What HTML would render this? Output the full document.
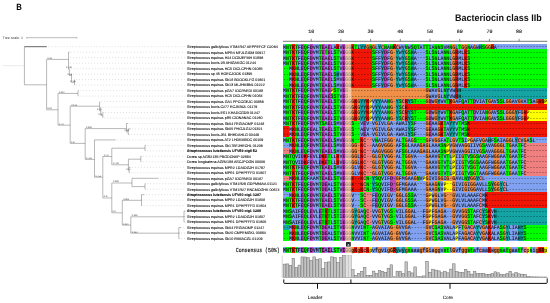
<!DOCTYPE html>
<html lang="en"><head><meta charset="utf-8"><title>Bacteriocin class IIb alignment</title>
<style>html,body{margin:0;padding:0;background:#fff}svg{display:block;filter:blur(0.3px)}.m{font-family:"Liberation Mono","DejaVu Sans Mono",monospace}.s{font-family:"Liberation Sans","DejaVu Sans",sans-serif}</style></head><body>
<svg width="550" height="303" viewBox="0 0 550 303" text-rendering="geometricPrecision">
<rect width="550" height="303" fill="#fff"/>
<g shape-rendering="crispEdges">
<rect x="283.00" y="44.00" width="2.97" height="5.53" fill="#80a0f0"/>
<rect x="285.97" y="44.00" width="5.94" height="5.53" fill="#00ff00"/>
<rect x="291.91" y="44.00" width="2.97" height="5.53" fill="#f01505"/>
<rect x="294.88" y="44.00" width="2.97" height="5.53" fill="#00ff00"/>
<rect x="297.85" y="44.00" width="2.97" height="5.53" fill="#80a0f0"/>
<rect x="300.82" y="44.00" width="2.97" height="5.53" fill="#c048c0"/>
<rect x="303.79" y="44.00" width="2.97" height="5.53" fill="#00ff00"/>
<rect x="306.76" y="44.00" width="2.97" height="5.53" fill="#80a0f0"/>
<rect x="309.73" y="44.00" width="2.97" height="5.53" fill="#c048c0"/>
<rect x="312.70" y="44.00" width="5.94" height="5.53" fill="#80a0f0"/>
<rect x="318.64" y="44.00" width="2.97" height="5.53" fill="#00ff00"/>
<rect x="321.61" y="44.00" width="2.97" height="5.53" fill="#c048c0"/>
<rect x="324.58" y="44.00" width="2.97" height="5.53" fill="#80a0f0"/>
<rect x="327.55" y="44.00" width="2.97" height="5.53" fill="#c048c0"/>
<rect x="330.52" y="44.00" width="5.94" height="5.53" fill="#80a0f0"/>
<rect x="336.46" y="44.00" width="2.97" height="5.53" fill="#f01505"/>
<rect x="339.43" y="44.00" width="2.97" height="5.53" fill="#80a0f0"/>
<rect x="342.40" y="44.00" width="2.97" height="5.53" fill="#c048c0"/>
<rect x="345.37" y="44.00" width="5.94" height="5.53" fill="#f09048"/>
<rect x="351.31" y="44.00" width="2.97" height="5.53" fill="#f01505"/>
<rect x="354.28" y="44.00" width="2.97" height="5.53" fill="#00ff00"/>
<rect x="357.25" y="44.00" width="2.97" height="5.53" fill="#80a0f0"/>
<rect x="360.22" y="44.00" width="5.94" height="5.53" fill="#15a4a4"/>
<rect x="366.16" y="44.00" width="2.97" height="5.53" fill="#f09048"/>
<rect x="369.13" y="44.00" width="2.97" height="5.53" fill="#00ff00"/>
<rect x="372.10" y="44.00" width="2.97" height="5.53" fill="#f09048"/>
<rect x="375.07" y="44.00" width="2.97" height="5.53" fill="#80a0f0"/>
<rect x="378.04" y="44.00" width="2.97" height="5.53" fill="#15a4a4"/>
<rect x="381.01" y="44.00" width="2.97" height="5.53" fill="#f08080"/>
<rect x="383.98" y="44.00" width="2.97" height="5.53" fill="#00ff00"/>
<rect x="386.95" y="44.00" width="2.97" height="5.53" fill="#80a0f0"/>
<rect x="389.92" y="44.00" width="2.97" height="5.53" fill="#00ff00"/>
<rect x="392.89" y="44.00" width="2.97" height="5.53" fill="#f01505"/>
<rect x="395.86" y="44.00" width="2.97" height="5.53" fill="#f08080"/>
<rect x="398.83" y="44.00" width="5.94" height="5.53" fill="#80a0f0"/>
<rect x="404.77" y="44.00" width="2.97" height="5.53" fill="#00ff00"/>
<rect x="407.74" y="44.00" width="2.97" height="5.53" fill="#80a0f0"/>
<rect x="410.71" y="44.00" width="8.91" height="5.53" fill="#00ff00"/>
<rect x="419.62" y="44.00" width="2.97" height="5.53" fill="#80a0f0"/>
<rect x="422.59" y="44.00" width="5.94" height="5.53" fill="#00ff00"/>
<rect x="428.53" y="44.00" width="5.94" height="5.53" fill="#80a0f0"/>
<rect x="434.47" y="44.00" width="8.91" height="5.53" fill="#00ff00"/>
<rect x="443.38" y="44.00" width="5.94" height="5.53" fill="#80a0f0"/>
<rect x="449.32" y="44.00" width="2.97" height="5.53" fill="#00ff00"/>
<rect x="452.29" y="44.00" width="2.97" height="5.53" fill="#f09048"/>
<rect x="455.26" y="44.00" width="2.97" height="5.53" fill="#80a0f0"/>
<rect x="458.23" y="44.00" width="2.97" height="5.53" fill="#00ff00"/>
<rect x="461.20" y="44.00" width="5.94" height="5.53" fill="#f09048"/>
<rect x="467.14" y="44.00" width="2.97" height="5.53" fill="#00ff00"/>
<rect x="470.11" y="44.00" width="2.97" height="5.53" fill="#80a0f0"/>
<rect x="473.08" y="44.00" width="2.97" height="5.53" fill="#f09048"/>
<rect x="476.05" y="44.00" width="2.97" height="5.53" fill="#80a0f0"/>
<rect x="479.02" y="44.00" width="2.97" height="5.53" fill="#15a4a4"/>
<rect x="481.99" y="44.00" width="2.97" height="5.53" fill="#00ff00"/>
<rect x="484.96" y="44.00" width="5.94" height="5.53" fill="#f09048"/>
<rect x="490.90" y="44.00" width="2.97" height="5.53" fill="#f01505"/>
<rect x="493.87" y="44.00" width="53.46" height="5.53" fill="#80a0f0"/>
<rect x="283.00" y="49.48" width="2.97" height="5.53" fill="#80a0f0"/>
<rect x="285.97" y="49.48" width="5.94" height="5.53" fill="#00ff00"/>
<rect x="291.91" y="49.48" width="2.97" height="5.53" fill="#f01505"/>
<rect x="294.88" y="49.48" width="2.97" height="5.53" fill="#00ff00"/>
<rect x="297.85" y="49.48" width="2.97" height="5.53" fill="#80a0f0"/>
<rect x="300.82" y="49.48" width="2.97" height="5.53" fill="#c048c0"/>
<rect x="303.79" y="49.48" width="2.97" height="5.53" fill="#00ff00"/>
<rect x="306.76" y="49.48" width="2.97" height="5.53" fill="#80a0f0"/>
<rect x="309.73" y="49.48" width="2.97" height="5.53" fill="#c048c0"/>
<rect x="312.70" y="49.48" width="5.94" height="5.53" fill="#80a0f0"/>
<rect x="318.64" y="49.48" width="2.97" height="5.53" fill="#00ff00"/>
<rect x="321.61" y="49.48" width="2.97" height="5.53" fill="#c048c0"/>
<rect x="324.58" y="49.48" width="2.97" height="5.53" fill="#00ff00"/>
<rect x="327.55" y="49.48" width="2.97" height="5.53" fill="#c048c0"/>
<rect x="330.52" y="49.48" width="2.97" height="5.53" fill="#80a0f0"/>
<rect x="333.49" y="49.48" width="5.94" height="5.53" fill="#00ff00"/>
<rect x="339.43" y="49.48" width="2.97" height="5.53" fill="#80a0f0"/>
<rect x="342.40" y="49.48" width="2.97" height="5.53" fill="#c048c0"/>
<rect x="345.37" y="49.48" width="5.94" height="5.53" fill="#f09048"/>
<rect x="351.31" y="49.48" width="20.79" height="5.53" fill="#f01505"/>
<rect x="372.10" y="49.48" width="2.97" height="5.53" fill="#00ff00"/>
<rect x="375.07" y="49.48" width="5.94" height="5.53" fill="#80a0f0"/>
<rect x="381.01" y="49.48" width="2.97" height="5.53" fill="#15a4a4"/>
<rect x="383.98" y="49.48" width="2.97" height="5.53" fill="#c048c0"/>
<rect x="386.95" y="49.48" width="2.97" height="5.53" fill="#80a0f0"/>
<rect x="389.92" y="49.48" width="5.94" height="5.53" fill="#f09048"/>
<rect x="395.86" y="49.48" width="2.97" height="5.53" fill="#15a4a4"/>
<rect x="398.83" y="49.48" width="2.97" height="5.53" fill="#80a0f0"/>
<rect x="401.80" y="49.48" width="2.97" height="5.53" fill="#15a4a4"/>
<rect x="404.77" y="49.48" width="2.97" height="5.53" fill="#f09048"/>
<rect x="407.74" y="49.48" width="2.97" height="5.53" fill="#00ff00"/>
<rect x="410.71" y="49.48" width="2.97" height="5.53" fill="#15a4a4"/>
<rect x="413.68" y="49.48" width="11.88" height="5.53" fill="#80a0f0"/>
<rect x="425.56" y="49.48" width="2.97" height="5.53" fill="#00ff00"/>
<rect x="428.53" y="49.48" width="2.97" height="5.53" fill="#80a0f0"/>
<rect x="431.50" y="49.48" width="5.94" height="5.53" fill="#00ff00"/>
<rect x="437.44" y="49.48" width="5.94" height="5.53" fill="#80a0f0"/>
<rect x="443.38" y="49.48" width="5.94" height="5.53" fill="#00ff00"/>
<rect x="449.32" y="49.48" width="2.97" height="5.53" fill="#80a0f0"/>
<rect x="452.29" y="49.48" width="2.97" height="5.53" fill="#f09048"/>
<rect x="455.26" y="49.48" width="2.97" height="5.53" fill="#f01505"/>
<rect x="458.23" y="49.48" width="5.94" height="5.53" fill="#80a0f0"/>
<rect x="464.17" y="49.48" width="2.97" height="5.53" fill="#f01505"/>
<rect x="467.14" y="49.48" width="80.19" height="5.53" fill="#00ff00"/>
<rect x="283.00" y="54.96" width="2.97" height="5.53" fill="#80a0f0"/>
<rect x="285.97" y="54.96" width="5.94" height="5.53" fill="#00ff00"/>
<rect x="291.91" y="54.96" width="2.97" height="5.53" fill="#f01505"/>
<rect x="294.88" y="54.96" width="2.97" height="5.53" fill="#00ff00"/>
<rect x="297.85" y="54.96" width="2.97" height="5.53" fill="#80a0f0"/>
<rect x="300.82" y="54.96" width="2.97" height="5.53" fill="#c048c0"/>
<rect x="303.79" y="54.96" width="2.97" height="5.53" fill="#00ff00"/>
<rect x="306.76" y="54.96" width="2.97" height="5.53" fill="#80a0f0"/>
<rect x="309.73" y="54.96" width="2.97" height="5.53" fill="#c048c0"/>
<rect x="312.70" y="54.96" width="5.94" height="5.53" fill="#80a0f0"/>
<rect x="318.64" y="54.96" width="2.97" height="5.53" fill="#00ff00"/>
<rect x="321.61" y="54.96" width="2.97" height="5.53" fill="#c048c0"/>
<rect x="324.58" y="54.96" width="2.97" height="5.53" fill="#80a0f0"/>
<rect x="327.55" y="54.96" width="2.97" height="5.53" fill="#c048c0"/>
<rect x="330.52" y="54.96" width="2.97" height="5.53" fill="#80a0f0"/>
<rect x="333.49" y="54.96" width="5.94" height="5.53" fill="#00ff00"/>
<rect x="339.43" y="54.96" width="2.97" height="5.53" fill="#80a0f0"/>
<rect x="342.40" y="54.96" width="2.97" height="5.53" fill="#c048c0"/>
<rect x="345.37" y="54.96" width="5.94" height="5.53" fill="#f09048"/>
<rect x="351.31" y="54.96" width="20.79" height="5.53" fill="#f01505"/>
<rect x="372.10" y="54.96" width="2.97" height="5.53" fill="#00ff00"/>
<rect x="375.07" y="54.96" width="5.94" height="5.53" fill="#80a0f0"/>
<rect x="381.01" y="54.96" width="2.97" height="5.53" fill="#15a4a4"/>
<rect x="383.98" y="54.96" width="2.97" height="5.53" fill="#c048c0"/>
<rect x="386.95" y="54.96" width="2.97" height="5.53" fill="#80a0f0"/>
<rect x="389.92" y="54.96" width="5.94" height="5.53" fill="#f09048"/>
<rect x="395.86" y="54.96" width="2.97" height="5.53" fill="#15a4a4"/>
<rect x="398.83" y="54.96" width="2.97" height="5.53" fill="#80a0f0"/>
<rect x="401.80" y="54.96" width="2.97" height="5.53" fill="#15a4a4"/>
<rect x="404.77" y="54.96" width="2.97" height="5.53" fill="#f09048"/>
<rect x="407.74" y="54.96" width="2.97" height="5.53" fill="#00ff00"/>
<rect x="410.71" y="54.96" width="2.97" height="5.53" fill="#15a4a4"/>
<rect x="413.68" y="54.96" width="11.88" height="5.53" fill="#80a0f0"/>
<rect x="425.56" y="54.96" width="2.97" height="5.53" fill="#00ff00"/>
<rect x="428.53" y="54.96" width="2.97" height="5.53" fill="#80a0f0"/>
<rect x="431.50" y="54.96" width="5.94" height="5.53" fill="#00ff00"/>
<rect x="437.44" y="54.96" width="5.94" height="5.53" fill="#80a0f0"/>
<rect x="443.38" y="54.96" width="5.94" height="5.53" fill="#00ff00"/>
<rect x="449.32" y="54.96" width="2.97" height="5.53" fill="#80a0f0"/>
<rect x="452.29" y="54.96" width="2.97" height="5.53" fill="#f09048"/>
<rect x="455.26" y="54.96" width="2.97" height="5.53" fill="#f01505"/>
<rect x="458.23" y="54.96" width="5.94" height="5.53" fill="#80a0f0"/>
<rect x="464.17" y="54.96" width="2.97" height="5.53" fill="#f01505"/>
<rect x="467.14" y="54.96" width="80.19" height="5.53" fill="#00ff00"/>
<rect x="283.00" y="60.44" width="2.97" height="5.53" fill="#80a0f0"/>
<rect x="285.97" y="60.44" width="5.94" height="5.53" fill="#00ff00"/>
<rect x="291.91" y="60.44" width="2.97" height="5.53" fill="#f01505"/>
<rect x="294.88" y="60.44" width="2.97" height="5.53" fill="#00ff00"/>
<rect x="297.85" y="60.44" width="2.97" height="5.53" fill="#80a0f0"/>
<rect x="300.82" y="60.44" width="2.97" height="5.53" fill="#c048c0"/>
<rect x="303.79" y="60.44" width="2.97" height="5.53" fill="#00ff00"/>
<rect x="306.76" y="60.44" width="2.97" height="5.53" fill="#80a0f0"/>
<rect x="309.73" y="60.44" width="2.97" height="5.53" fill="#c048c0"/>
<rect x="312.70" y="60.44" width="5.94" height="5.53" fill="#80a0f0"/>
<rect x="318.64" y="60.44" width="2.97" height="5.53" fill="#00ff00"/>
<rect x="321.61" y="60.44" width="2.97" height="5.53" fill="#c048c0"/>
<rect x="324.58" y="60.44" width="2.97" height="5.53" fill="#80a0f0"/>
<rect x="327.55" y="60.44" width="2.97" height="5.53" fill="#c048c0"/>
<rect x="330.52" y="60.44" width="2.97" height="5.53" fill="#80a0f0"/>
<rect x="333.49" y="60.44" width="5.94" height="5.53" fill="#00ff00"/>
<rect x="339.43" y="60.44" width="2.97" height="5.53" fill="#80a0f0"/>
<rect x="342.40" y="60.44" width="2.97" height="5.53" fill="#c048c0"/>
<rect x="345.37" y="60.44" width="5.94" height="5.53" fill="#f09048"/>
<rect x="351.31" y="60.44" width="20.79" height="5.53" fill="#f01505"/>
<rect x="372.10" y="60.44" width="2.97" height="5.53" fill="#00ff00"/>
<rect x="375.07" y="60.44" width="5.94" height="5.53" fill="#80a0f0"/>
<rect x="381.01" y="60.44" width="2.97" height="5.53" fill="#15a4a4"/>
<rect x="383.98" y="60.44" width="2.97" height="5.53" fill="#c048c0"/>
<rect x="386.95" y="60.44" width="2.97" height="5.53" fill="#80a0f0"/>
<rect x="389.92" y="60.44" width="5.94" height="5.53" fill="#f09048"/>
<rect x="395.86" y="60.44" width="2.97" height="5.53" fill="#15a4a4"/>
<rect x="398.83" y="60.44" width="2.97" height="5.53" fill="#80a0f0"/>
<rect x="401.80" y="60.44" width="2.97" height="5.53" fill="#15a4a4"/>
<rect x="404.77" y="60.44" width="2.97" height="5.53" fill="#f09048"/>
<rect x="407.74" y="60.44" width="2.97" height="5.53" fill="#00ff00"/>
<rect x="410.71" y="60.44" width="2.97" height="5.53" fill="#15a4a4"/>
<rect x="413.68" y="60.44" width="11.88" height="5.53" fill="#80a0f0"/>
<rect x="425.56" y="60.44" width="2.97" height="5.53" fill="#00ff00"/>
<rect x="428.53" y="60.44" width="2.97" height="5.53" fill="#80a0f0"/>
<rect x="431.50" y="60.44" width="5.94" height="5.53" fill="#00ff00"/>
<rect x="437.44" y="60.44" width="5.94" height="5.53" fill="#80a0f0"/>
<rect x="443.38" y="60.44" width="5.94" height="5.53" fill="#00ff00"/>
<rect x="449.32" y="60.44" width="2.97" height="5.53" fill="#80a0f0"/>
<rect x="452.29" y="60.44" width="2.97" height="5.53" fill="#f09048"/>
<rect x="455.26" y="60.44" width="2.97" height="5.53" fill="#f01505"/>
<rect x="458.23" y="60.44" width="5.94" height="5.53" fill="#80a0f0"/>
<rect x="464.17" y="60.44" width="2.97" height="5.53" fill="#f01505"/>
<rect x="467.14" y="60.44" width="80.19" height="5.53" fill="#00ff00"/>
<rect x="283.00" y="65.92" width="5.94" height="5.53" fill="#00ff00"/>
<rect x="288.94" y="65.92" width="2.97" height="5.53" fill="#80a0f0"/>
<rect x="291.91" y="65.92" width="2.97" height="5.53" fill="#f01505"/>
<rect x="294.88" y="65.92" width="2.97" height="5.53" fill="#00ff00"/>
<rect x="297.85" y="65.92" width="2.97" height="5.53" fill="#80a0f0"/>
<rect x="300.82" y="65.92" width="2.97" height="5.53" fill="#c048c0"/>
<rect x="303.79" y="65.92" width="2.97" height="5.53" fill="#00ff00"/>
<rect x="306.76" y="65.92" width="2.97" height="5.53" fill="#80a0f0"/>
<rect x="309.73" y="65.92" width="2.97" height="5.53" fill="#c048c0"/>
<rect x="312.70" y="65.92" width="5.94" height="5.53" fill="#80a0f0"/>
<rect x="318.64" y="65.92" width="2.97" height="5.53" fill="#00ff00"/>
<rect x="321.61" y="65.92" width="2.97" height="5.53" fill="#c048c0"/>
<rect x="324.58" y="65.92" width="2.97" height="5.53" fill="#80a0f0"/>
<rect x="327.55" y="65.92" width="2.97" height="5.53" fill="#c048c0"/>
<rect x="330.52" y="65.92" width="2.97" height="5.53" fill="#80a0f0"/>
<rect x="333.49" y="65.92" width="5.94" height="5.53" fill="#00ff00"/>
<rect x="339.43" y="65.92" width="2.97" height="5.53" fill="#80a0f0"/>
<rect x="342.40" y="65.92" width="2.97" height="5.53" fill="#c048c0"/>
<rect x="345.37" y="65.92" width="5.94" height="5.53" fill="#f09048"/>
<rect x="351.31" y="65.92" width="20.79" height="5.53" fill="#f01505"/>
<rect x="372.10" y="65.92" width="2.97" height="5.53" fill="#00ff00"/>
<rect x="375.07" y="65.92" width="5.94" height="5.53" fill="#80a0f0"/>
<rect x="381.01" y="65.92" width="2.97" height="5.53" fill="#15a4a4"/>
<rect x="383.98" y="65.92" width="2.97" height="5.53" fill="#c048c0"/>
<rect x="386.95" y="65.92" width="2.97" height="5.53" fill="#80a0f0"/>
<rect x="389.92" y="65.92" width="5.94" height="5.53" fill="#f09048"/>
<rect x="395.86" y="65.92" width="2.97" height="5.53" fill="#15a4a4"/>
<rect x="398.83" y="65.92" width="2.97" height="5.53" fill="#80a0f0"/>
<rect x="401.80" y="65.92" width="2.97" height="5.53" fill="#15a4a4"/>
<rect x="404.77" y="65.92" width="2.97" height="5.53" fill="#f09048"/>
<rect x="407.74" y="65.92" width="2.97" height="5.53" fill="#00ff00"/>
<rect x="410.71" y="65.92" width="2.97" height="5.53" fill="#15a4a4"/>
<rect x="413.68" y="65.92" width="11.88" height="5.53" fill="#80a0f0"/>
<rect x="425.56" y="65.92" width="2.97" height="5.53" fill="#00ff00"/>
<rect x="428.53" y="65.92" width="2.97" height="5.53" fill="#80a0f0"/>
<rect x="431.50" y="65.92" width="5.94" height="5.53" fill="#00ff00"/>
<rect x="437.44" y="65.92" width="5.94" height="5.53" fill="#80a0f0"/>
<rect x="443.38" y="65.92" width="5.94" height="5.53" fill="#00ff00"/>
<rect x="449.32" y="65.92" width="2.97" height="5.53" fill="#80a0f0"/>
<rect x="452.29" y="65.92" width="2.97" height="5.53" fill="#f09048"/>
<rect x="455.26" y="65.92" width="2.97" height="5.53" fill="#f01505"/>
<rect x="458.23" y="65.92" width="5.94" height="5.53" fill="#80a0f0"/>
<rect x="464.17" y="65.92" width="2.97" height="5.53" fill="#f01505"/>
<rect x="467.14" y="65.92" width="80.19" height="5.53" fill="#00ff00"/>
<rect x="283.00" y="71.40" width="5.94" height="5.53" fill="#00ff00"/>
<rect x="288.94" y="71.40" width="2.97" height="5.53" fill="#80a0f0"/>
<rect x="291.91" y="71.40" width="2.97" height="5.53" fill="#f01505"/>
<rect x="294.88" y="71.40" width="2.97" height="5.53" fill="#00ff00"/>
<rect x="297.85" y="71.40" width="2.97" height="5.53" fill="#80a0f0"/>
<rect x="300.82" y="71.40" width="2.97" height="5.53" fill="#c048c0"/>
<rect x="303.79" y="71.40" width="2.97" height="5.53" fill="#00ff00"/>
<rect x="306.76" y="71.40" width="2.97" height="5.53" fill="#80a0f0"/>
<rect x="309.73" y="71.40" width="2.97" height="5.53" fill="#c048c0"/>
<rect x="312.70" y="71.40" width="5.94" height="5.53" fill="#80a0f0"/>
<rect x="318.64" y="71.40" width="2.97" height="5.53" fill="#00ff00"/>
<rect x="321.61" y="71.40" width="2.97" height="5.53" fill="#c048c0"/>
<rect x="324.58" y="71.40" width="2.97" height="5.53" fill="#80a0f0"/>
<rect x="327.55" y="71.40" width="2.97" height="5.53" fill="#c048c0"/>
<rect x="330.52" y="71.40" width="2.97" height="5.53" fill="#80a0f0"/>
<rect x="333.49" y="71.40" width="2.97" height="5.53" fill="#00ff00"/>
<rect x="336.46" y="71.40" width="2.97" height="5.53" fill="#15a4a4"/>
<rect x="339.43" y="71.40" width="2.97" height="5.53" fill="#80a0f0"/>
<rect x="342.40" y="71.40" width="2.97" height="5.53" fill="#c048c0"/>
<rect x="345.37" y="71.40" width="5.94" height="5.53" fill="#f09048"/>
<rect x="351.31" y="71.40" width="20.79" height="5.53" fill="#f01505"/>
<rect x="372.10" y="71.40" width="2.97" height="5.53" fill="#00ff00"/>
<rect x="375.07" y="71.40" width="5.94" height="5.53" fill="#80a0f0"/>
<rect x="381.01" y="71.40" width="2.97" height="5.53" fill="#15a4a4"/>
<rect x="383.98" y="71.40" width="2.97" height="5.53" fill="#c048c0"/>
<rect x="386.95" y="71.40" width="2.97" height="5.53" fill="#80a0f0"/>
<rect x="389.92" y="71.40" width="5.94" height="5.53" fill="#f09048"/>
<rect x="395.86" y="71.40" width="2.97" height="5.53" fill="#15a4a4"/>
<rect x="398.83" y="71.40" width="2.97" height="5.53" fill="#80a0f0"/>
<rect x="401.80" y="71.40" width="2.97" height="5.53" fill="#15a4a4"/>
<rect x="404.77" y="71.40" width="2.97" height="5.53" fill="#f09048"/>
<rect x="407.74" y="71.40" width="2.97" height="5.53" fill="#00ff00"/>
<rect x="410.71" y="71.40" width="2.97" height="5.53" fill="#15a4a4"/>
<rect x="413.68" y="71.40" width="11.88" height="5.53" fill="#80a0f0"/>
<rect x="425.56" y="71.40" width="2.97" height="5.53" fill="#00ff00"/>
<rect x="428.53" y="71.40" width="2.97" height="5.53" fill="#80a0f0"/>
<rect x="431.50" y="71.40" width="5.94" height="5.53" fill="#00ff00"/>
<rect x="437.44" y="71.40" width="5.94" height="5.53" fill="#80a0f0"/>
<rect x="443.38" y="71.40" width="5.94" height="5.53" fill="#00ff00"/>
<rect x="449.32" y="71.40" width="2.97" height="5.53" fill="#80a0f0"/>
<rect x="452.29" y="71.40" width="2.97" height="5.53" fill="#f09048"/>
<rect x="455.26" y="71.40" width="2.97" height="5.53" fill="#f01505"/>
<rect x="458.23" y="71.40" width="5.94" height="5.53" fill="#80a0f0"/>
<rect x="464.17" y="71.40" width="2.97" height="5.53" fill="#f01505"/>
<rect x="467.14" y="71.40" width="80.19" height="5.53" fill="#00ff00"/>
<rect x="283.00" y="76.88" width="5.94" height="5.53" fill="#00ff00"/>
<rect x="288.94" y="76.88" width="2.97" height="5.53" fill="#80a0f0"/>
<rect x="291.91" y="76.88" width="2.97" height="5.53" fill="#f01505"/>
<rect x="294.88" y="76.88" width="2.97" height="5.53" fill="#00ff00"/>
<rect x="297.85" y="76.88" width="2.97" height="5.53" fill="#80a0f0"/>
<rect x="300.82" y="76.88" width="2.97" height="5.53" fill="#c048c0"/>
<rect x="303.79" y="76.88" width="2.97" height="5.53" fill="#00ff00"/>
<rect x="306.76" y="76.88" width="2.97" height="5.53" fill="#80a0f0"/>
<rect x="309.73" y="76.88" width="2.97" height="5.53" fill="#c048c0"/>
<rect x="312.70" y="76.88" width="5.94" height="5.53" fill="#80a0f0"/>
<rect x="318.64" y="76.88" width="2.97" height="5.53" fill="#00ff00"/>
<rect x="321.61" y="76.88" width="2.97" height="5.53" fill="#c048c0"/>
<rect x="324.58" y="76.88" width="2.97" height="5.53" fill="#80a0f0"/>
<rect x="327.55" y="76.88" width="2.97" height="5.53" fill="#c048c0"/>
<rect x="330.52" y="76.88" width="2.97" height="5.53" fill="#80a0f0"/>
<rect x="333.49" y="76.88" width="2.97" height="5.53" fill="#00ff00"/>
<rect x="336.46" y="76.88" width="5.94" height="5.53" fill="#80a0f0"/>
<rect x="342.40" y="76.88" width="2.97" height="5.53" fill="#c048c0"/>
<rect x="345.37" y="76.88" width="5.94" height="5.53" fill="#f09048"/>
<rect x="351.31" y="76.88" width="20.79" height="5.53" fill="#f01505"/>
<rect x="372.10" y="76.88" width="2.97" height="5.53" fill="#00ff00"/>
<rect x="375.07" y="76.88" width="5.94" height="5.53" fill="#80a0f0"/>
<rect x="381.01" y="76.88" width="2.97" height="5.53" fill="#15a4a4"/>
<rect x="383.98" y="76.88" width="2.97" height="5.53" fill="#c048c0"/>
<rect x="386.95" y="76.88" width="2.97" height="5.53" fill="#80a0f0"/>
<rect x="389.92" y="76.88" width="5.94" height="5.53" fill="#f09048"/>
<rect x="395.86" y="76.88" width="2.97" height="5.53" fill="#15a4a4"/>
<rect x="398.83" y="76.88" width="2.97" height="5.53" fill="#80a0f0"/>
<rect x="401.80" y="76.88" width="2.97" height="5.53" fill="#15a4a4"/>
<rect x="404.77" y="76.88" width="2.97" height="5.53" fill="#f09048"/>
<rect x="407.74" y="76.88" width="2.97" height="5.53" fill="#00ff00"/>
<rect x="410.71" y="76.88" width="2.97" height="5.53" fill="#15a4a4"/>
<rect x="413.68" y="76.88" width="11.88" height="5.53" fill="#80a0f0"/>
<rect x="425.56" y="76.88" width="2.97" height="5.53" fill="#00ff00"/>
<rect x="428.53" y="76.88" width="2.97" height="5.53" fill="#80a0f0"/>
<rect x="431.50" y="76.88" width="5.94" height="5.53" fill="#00ff00"/>
<rect x="437.44" y="76.88" width="5.94" height="5.53" fill="#80a0f0"/>
<rect x="443.38" y="76.88" width="5.94" height="5.53" fill="#00ff00"/>
<rect x="449.32" y="76.88" width="2.97" height="5.53" fill="#80a0f0"/>
<rect x="452.29" y="76.88" width="2.97" height="5.53" fill="#f09048"/>
<rect x="455.26" y="76.88" width="2.97" height="5.53" fill="#f01505"/>
<rect x="458.23" y="76.88" width="5.94" height="5.53" fill="#80a0f0"/>
<rect x="464.17" y="76.88" width="2.97" height="5.53" fill="#f01505"/>
<rect x="467.14" y="76.88" width="80.19" height="5.53" fill="#00ff00"/>
<rect x="283.00" y="82.36" width="5.94" height="5.53" fill="#00ff00"/>
<rect x="288.94" y="82.36" width="2.97" height="5.53" fill="#80a0f0"/>
<rect x="291.91" y="82.36" width="2.97" height="5.53" fill="#f01505"/>
<rect x="294.88" y="82.36" width="2.97" height="5.53" fill="#00ff00"/>
<rect x="297.85" y="82.36" width="2.97" height="5.53" fill="#80a0f0"/>
<rect x="300.82" y="82.36" width="2.97" height="5.53" fill="#c048c0"/>
<rect x="303.79" y="82.36" width="2.97" height="5.53" fill="#00ff00"/>
<rect x="306.76" y="82.36" width="2.97" height="5.53" fill="#80a0f0"/>
<rect x="309.73" y="82.36" width="2.97" height="5.53" fill="#c048c0"/>
<rect x="312.70" y="82.36" width="5.94" height="5.53" fill="#80a0f0"/>
<rect x="318.64" y="82.36" width="2.97" height="5.53" fill="#00ff00"/>
<rect x="321.61" y="82.36" width="2.97" height="5.53" fill="#c048c0"/>
<rect x="324.58" y="82.36" width="2.97" height="5.53" fill="#80a0f0"/>
<rect x="327.55" y="82.36" width="2.97" height="5.53" fill="#c048c0"/>
<rect x="330.52" y="82.36" width="2.97" height="5.53" fill="#80a0f0"/>
<rect x="333.49" y="82.36" width="2.97" height="5.53" fill="#00ff00"/>
<rect x="336.46" y="82.36" width="5.94" height="5.53" fill="#80a0f0"/>
<rect x="342.40" y="82.36" width="2.97" height="5.53" fill="#c048c0"/>
<rect x="345.37" y="82.36" width="5.94" height="5.53" fill="#f09048"/>
<rect x="351.31" y="82.36" width="20.79" height="5.53" fill="#f01505"/>
<rect x="372.10" y="82.36" width="2.97" height="5.53" fill="#00ff00"/>
<rect x="375.07" y="82.36" width="5.94" height="5.53" fill="#80a0f0"/>
<rect x="381.01" y="82.36" width="2.97" height="5.53" fill="#15a4a4"/>
<rect x="383.98" y="82.36" width="2.97" height="5.53" fill="#c048c0"/>
<rect x="386.95" y="82.36" width="2.97" height="5.53" fill="#80a0f0"/>
<rect x="389.92" y="82.36" width="5.94" height="5.53" fill="#f09048"/>
<rect x="395.86" y="82.36" width="2.97" height="5.53" fill="#15a4a4"/>
<rect x="398.83" y="82.36" width="2.97" height="5.53" fill="#80a0f0"/>
<rect x="401.80" y="82.36" width="2.97" height="5.53" fill="#15a4a4"/>
<rect x="404.77" y="82.36" width="2.97" height="5.53" fill="#f09048"/>
<rect x="407.74" y="82.36" width="2.97" height="5.53" fill="#00ff00"/>
<rect x="410.71" y="82.36" width="2.97" height="5.53" fill="#15a4a4"/>
<rect x="413.68" y="82.36" width="11.88" height="5.53" fill="#80a0f0"/>
<rect x="425.56" y="82.36" width="2.97" height="5.53" fill="#00ff00"/>
<rect x="428.53" y="82.36" width="2.97" height="5.53" fill="#80a0f0"/>
<rect x="431.50" y="82.36" width="5.94" height="5.53" fill="#00ff00"/>
<rect x="437.44" y="82.36" width="5.94" height="5.53" fill="#80a0f0"/>
<rect x="443.38" y="82.36" width="5.94" height="5.53" fill="#00ff00"/>
<rect x="449.32" y="82.36" width="2.97" height="5.53" fill="#80a0f0"/>
<rect x="452.29" y="82.36" width="2.97" height="5.53" fill="#f09048"/>
<rect x="455.26" y="82.36" width="2.97" height="5.53" fill="#f01505"/>
<rect x="458.23" y="82.36" width="5.94" height="5.53" fill="#80a0f0"/>
<rect x="464.17" y="82.36" width="2.97" height="5.53" fill="#f01505"/>
<rect x="467.14" y="82.36" width="80.19" height="5.53" fill="#00ff00"/>
<rect x="283.00" y="87.84" width="2.97" height="5.53" fill="#80a0f0"/>
<rect x="285.97" y="87.84" width="5.94" height="5.53" fill="#00ff00"/>
<rect x="291.91" y="87.84" width="2.97" height="5.53" fill="#f01505"/>
<rect x="294.88" y="87.84" width="2.97" height="5.53" fill="#00ff00"/>
<rect x="297.85" y="87.84" width="2.97" height="5.53" fill="#80a0f0"/>
<rect x="300.82" y="87.84" width="2.97" height="5.53" fill="#c048c0"/>
<rect x="303.79" y="87.84" width="2.97" height="5.53" fill="#00ff00"/>
<rect x="306.76" y="87.84" width="2.97" height="5.53" fill="#80a0f0"/>
<rect x="309.73" y="87.84" width="2.97" height="5.53" fill="#c048c0"/>
<rect x="312.70" y="87.84" width="5.94" height="5.53" fill="#80a0f0"/>
<rect x="318.64" y="87.84" width="2.97" height="5.53" fill="#00ff00"/>
<rect x="321.61" y="87.84" width="2.97" height="5.53" fill="#c048c0"/>
<rect x="324.58" y="87.84" width="2.97" height="5.53" fill="#80a0f0"/>
<rect x="327.55" y="87.84" width="2.97" height="5.53" fill="#c048c0"/>
<rect x="330.52" y="87.84" width="2.97" height="5.53" fill="#ffff00"/>
<rect x="333.49" y="87.84" width="5.94" height="5.53" fill="#00ff00"/>
<rect x="339.43" y="87.84" width="2.97" height="5.53" fill="#80a0f0"/>
<rect x="342.40" y="87.84" width="2.97" height="5.53" fill="#c048c0"/>
<rect x="345.37" y="87.84" width="83.16" height="5.53" fill="#f09048"/>
<rect x="428.53" y="87.84" width="8.91" height="5.53" fill="#80a0f0"/>
<rect x="437.44" y="87.84" width="2.97" height="5.53" fill="#f09048"/>
<rect x="440.41" y="87.84" width="2.97" height="5.53" fill="#80a0f0"/>
<rect x="443.38" y="87.84" width="2.97" height="5.53" fill="#00ff00"/>
<rect x="446.35" y="87.84" width="2.97" height="5.53" fill="#15a4a4"/>
<rect x="449.32" y="87.84" width="5.94" height="5.53" fill="#80a0f0"/>
<rect x="455.26" y="87.84" width="2.97" height="5.53" fill="#f01505"/>
<rect x="458.23" y="87.84" width="89.10" height="5.53" fill="#15a4a4"/>
<rect x="283.00" y="93.32" width="2.97" height="5.53" fill="#80a0f0"/>
<rect x="285.97" y="93.32" width="5.94" height="5.53" fill="#00ff00"/>
<rect x="291.91" y="93.32" width="2.97" height="5.53" fill="#f01505"/>
<rect x="294.88" y="93.32" width="2.97" height="5.53" fill="#00ff00"/>
<rect x="297.85" y="93.32" width="2.97" height="5.53" fill="#80a0f0"/>
<rect x="300.82" y="93.32" width="2.97" height="5.53" fill="#c048c0"/>
<rect x="303.79" y="93.32" width="2.97" height="5.53" fill="#00ff00"/>
<rect x="306.76" y="93.32" width="2.97" height="5.53" fill="#80a0f0"/>
<rect x="309.73" y="93.32" width="2.97" height="5.53" fill="#c048c0"/>
<rect x="312.70" y="93.32" width="5.94" height="5.53" fill="#80a0f0"/>
<rect x="318.64" y="93.32" width="2.97" height="5.53" fill="#00ff00"/>
<rect x="321.61" y="93.32" width="2.97" height="5.53" fill="#c048c0"/>
<rect x="324.58" y="93.32" width="2.97" height="5.53" fill="#80a0f0"/>
<rect x="327.55" y="93.32" width="2.97" height="5.53" fill="#c048c0"/>
<rect x="330.52" y="93.32" width="8.91" height="5.53" fill="#00ff00"/>
<rect x="339.43" y="93.32" width="2.97" height="5.53" fill="#80a0f0"/>
<rect x="342.40" y="93.32" width="2.97" height="5.53" fill="#c048c0"/>
<rect x="345.37" y="93.32" width="83.16" height="5.53" fill="#f09048"/>
<rect x="428.53" y="93.32" width="8.91" height="5.53" fill="#80a0f0"/>
<rect x="437.44" y="93.32" width="2.97" height="5.53" fill="#f09048"/>
<rect x="440.41" y="93.32" width="2.97" height="5.53" fill="#80a0f0"/>
<rect x="443.38" y="93.32" width="2.97" height="5.53" fill="#00ff00"/>
<rect x="446.35" y="93.32" width="2.97" height="5.53" fill="#15a4a4"/>
<rect x="449.32" y="93.32" width="5.94" height="5.53" fill="#80a0f0"/>
<rect x="455.26" y="93.32" width="2.97" height="5.53" fill="#f01505"/>
<rect x="458.23" y="93.32" width="89.10" height="5.53" fill="#15a4a4"/>
<rect x="283.00" y="98.80" width="2.97" height="5.53" fill="#80a0f0"/>
<rect x="285.97" y="98.80" width="5.94" height="5.53" fill="#00ff00"/>
<rect x="291.91" y="98.80" width="2.97" height="5.53" fill="#f01505"/>
<rect x="294.88" y="98.80" width="2.97" height="5.53" fill="#00ff00"/>
<rect x="297.85" y="98.80" width="2.97" height="5.53" fill="#80a0f0"/>
<rect x="300.82" y="98.80" width="2.97" height="5.53" fill="#c048c0"/>
<rect x="303.79" y="98.80" width="2.97" height="5.53" fill="#00ff00"/>
<rect x="306.76" y="98.80" width="2.97" height="5.53" fill="#80a0f0"/>
<rect x="309.73" y="98.80" width="2.97" height="5.53" fill="#c048c0"/>
<rect x="312.70" y="98.80" width="5.94" height="5.53" fill="#80a0f0"/>
<rect x="318.64" y="98.80" width="2.97" height="5.53" fill="#00ff00"/>
<rect x="321.61" y="98.80" width="2.97" height="5.53" fill="#c048c0"/>
<rect x="324.58" y="98.80" width="2.97" height="5.53" fill="#80a0f0"/>
<rect x="327.55" y="98.80" width="2.97" height="5.53" fill="#c048c0"/>
<rect x="330.52" y="98.80" width="2.97" height="5.53" fill="#80a0f0"/>
<rect x="333.49" y="98.80" width="5.94" height="5.53" fill="#00ff00"/>
<rect x="339.43" y="98.80" width="2.97" height="5.53" fill="#80a0f0"/>
<rect x="342.40" y="98.80" width="2.97" height="5.53" fill="#c048c0"/>
<rect x="345.37" y="98.80" width="8.91" height="5.53" fill="#f09048"/>
<rect x="354.28" y="98.80" width="2.97" height="5.53" fill="#f01505"/>
<rect x="357.25" y="98.80" width="2.97" height="5.53" fill="#f09048"/>
<rect x="360.22" y="98.80" width="5.94" height="5.53" fill="#15a4a4"/>
<rect x="366.16" y="98.80" width="2.97" height="5.53" fill="#f01505"/>
<rect x="369.13" y="98.80" width="2.97" height="5.53" fill="#ffff00"/>
<rect x="372.10" y="98.80" width="2.97" height="5.53" fill="#80a0f0"/>
<rect x="375.07" y="98.80" width="5.94" height="5.53" fill="#15a4a4"/>
<rect x="381.01" y="98.80" width="5.94" height="5.53" fill="#80a0f0"/>
<rect x="386.95" y="98.80" width="2.97" height="5.53" fill="#00ff00"/>
<rect x="389.92" y="98.80" width="5.94" height="5.53" fill="#f09048"/>
<rect x="395.86" y="98.80" width="2.97" height="5.53" fill="#15a4a4"/>
<rect x="398.83" y="98.80" width="2.97" height="5.53" fill="#00ff00"/>
<rect x="401.80" y="98.80" width="2.97" height="5.53" fill="#f08080"/>
<rect x="404.77" y="98.80" width="2.97" height="5.53" fill="#f01505"/>
<rect x="407.74" y="98.80" width="2.97" height="5.53" fill="#15a4a4"/>
<rect x="410.71" y="98.80" width="14.85" height="5.53" fill="#00ff00"/>
<rect x="425.56" y="98.80" width="2.97" height="5.53" fill="#f09048"/>
<rect x="428.53" y="98.80" width="2.97" height="5.53" fill="#c048c0"/>
<rect x="431.50" y="98.80" width="2.97" height="5.53" fill="#80a0f0"/>
<rect x="434.47" y="98.80" width="2.97" height="5.53" fill="#f09048"/>
<rect x="437.44" y="98.80" width="2.97" height="5.53" fill="#15a4a4"/>
<rect x="440.41" y="98.80" width="5.94" height="5.53" fill="#80a0f0"/>
<rect x="446.35" y="98.80" width="2.97" height="5.53" fill="#00ff00"/>
<rect x="449.32" y="98.80" width="2.97" height="5.53" fill="#f01505"/>
<rect x="452.29" y="98.80" width="2.97" height="5.53" fill="#f09048"/>
<rect x="455.26" y="98.80" width="5.94" height="5.53" fill="#80a0f0"/>
<rect x="461.20" y="98.80" width="2.97" height="5.53" fill="#00ff00"/>
<rect x="464.17" y="98.80" width="2.97" height="5.53" fill="#80a0f0"/>
<rect x="467.14" y="98.80" width="5.94" height="5.53" fill="#00ff00"/>
<rect x="473.08" y="98.80" width="2.97" height="5.53" fill="#c048c0"/>
<rect x="476.05" y="98.80" width="8.91" height="5.53" fill="#80a0f0"/>
<rect x="484.96" y="98.80" width="2.97" height="5.53" fill="#00ff00"/>
<rect x="487.93" y="98.80" width="2.97" height="5.53" fill="#f09048"/>
<rect x="490.90" y="98.80" width="5.94" height="5.53" fill="#80a0f0"/>
<rect x="496.84" y="98.80" width="5.94" height="5.53" fill="#00ff00"/>
<rect x="502.78" y="98.80" width="2.97" height="5.53" fill="#80a0f0"/>
<rect x="505.75" y="98.80" width="5.94" height="5.53" fill="#f09048"/>
<rect x="511.69" y="98.80" width="5.94" height="5.53" fill="#80a0f0"/>
<rect x="517.63" y="98.80" width="2.97" height="5.53" fill="#f09048"/>
<rect x="520.60" y="98.80" width="5.94" height="5.53" fill="#80a0f0"/>
<rect x="526.54" y="98.80" width="5.94" height="5.53" fill="#00ff00"/>
<rect x="532.48" y="98.80" width="2.97" height="5.53" fill="#80a0f0"/>
<rect x="535.45" y="98.80" width="2.97" height="5.53" fill="#f09048"/>
<rect x="538.42" y="98.80" width="5.94" height="5.53" fill="#f01505"/>
<rect x="544.36" y="98.80" width="2.97" height="5.53" fill="#ffff00"/>
<rect x="283.00" y="104.28" width="2.97" height="5.53" fill="#80a0f0"/>
<rect x="285.97" y="104.28" width="5.94" height="5.53" fill="#00ff00"/>
<rect x="291.91" y="104.28" width="2.97" height="5.53" fill="#f01505"/>
<rect x="294.88" y="104.28" width="2.97" height="5.53" fill="#00ff00"/>
<rect x="297.85" y="104.28" width="2.97" height="5.53" fill="#80a0f0"/>
<rect x="300.82" y="104.28" width="2.97" height="5.53" fill="#c048c0"/>
<rect x="303.79" y="104.28" width="2.97" height="5.53" fill="#00ff00"/>
<rect x="306.76" y="104.28" width="2.97" height="5.53" fill="#80a0f0"/>
<rect x="309.73" y="104.28" width="2.97" height="5.53" fill="#c048c0"/>
<rect x="312.70" y="104.28" width="5.94" height="5.53" fill="#80a0f0"/>
<rect x="318.64" y="104.28" width="2.97" height="5.53" fill="#00ff00"/>
<rect x="321.61" y="104.28" width="2.97" height="5.53" fill="#c048c0"/>
<rect x="324.58" y="104.28" width="2.97" height="5.53" fill="#80a0f0"/>
<rect x="327.55" y="104.28" width="2.97" height="5.53" fill="#c048c0"/>
<rect x="330.52" y="104.28" width="2.97" height="5.53" fill="#80a0f0"/>
<rect x="333.49" y="104.28" width="5.94" height="5.53" fill="#00ff00"/>
<rect x="339.43" y="104.28" width="2.97" height="5.53" fill="#80a0f0"/>
<rect x="342.40" y="104.28" width="2.97" height="5.53" fill="#c048c0"/>
<rect x="345.37" y="104.28" width="8.91" height="5.53" fill="#f09048"/>
<rect x="354.28" y="104.28" width="2.97" height="5.53" fill="#f01505"/>
<rect x="357.25" y="104.28" width="2.97" height="5.53" fill="#f09048"/>
<rect x="360.22" y="104.28" width="5.94" height="5.53" fill="#15a4a4"/>
<rect x="366.16" y="104.28" width="2.97" height="5.53" fill="#f01505"/>
<rect x="369.13" y="104.28" width="2.97" height="5.53" fill="#ffff00"/>
<rect x="372.10" y="104.28" width="2.97" height="5.53" fill="#80a0f0"/>
<rect x="375.07" y="104.28" width="5.94" height="5.53" fill="#15a4a4"/>
<rect x="381.01" y="104.28" width="5.94" height="5.53" fill="#80a0f0"/>
<rect x="386.95" y="104.28" width="2.97" height="5.53" fill="#00ff00"/>
<rect x="389.92" y="104.28" width="5.94" height="5.53" fill="#f09048"/>
<rect x="395.86" y="104.28" width="2.97" height="5.53" fill="#15a4a4"/>
<rect x="398.83" y="104.28" width="2.97" height="5.53" fill="#00ff00"/>
<rect x="401.80" y="104.28" width="2.97" height="5.53" fill="#f08080"/>
<rect x="404.77" y="104.28" width="142.56" height="5.53" fill="#f01505"/>
<rect x="283.00" y="109.76" width="2.97" height="5.53" fill="#80a0f0"/>
<rect x="285.97" y="109.76" width="5.94" height="5.53" fill="#00ff00"/>
<rect x="291.91" y="109.76" width="2.97" height="5.53" fill="#f01505"/>
<rect x="294.88" y="109.76" width="2.97" height="5.53" fill="#00ff00"/>
<rect x="297.85" y="109.76" width="2.97" height="5.53" fill="#80a0f0"/>
<rect x="300.82" y="109.76" width="2.97" height="5.53" fill="#c048c0"/>
<rect x="303.79" y="109.76" width="2.97" height="5.53" fill="#00ff00"/>
<rect x="306.76" y="109.76" width="2.97" height="5.53" fill="#80a0f0"/>
<rect x="309.73" y="109.76" width="2.97" height="5.53" fill="#c048c0"/>
<rect x="312.70" y="109.76" width="5.94" height="5.53" fill="#80a0f0"/>
<rect x="318.64" y="109.76" width="2.97" height="5.53" fill="#00ff00"/>
<rect x="321.61" y="109.76" width="2.97" height="5.53" fill="#c048c0"/>
<rect x="324.58" y="109.76" width="2.97" height="5.53" fill="#80a0f0"/>
<rect x="327.55" y="109.76" width="2.97" height="5.53" fill="#c048c0"/>
<rect x="330.52" y="109.76" width="2.97" height="5.53" fill="#80a0f0"/>
<rect x="333.49" y="109.76" width="5.94" height="5.53" fill="#00ff00"/>
<rect x="339.43" y="109.76" width="2.97" height="5.53" fill="#80a0f0"/>
<rect x="342.40" y="109.76" width="2.97" height="5.53" fill="#c048c0"/>
<rect x="345.37" y="109.76" width="8.91" height="5.53" fill="#f09048"/>
<rect x="354.28" y="109.76" width="2.97" height="5.53" fill="#f01505"/>
<rect x="357.25" y="109.76" width="2.97" height="5.53" fill="#f09048"/>
<rect x="360.22" y="109.76" width="5.94" height="5.53" fill="#15a4a4"/>
<rect x="366.16" y="109.76" width="2.97" height="5.53" fill="#f01505"/>
<rect x="369.13" y="109.76" width="2.97" height="5.53" fill="#ffff00"/>
<rect x="372.10" y="109.76" width="2.97" height="5.53" fill="#80a0f0"/>
<rect x="375.07" y="109.76" width="5.94" height="5.53" fill="#15a4a4"/>
<rect x="381.01" y="109.76" width="5.94" height="5.53" fill="#80a0f0"/>
<rect x="386.95" y="109.76" width="2.97" height="5.53" fill="#00ff00"/>
<rect x="389.92" y="109.76" width="5.94" height="5.53" fill="#f09048"/>
<rect x="395.86" y="109.76" width="2.97" height="5.53" fill="#15a4a4"/>
<rect x="398.83" y="109.76" width="2.97" height="5.53" fill="#00ff00"/>
<rect x="401.80" y="109.76" width="2.97" height="5.53" fill="#f08080"/>
<rect x="404.77" y="109.76" width="2.97" height="5.53" fill="#f01505"/>
<rect x="407.74" y="109.76" width="2.97" height="5.53" fill="#15a4a4"/>
<rect x="410.71" y="109.76" width="14.85" height="5.53" fill="#00ff00"/>
<rect x="425.56" y="109.76" width="2.97" height="5.53" fill="#f09048"/>
<rect x="428.53" y="109.76" width="2.97" height="5.53" fill="#c048c0"/>
<rect x="431.50" y="109.76" width="2.97" height="5.53" fill="#80a0f0"/>
<rect x="434.47" y="109.76" width="2.97" height="5.53" fill="#f09048"/>
<rect x="437.44" y="109.76" width="2.97" height="5.53" fill="#15a4a4"/>
<rect x="440.41" y="109.76" width="5.94" height="5.53" fill="#80a0f0"/>
<rect x="446.35" y="109.76" width="2.97" height="5.53" fill="#00ff00"/>
<rect x="449.32" y="109.76" width="2.97" height="5.53" fill="#f01505"/>
<rect x="452.29" y="109.76" width="2.97" height="5.53" fill="#f09048"/>
<rect x="455.26" y="109.76" width="5.94" height="5.53" fill="#80a0f0"/>
<rect x="461.20" y="109.76" width="2.97" height="5.53" fill="#00ff00"/>
<rect x="464.17" y="109.76" width="2.97" height="5.53" fill="#80a0f0"/>
<rect x="467.14" y="109.76" width="5.94" height="5.53" fill="#00ff00"/>
<rect x="473.08" y="109.76" width="2.97" height="5.53" fill="#c048c0"/>
<rect x="476.05" y="109.76" width="8.91" height="5.53" fill="#80a0f0"/>
<rect x="484.96" y="109.76" width="2.97" height="5.53" fill="#00ff00"/>
<rect x="487.93" y="109.76" width="2.97" height="5.53" fill="#f09048"/>
<rect x="490.90" y="109.76" width="5.94" height="5.53" fill="#80a0f0"/>
<rect x="496.84" y="109.76" width="5.94" height="5.53" fill="#00ff00"/>
<rect x="502.78" y="109.76" width="2.97" height="5.53" fill="#80a0f0"/>
<rect x="505.75" y="109.76" width="8.91" height="5.53" fill="#f09048"/>
<rect x="514.66" y="109.76" width="2.97" height="5.53" fill="#15a4a4"/>
<rect x="517.63" y="109.76" width="2.97" height="5.53" fill="#80a0f0"/>
<rect x="520.60" y="109.76" width="2.97" height="5.53" fill="#f09048"/>
<rect x="523.57" y="109.76" width="2.97" height="5.53" fill="#f01505"/>
<rect x="526.54" y="109.76" width="20.79" height="5.53" fill="#ffff00"/>
<rect x="283.00" y="115.24" width="2.97" height="5.53" fill="#80a0f0"/>
<rect x="285.97" y="115.24" width="5.94" height="5.53" fill="#00ff00"/>
<rect x="291.91" y="115.24" width="2.97" height="5.53" fill="#f01505"/>
<rect x="294.88" y="115.24" width="2.97" height="5.53" fill="#00ff00"/>
<rect x="297.85" y="115.24" width="2.97" height="5.53" fill="#80a0f0"/>
<rect x="300.82" y="115.24" width="2.97" height="5.53" fill="#c048c0"/>
<rect x="303.79" y="115.24" width="2.97" height="5.53" fill="#00ff00"/>
<rect x="306.76" y="115.24" width="2.97" height="5.53" fill="#80a0f0"/>
<rect x="309.73" y="115.24" width="2.97" height="5.53" fill="#c048c0"/>
<rect x="312.70" y="115.24" width="5.94" height="5.53" fill="#80a0f0"/>
<rect x="318.64" y="115.24" width="2.97" height="5.53" fill="#00ff00"/>
<rect x="321.61" y="115.24" width="2.97" height="5.53" fill="#c048c0"/>
<rect x="324.58" y="115.24" width="2.97" height="5.53" fill="#80a0f0"/>
<rect x="327.55" y="115.24" width="2.97" height="5.53" fill="#c048c0"/>
<rect x="330.52" y="115.24" width="2.97" height="5.53" fill="#80a0f0"/>
<rect x="333.49" y="115.24" width="5.94" height="5.53" fill="#00ff00"/>
<rect x="339.43" y="115.24" width="2.97" height="5.53" fill="#80a0f0"/>
<rect x="342.40" y="115.24" width="2.97" height="5.53" fill="#c048c0"/>
<rect x="345.37" y="115.24" width="8.91" height="5.53" fill="#f09048"/>
<rect x="354.28" y="115.24" width="2.97" height="5.53" fill="#f01505"/>
<rect x="357.25" y="115.24" width="2.97" height="5.53" fill="#f09048"/>
<rect x="360.22" y="115.24" width="5.94" height="5.53" fill="#15a4a4"/>
<rect x="366.16" y="115.24" width="2.97" height="5.53" fill="#f01505"/>
<rect x="369.13" y="115.24" width="2.97" height="5.53" fill="#ffff00"/>
<rect x="372.10" y="115.24" width="2.97" height="5.53" fill="#80a0f0"/>
<rect x="375.07" y="115.24" width="5.94" height="5.53" fill="#15a4a4"/>
<rect x="381.01" y="115.24" width="5.94" height="5.53" fill="#80a0f0"/>
<rect x="386.95" y="115.24" width="2.97" height="5.53" fill="#00ff00"/>
<rect x="389.92" y="115.24" width="5.94" height="5.53" fill="#f09048"/>
<rect x="395.86" y="115.24" width="2.97" height="5.53" fill="#15a4a4"/>
<rect x="398.83" y="115.24" width="2.97" height="5.53" fill="#00ff00"/>
<rect x="401.80" y="115.24" width="2.97" height="5.53" fill="#f08080"/>
<rect x="404.77" y="115.24" width="2.97" height="5.53" fill="#f01505"/>
<rect x="407.74" y="115.24" width="2.97" height="5.53" fill="#15a4a4"/>
<rect x="410.71" y="115.24" width="14.85" height="5.53" fill="#00ff00"/>
<rect x="425.56" y="115.24" width="2.97" height="5.53" fill="#f09048"/>
<rect x="428.53" y="115.24" width="2.97" height="5.53" fill="#c048c0"/>
<rect x="431.50" y="115.24" width="2.97" height="5.53" fill="#80a0f0"/>
<rect x="434.47" y="115.24" width="2.97" height="5.53" fill="#f09048"/>
<rect x="437.44" y="115.24" width="2.97" height="5.53" fill="#15a4a4"/>
<rect x="440.41" y="115.24" width="5.94" height="5.53" fill="#80a0f0"/>
<rect x="446.35" y="115.24" width="2.97" height="5.53" fill="#00ff00"/>
<rect x="449.32" y="115.24" width="2.97" height="5.53" fill="#f01505"/>
<rect x="452.29" y="115.24" width="2.97" height="5.53" fill="#f09048"/>
<rect x="455.26" y="115.24" width="5.94" height="5.53" fill="#80a0f0"/>
<rect x="461.20" y="115.24" width="2.97" height="5.53" fill="#00ff00"/>
<rect x="464.17" y="115.24" width="2.97" height="5.53" fill="#80a0f0"/>
<rect x="467.14" y="115.24" width="5.94" height="5.53" fill="#00ff00"/>
<rect x="473.08" y="115.24" width="2.97" height="5.53" fill="#c048c0"/>
<rect x="476.05" y="115.24" width="8.91" height="5.53" fill="#80a0f0"/>
<rect x="484.96" y="115.24" width="2.97" height="5.53" fill="#00ff00"/>
<rect x="487.93" y="115.24" width="2.97" height="5.53" fill="#f09048"/>
<rect x="490.90" y="115.24" width="5.94" height="5.53" fill="#80a0f0"/>
<rect x="496.84" y="115.24" width="5.94" height="5.53" fill="#00ff00"/>
<rect x="502.78" y="115.24" width="2.97" height="5.53" fill="#80a0f0"/>
<rect x="505.75" y="115.24" width="8.91" height="5.53" fill="#f09048"/>
<rect x="514.66" y="115.24" width="2.97" height="5.53" fill="#15a4a4"/>
<rect x="517.63" y="115.24" width="2.97" height="5.53" fill="#80a0f0"/>
<rect x="520.60" y="115.24" width="2.97" height="5.53" fill="#f09048"/>
<rect x="523.57" y="115.24" width="2.97" height="5.53" fill="#f01505"/>
<rect x="526.54" y="115.24" width="20.79" height="5.53" fill="#ffff00"/>
<rect x="283.00" y="120.72" width="2.97" height="5.53" fill="#80a0f0"/>
<rect x="285.97" y="120.72" width="5.94" height="5.53" fill="#00ff00"/>
<rect x="291.91" y="120.72" width="2.97" height="5.53" fill="#f01505"/>
<rect x="294.88" y="120.72" width="2.97" height="5.53" fill="#00ff00"/>
<rect x="297.85" y="120.72" width="2.97" height="5.53" fill="#80a0f0"/>
<rect x="300.82" y="120.72" width="2.97" height="5.53" fill="#c048c0"/>
<rect x="303.79" y="120.72" width="2.97" height="5.53" fill="#00ff00"/>
<rect x="306.76" y="120.72" width="2.97" height="5.53" fill="#80a0f0"/>
<rect x="309.73" y="120.72" width="2.97" height="5.53" fill="#c048c0"/>
<rect x="312.70" y="120.72" width="5.94" height="5.53" fill="#80a0f0"/>
<rect x="318.64" y="120.72" width="5.94" height="5.53" fill="#00ff00"/>
<rect x="324.58" y="120.72" width="2.97" height="5.53" fill="#80a0f0"/>
<rect x="327.55" y="120.72" width="2.97" height="5.53" fill="#c048c0"/>
<rect x="330.52" y="120.72" width="2.97" height="5.53" fill="#80a0f0"/>
<rect x="333.49" y="120.72" width="2.97" height="5.53" fill="#00ff00"/>
<rect x="336.46" y="120.72" width="5.94" height="5.53" fill="#80a0f0"/>
<rect x="342.40" y="120.72" width="2.97" height="5.53" fill="#c048c0"/>
<rect x="345.37" y="120.72" width="5.94" height="5.53" fill="#f09048"/>
<rect x="351.31" y="120.72" width="8.91" height="5.53" fill="#00ff00"/>
<rect x="360.22" y="120.72" width="2.97" height="5.53" fill="#80a0f0"/>
<rect x="363.19" y="120.72" width="2.97" height="5.53" fill="#c048c0"/>
<rect x="366.16" y="120.72" width="8.91" height="5.53" fill="#80a0f0"/>
<rect x="375.07" y="120.72" width="2.97" height="5.53" fill="#f09048"/>
<rect x="378.04" y="120.72" width="8.91" height="5.53" fill="#80a0f0"/>
<rect x="386.95" y="120.72" width="2.97" height="5.53" fill="#f09048"/>
<rect x="389.92" y="120.72" width="17.82" height="5.53" fill="#80a0f0"/>
<rect x="407.74" y="120.72" width="2.97" height="5.53" fill="#15a4a4"/>
<rect x="410.71" y="120.72" width="2.97" height="5.53" fill="#00ff00"/>
<rect x="413.68" y="120.72" width="11.88" height="5.53" fill="#80a0f0"/>
<rect x="425.56" y="120.72" width="2.97" height="5.53" fill="#f09048"/>
<rect x="428.53" y="120.72" width="2.97" height="5.53" fill="#c048c0"/>
<rect x="431.50" y="120.72" width="5.94" height="5.53" fill="#80a0f0"/>
<rect x="437.44" y="120.72" width="2.97" height="5.53" fill="#f09048"/>
<rect x="440.41" y="120.72" width="2.97" height="5.53" fill="#f01505"/>
<rect x="443.38" y="120.72" width="2.97" height="5.53" fill="#00ff00"/>
<rect x="446.35" y="120.72" width="2.97" height="5.53" fill="#80a0f0"/>
<rect x="449.32" y="120.72" width="5.94" height="5.53" fill="#15a4a4"/>
<rect x="455.26" y="120.72" width="2.97" height="5.53" fill="#80a0f0"/>
<rect x="458.23" y="120.72" width="2.97" height="5.53" fill="#00ff00"/>
<rect x="461.20" y="120.72" width="2.97" height="5.53" fill="#80a0f0"/>
<rect x="464.17" y="120.72" width="2.97" height="5.53" fill="#00ff00"/>
<rect x="467.14" y="120.72" width="80.19" height="5.53" fill="#f01505"/>
<rect x="283.00" y="126.20" width="5.94" height="5.53" fill="#f01505"/>
<rect x="288.94" y="126.20" width="2.97" height="5.53" fill="#80a0f0"/>
<rect x="291.91" y="126.20" width="2.97" height="5.53" fill="#f01505"/>
<rect x="294.88" y="126.20" width="2.97" height="5.53" fill="#00ff00"/>
<rect x="297.85" y="126.20" width="2.97" height="5.53" fill="#80a0f0"/>
<rect x="300.82" y="126.20" width="2.97" height="5.53" fill="#c048c0"/>
<rect x="303.79" y="126.20" width="2.97" height="5.53" fill="#00ff00"/>
<rect x="306.76" y="126.20" width="2.97" height="5.53" fill="#80a0f0"/>
<rect x="309.73" y="126.20" width="2.97" height="5.53" fill="#c048c0"/>
<rect x="312.70" y="126.20" width="5.94" height="5.53" fill="#80a0f0"/>
<rect x="318.64" y="126.20" width="2.97" height="5.53" fill="#00ff00"/>
<rect x="321.61" y="126.20" width="2.97" height="5.53" fill="#c048c0"/>
<rect x="324.58" y="126.20" width="2.97" height="5.53" fill="#80a0f0"/>
<rect x="327.55" y="126.20" width="2.97" height="5.53" fill="#c048c0"/>
<rect x="330.52" y="126.20" width="2.97" height="5.53" fill="#80a0f0"/>
<rect x="333.49" y="126.20" width="5.94" height="5.53" fill="#00ff00"/>
<rect x="339.43" y="126.20" width="2.97" height="5.53" fill="#80a0f0"/>
<rect x="342.40" y="126.20" width="2.97" height="5.53" fill="#c048c0"/>
<rect x="345.37" y="126.20" width="5.94" height="5.53" fill="#f09048"/>
<rect x="351.31" y="126.20" width="8.91" height="5.53" fill="#00ff00"/>
<rect x="360.22" y="126.20" width="2.97" height="5.53" fill="#80a0f0"/>
<rect x="363.19" y="126.20" width="2.97" height="5.53" fill="#c048c0"/>
<rect x="366.16" y="126.20" width="8.91" height="5.53" fill="#80a0f0"/>
<rect x="375.07" y="126.20" width="2.97" height="5.53" fill="#f09048"/>
<rect x="378.04" y="126.20" width="8.91" height="5.53" fill="#80a0f0"/>
<rect x="386.95" y="126.20" width="2.97" height="5.53" fill="#f09048"/>
<rect x="389.92" y="126.20" width="17.82" height="5.53" fill="#80a0f0"/>
<rect x="407.74" y="126.20" width="2.97" height="5.53" fill="#15a4a4"/>
<rect x="410.71" y="126.20" width="2.97" height="5.53" fill="#00ff00"/>
<rect x="413.68" y="126.20" width="11.88" height="5.53" fill="#80a0f0"/>
<rect x="425.56" y="126.20" width="2.97" height="5.53" fill="#f09048"/>
<rect x="428.53" y="126.20" width="2.97" height="5.53" fill="#c048c0"/>
<rect x="431.50" y="126.20" width="5.94" height="5.53" fill="#80a0f0"/>
<rect x="437.44" y="126.20" width="2.97" height="5.53" fill="#f09048"/>
<rect x="440.41" y="126.20" width="2.97" height="5.53" fill="#f01505"/>
<rect x="443.38" y="126.20" width="2.97" height="5.53" fill="#00ff00"/>
<rect x="446.35" y="126.20" width="2.97" height="5.53" fill="#80a0f0"/>
<rect x="449.32" y="126.20" width="5.94" height="5.53" fill="#15a4a4"/>
<rect x="455.26" y="126.20" width="2.97" height="5.53" fill="#80a0f0"/>
<rect x="458.23" y="126.20" width="2.97" height="5.53" fill="#00ff00"/>
<rect x="461.20" y="126.20" width="2.97" height="5.53" fill="#80a0f0"/>
<rect x="464.17" y="126.20" width="2.97" height="5.53" fill="#00ff00"/>
<rect x="467.14" y="126.20" width="80.19" height="5.53" fill="#f01505"/>
<rect x="283.00" y="131.68" width="5.94" height="5.53" fill="#f01505"/>
<rect x="288.94" y="131.68" width="2.97" height="5.53" fill="#80a0f0"/>
<rect x="291.91" y="131.68" width="2.97" height="5.53" fill="#f01505"/>
<rect x="294.88" y="131.68" width="2.97" height="5.53" fill="#00ff00"/>
<rect x="297.85" y="131.68" width="2.97" height="5.53" fill="#80a0f0"/>
<rect x="300.82" y="131.68" width="2.97" height="5.53" fill="#c048c0"/>
<rect x="303.79" y="131.68" width="2.97" height="5.53" fill="#00ff00"/>
<rect x="306.76" y="131.68" width="2.97" height="5.53" fill="#80a0f0"/>
<rect x="309.73" y="131.68" width="2.97" height="5.53" fill="#c048c0"/>
<rect x="312.70" y="131.68" width="5.94" height="5.53" fill="#80a0f0"/>
<rect x="318.64" y="131.68" width="2.97" height="5.53" fill="#00ff00"/>
<rect x="321.61" y="131.68" width="2.97" height="5.53" fill="#c048c0"/>
<rect x="324.58" y="131.68" width="2.97" height="5.53" fill="#80a0f0"/>
<rect x="327.55" y="131.68" width="2.97" height="5.53" fill="#c048c0"/>
<rect x="330.52" y="131.68" width="2.97" height="5.53" fill="#80a0f0"/>
<rect x="333.49" y="131.68" width="5.94" height="5.53" fill="#00ff00"/>
<rect x="339.43" y="131.68" width="2.97" height="5.53" fill="#80a0f0"/>
<rect x="342.40" y="131.68" width="2.97" height="5.53" fill="#c048c0"/>
<rect x="345.37" y="131.68" width="5.94" height="5.53" fill="#f09048"/>
<rect x="351.31" y="131.68" width="8.91" height="5.53" fill="#00ff00"/>
<rect x="360.22" y="131.68" width="2.97" height="5.53" fill="#80a0f0"/>
<rect x="363.19" y="131.68" width="2.97" height="5.53" fill="#c048c0"/>
<rect x="366.16" y="131.68" width="8.91" height="5.53" fill="#80a0f0"/>
<rect x="375.07" y="131.68" width="2.97" height="5.53" fill="#f09048"/>
<rect x="378.04" y="131.68" width="8.91" height="5.53" fill="#80a0f0"/>
<rect x="386.95" y="131.68" width="2.97" height="5.53" fill="#f09048"/>
<rect x="389.92" y="131.68" width="17.82" height="5.53" fill="#80a0f0"/>
<rect x="407.74" y="131.68" width="2.97" height="5.53" fill="#15a4a4"/>
<rect x="410.71" y="131.68" width="2.97" height="5.53" fill="#00ff00"/>
<rect x="413.68" y="131.68" width="11.88" height="5.53" fill="#80a0f0"/>
<rect x="425.56" y="131.68" width="2.97" height="5.53" fill="#f09048"/>
<rect x="428.53" y="131.68" width="2.97" height="5.53" fill="#c048c0"/>
<rect x="431.50" y="131.68" width="5.94" height="5.53" fill="#80a0f0"/>
<rect x="437.44" y="131.68" width="2.97" height="5.53" fill="#f09048"/>
<rect x="440.41" y="131.68" width="2.97" height="5.53" fill="#f01505"/>
<rect x="443.38" y="131.68" width="2.97" height="5.53" fill="#00ff00"/>
<rect x="446.35" y="131.68" width="2.97" height="5.53" fill="#80a0f0"/>
<rect x="449.32" y="131.68" width="5.94" height="5.53" fill="#15a4a4"/>
<rect x="455.26" y="131.68" width="2.97" height="5.53" fill="#80a0f0"/>
<rect x="458.23" y="131.68" width="2.97" height="5.53" fill="#00ff00"/>
<rect x="461.20" y="131.68" width="2.97" height="5.53" fill="#80a0f0"/>
<rect x="464.17" y="131.68" width="2.97" height="5.53" fill="#00ff00"/>
<rect x="467.14" y="131.68" width="80.19" height="5.53" fill="#f01505"/>
<rect x="283.00" y="137.16" width="2.97" height="5.53" fill="#80a0f0"/>
<rect x="285.97" y="137.16" width="5.94" height="5.53" fill="#00ff00"/>
<rect x="291.91" y="137.16" width="2.97" height="5.53" fill="#f01505"/>
<rect x="294.88" y="137.16" width="2.97" height="5.53" fill="#00ff00"/>
<rect x="297.85" y="137.16" width="2.97" height="5.53" fill="#80a0f0"/>
<rect x="300.82" y="137.16" width="2.97" height="5.53" fill="#c048c0"/>
<rect x="303.79" y="137.16" width="2.97" height="5.53" fill="#00ff00"/>
<rect x="306.76" y="137.16" width="2.97" height="5.53" fill="#80a0f0"/>
<rect x="309.73" y="137.16" width="2.97" height="5.53" fill="#c048c0"/>
<rect x="312.70" y="137.16" width="5.94" height="5.53" fill="#80a0f0"/>
<rect x="318.64" y="137.16" width="2.97" height="5.53" fill="#00ff00"/>
<rect x="321.61" y="137.16" width="2.97" height="5.53" fill="#c048c0"/>
<rect x="324.58" y="137.16" width="2.97" height="5.53" fill="#80a0f0"/>
<rect x="327.55" y="137.16" width="2.97" height="5.53" fill="#c048c0"/>
<rect x="330.52" y="137.16" width="2.97" height="5.53" fill="#80a0f0"/>
<rect x="333.49" y="137.16" width="2.97" height="5.53" fill="#00ff00"/>
<rect x="336.46" y="137.16" width="5.94" height="5.53" fill="#80a0f0"/>
<rect x="342.40" y="137.16" width="2.97" height="5.53" fill="#c048c0"/>
<rect x="345.37" y="137.16" width="5.94" height="5.53" fill="#f09048"/>
<rect x="351.31" y="137.16" width="8.91" height="5.53" fill="#00ff00"/>
<rect x="360.22" y="137.16" width="2.97" height="5.53" fill="#f01505"/>
<rect x="363.19" y="137.16" width="8.91" height="5.53" fill="#f08080"/>
<rect x="372.10" y="137.16" width="2.97" height="5.53" fill="#80a0f0"/>
<rect x="375.07" y="137.16" width="2.97" height="5.53" fill="#00ff00"/>
<rect x="378.04" y="137.16" width="8.91" height="5.53" fill="#80a0f0"/>
<rect x="386.95" y="137.16" width="8.91" height="5.53" fill="#f09048"/>
<rect x="395.86" y="137.16" width="5.94" height="5.53" fill="#80a0f0"/>
<rect x="401.80" y="137.16" width="2.97" height="5.53" fill="#00ff00"/>
<rect x="404.77" y="137.16" width="2.97" height="5.53" fill="#f09048"/>
<rect x="407.74" y="137.16" width="2.97" height="5.53" fill="#80a0f0"/>
<rect x="410.71" y="137.16" width="2.97" height="5.53" fill="#f09048"/>
<rect x="413.68" y="137.16" width="11.88" height="5.53" fill="#00ff00"/>
<rect x="425.56" y="137.16" width="2.97" height="5.53" fill="#f09048"/>
<rect x="428.53" y="137.16" width="5.94" height="5.53" fill="#80a0f0"/>
<rect x="434.47" y="137.16" width="5.94" height="5.53" fill="#f09048"/>
<rect x="440.41" y="137.16" width="5.94" height="5.53" fill="#80a0f0"/>
<rect x="446.35" y="137.16" width="2.97" height="5.53" fill="#00ff00"/>
<rect x="449.32" y="137.16" width="2.97" height="5.53" fill="#80a0f0"/>
<rect x="452.29" y="137.16" width="2.97" height="5.53" fill="#f09048"/>
<rect x="455.26" y="137.16" width="2.97" height="5.53" fill="#80a0f0"/>
<rect x="458.23" y="137.16" width="5.94" height="5.53" fill="#00ff00"/>
<rect x="464.17" y="137.16" width="2.97" height="5.53" fill="#80a0f0"/>
<rect x="467.14" y="137.16" width="2.97" height="5.53" fill="#ffff00"/>
<rect x="470.11" y="137.16" width="2.97" height="5.53" fill="#f09048"/>
<rect x="473.08" y="137.16" width="8.91" height="5.53" fill="#80a0f0"/>
<rect x="481.99" y="137.16" width="2.97" height="5.53" fill="#f09048"/>
<rect x="484.96" y="137.16" width="2.97" height="5.53" fill="#80a0f0"/>
<rect x="487.93" y="137.16" width="2.97" height="5.53" fill="#15a4a4"/>
<rect x="490.90" y="137.16" width="2.97" height="5.53" fill="#80a0f0"/>
<rect x="493.87" y="137.16" width="2.97" height="5.53" fill="#00ff00"/>
<rect x="496.84" y="137.16" width="8.91" height="5.53" fill="#80a0f0"/>
<rect x="505.75" y="137.16" width="5.94" height="5.53" fill="#f09048"/>
<rect x="511.69" y="137.16" width="2.97" height="5.53" fill="#80a0f0"/>
<rect x="514.66" y="137.16" width="2.97" height="5.53" fill="#15a4a4"/>
<rect x="517.63" y="137.16" width="2.97" height="5.53" fill="#f08080"/>
<rect x="520.60" y="137.16" width="2.97" height="5.53" fill="#80a0f0"/>
<rect x="523.57" y="137.16" width="2.97" height="5.53" fill="#f09048"/>
<rect x="526.54" y="137.16" width="2.97" height="5.53" fill="#80a0f0"/>
<rect x="529.51" y="137.16" width="2.97" height="5.53" fill="#00ff00"/>
<rect x="532.48" y="137.16" width="14.85" height="5.53" fill="#80a0f0"/>
<rect x="283.00" y="142.64" width="8.91" height="5.53" fill="#80a0f0"/>
<rect x="291.91" y="142.64" width="2.97" height="5.53" fill="#f01505"/>
<rect x="294.88" y="142.64" width="2.97" height="5.53" fill="#00ff00"/>
<rect x="297.85" y="142.64" width="2.97" height="5.53" fill="#80a0f0"/>
<rect x="300.82" y="142.64" width="2.97" height="5.53" fill="#c048c0"/>
<rect x="303.79" y="142.64" width="2.97" height="5.53" fill="#00ff00"/>
<rect x="306.76" y="142.64" width="2.97" height="5.53" fill="#80a0f0"/>
<rect x="309.73" y="142.64" width="2.97" height="5.53" fill="#c048c0"/>
<rect x="312.70" y="142.64" width="5.94" height="5.53" fill="#80a0f0"/>
<rect x="318.64" y="142.64" width="2.97" height="5.53" fill="#00ff00"/>
<rect x="321.61" y="142.64" width="2.97" height="5.53" fill="#c048c0"/>
<rect x="324.58" y="142.64" width="2.97" height="5.53" fill="#80a0f0"/>
<rect x="327.55" y="142.64" width="2.97" height="5.53" fill="#c048c0"/>
<rect x="330.52" y="142.64" width="2.97" height="5.53" fill="#80a0f0"/>
<rect x="333.49" y="142.64" width="2.97" height="5.53" fill="#00ff00"/>
<rect x="336.46" y="142.64" width="5.94" height="5.53" fill="#80a0f0"/>
<rect x="342.40" y="142.64" width="2.97" height="5.53" fill="#c048c0"/>
<rect x="345.37" y="142.64" width="14.85" height="5.53" fill="#f09048"/>
<rect x="360.22" y="142.64" width="2.97" height="5.53" fill="#f01505"/>
<rect x="363.19" y="142.64" width="8.91" height="5.53" fill="#f08080"/>
<rect x="372.10" y="142.64" width="5.94" height="5.53" fill="#80a0f0"/>
<rect x="378.04" y="142.64" width="2.97" height="5.53" fill="#f09048"/>
<rect x="381.01" y="142.64" width="2.97" height="5.53" fill="#80a0f0"/>
<rect x="383.98" y="142.64" width="11.88" height="5.53" fill="#f09048"/>
<rect x="395.86" y="142.64" width="5.94" height="5.53" fill="#80a0f0"/>
<rect x="401.80" y="142.64" width="2.97" height="5.53" fill="#00ff00"/>
<rect x="404.77" y="142.64" width="2.97" height="5.53" fill="#f09048"/>
<rect x="407.74" y="142.64" width="11.88" height="5.53" fill="#80a0f0"/>
<rect x="419.62" y="142.64" width="2.97" height="5.53" fill="#f09048"/>
<rect x="422.59" y="142.64" width="2.97" height="5.53" fill="#80a0f0"/>
<rect x="425.56" y="142.64" width="2.97" height="5.53" fill="#f09048"/>
<rect x="428.53" y="142.64" width="11.88" height="5.53" fill="#80a0f0"/>
<rect x="440.41" y="142.64" width="5.94" height="5.53" fill="#00ff00"/>
<rect x="446.35" y="142.64" width="2.97" height="5.53" fill="#ffff00"/>
<rect x="449.32" y="142.64" width="2.97" height="5.53" fill="#80a0f0"/>
<rect x="452.29" y="142.64" width="2.97" height="5.53" fill="#f09048"/>
<rect x="455.26" y="142.64" width="8.91" height="5.53" fill="#80a0f0"/>
<rect x="464.17" y="142.64" width="5.94" height="5.53" fill="#f09048"/>
<rect x="470.11" y="142.64" width="8.91" height="5.53" fill="#80a0f0"/>
<rect x="479.02" y="142.64" width="2.97" height="5.53" fill="#f09048"/>
<rect x="481.99" y="142.64" width="2.97" height="5.53" fill="#00ff00"/>
<rect x="484.96" y="142.64" width="8.91" height="5.53" fill="#80a0f0"/>
<rect x="493.87" y="142.64" width="8.91" height="5.53" fill="#f09048"/>
<rect x="502.78" y="142.64" width="2.97" height="5.53" fill="#80a0f0"/>
<rect x="505.75" y="142.64" width="2.97" height="5.53" fill="#00ff00"/>
<rect x="508.72" y="142.64" width="2.97" height="5.53" fill="#f09048"/>
<rect x="511.69" y="142.64" width="5.94" height="5.53" fill="#80a0f0"/>
<rect x="517.63" y="142.64" width="2.97" height="5.53" fill="#00ff00"/>
<rect x="520.60" y="142.64" width="2.97" height="5.53" fill="#80a0f0"/>
<rect x="523.57" y="142.64" width="23.76" height="5.53" fill="#f08080"/>
<rect x="283.00" y="148.12" width="5.94" height="5.53" fill="#f08080"/>
<rect x="288.94" y="148.12" width="2.97" height="5.53" fill="#80a0f0"/>
<rect x="291.91" y="148.12" width="2.97" height="5.53" fill="#f01505"/>
<rect x="294.88" y="148.12" width="2.97" height="5.53" fill="#00ff00"/>
<rect x="297.85" y="148.12" width="2.97" height="5.53" fill="#80a0f0"/>
<rect x="300.82" y="148.12" width="2.97" height="5.53" fill="#c048c0"/>
<rect x="303.79" y="148.12" width="2.97" height="5.53" fill="#00ff00"/>
<rect x="306.76" y="148.12" width="2.97" height="5.53" fill="#80a0f0"/>
<rect x="309.73" y="148.12" width="2.97" height="5.53" fill="#c048c0"/>
<rect x="312.70" y="148.12" width="5.94" height="5.53" fill="#80a0f0"/>
<rect x="318.64" y="148.12" width="2.97" height="5.53" fill="#00ff00"/>
<rect x="321.61" y="148.12" width="2.97" height="5.53" fill="#c048c0"/>
<rect x="324.58" y="148.12" width="2.97" height="5.53" fill="#80a0f0"/>
<rect x="327.55" y="148.12" width="2.97" height="5.53" fill="#c048c0"/>
<rect x="330.52" y="148.12" width="2.97" height="5.53" fill="#80a0f0"/>
<rect x="333.49" y="148.12" width="2.97" height="5.53" fill="#00ff00"/>
<rect x="336.46" y="148.12" width="5.94" height="5.53" fill="#80a0f0"/>
<rect x="342.40" y="148.12" width="2.97" height="5.53" fill="#c048c0"/>
<rect x="345.37" y="148.12" width="14.85" height="5.53" fill="#f09048"/>
<rect x="360.22" y="148.12" width="2.97" height="5.53" fill="#f01505"/>
<rect x="363.19" y="148.12" width="8.91" height="5.53" fill="#f08080"/>
<rect x="372.10" y="148.12" width="5.94" height="5.53" fill="#80a0f0"/>
<rect x="378.04" y="148.12" width="2.97" height="5.53" fill="#f09048"/>
<rect x="381.01" y="148.12" width="2.97" height="5.53" fill="#80a0f0"/>
<rect x="383.98" y="148.12" width="11.88" height="5.53" fill="#f09048"/>
<rect x="395.86" y="148.12" width="5.94" height="5.53" fill="#80a0f0"/>
<rect x="401.80" y="148.12" width="2.97" height="5.53" fill="#00ff00"/>
<rect x="404.77" y="148.12" width="2.97" height="5.53" fill="#f09048"/>
<rect x="407.74" y="148.12" width="11.88" height="5.53" fill="#80a0f0"/>
<rect x="419.62" y="148.12" width="2.97" height="5.53" fill="#f09048"/>
<rect x="422.59" y="148.12" width="2.97" height="5.53" fill="#80a0f0"/>
<rect x="425.56" y="148.12" width="2.97" height="5.53" fill="#f09048"/>
<rect x="428.53" y="148.12" width="11.88" height="5.53" fill="#80a0f0"/>
<rect x="440.41" y="148.12" width="5.94" height="5.53" fill="#00ff00"/>
<rect x="446.35" y="148.12" width="2.97" height="5.53" fill="#ffff00"/>
<rect x="449.32" y="148.12" width="2.97" height="5.53" fill="#80a0f0"/>
<rect x="452.29" y="148.12" width="2.97" height="5.53" fill="#f09048"/>
<rect x="455.26" y="148.12" width="8.91" height="5.53" fill="#80a0f0"/>
<rect x="464.17" y="148.12" width="5.94" height="5.53" fill="#f09048"/>
<rect x="470.11" y="148.12" width="8.91" height="5.53" fill="#80a0f0"/>
<rect x="479.02" y="148.12" width="2.97" height="5.53" fill="#f09048"/>
<rect x="481.99" y="148.12" width="2.97" height="5.53" fill="#00ff00"/>
<rect x="484.96" y="148.12" width="8.91" height="5.53" fill="#80a0f0"/>
<rect x="493.87" y="148.12" width="8.91" height="5.53" fill="#f09048"/>
<rect x="502.78" y="148.12" width="2.97" height="5.53" fill="#80a0f0"/>
<rect x="505.75" y="148.12" width="2.97" height="5.53" fill="#00ff00"/>
<rect x="508.72" y="148.12" width="2.97" height="5.53" fill="#f09048"/>
<rect x="511.69" y="148.12" width="5.94" height="5.53" fill="#80a0f0"/>
<rect x="517.63" y="148.12" width="2.97" height="5.53" fill="#00ff00"/>
<rect x="520.60" y="148.12" width="2.97" height="5.53" fill="#80a0f0"/>
<rect x="523.57" y="148.12" width="23.76" height="5.53" fill="#f08080"/>
<rect x="283.00" y="153.60" width="2.97" height="5.53" fill="#80a0f0"/>
<rect x="285.97" y="153.60" width="8.91" height="5.53" fill="#00ff00"/>
<rect x="294.88" y="153.60" width="5.94" height="5.53" fill="#80a0f0"/>
<rect x="300.82" y="153.60" width="2.97" height="5.53" fill="#c048c0"/>
<rect x="303.79" y="153.60" width="2.97" height="5.53" fill="#f01505"/>
<rect x="306.76" y="153.60" width="2.97" height="5.53" fill="#80a0f0"/>
<rect x="309.73" y="153.60" width="2.97" height="5.53" fill="#c048c0"/>
<rect x="312.70" y="153.60" width="5.94" height="5.53" fill="#80a0f0"/>
<rect x="318.64" y="153.60" width="2.97" height="5.53" fill="#c048c0"/>
<rect x="321.61" y="153.60" width="2.97" height="5.53" fill="#f01505"/>
<rect x="324.58" y="153.60" width="2.97" height="5.53" fill="#c048c0"/>
<rect x="327.55" y="153.60" width="2.97" height="5.53" fill="#00ff00"/>
<rect x="330.52" y="153.60" width="5.94" height="5.53" fill="#80a0f0"/>
<rect x="336.46" y="153.60" width="2.97" height="5.53" fill="#f01505"/>
<rect x="339.43" y="153.60" width="2.97" height="5.53" fill="#80a0f0"/>
<rect x="342.40" y="153.60" width="2.97" height="5.53" fill="#c048c0"/>
<rect x="345.37" y="153.60" width="11.88" height="5.53" fill="#f09048"/>
<rect x="357.25" y="153.60" width="2.97" height="5.53" fill="#80a0f0"/>
<rect x="360.22" y="153.60" width="2.97" height="5.53" fill="#f01505"/>
<rect x="363.19" y="153.60" width="8.91" height="5.53" fill="#f08080"/>
<rect x="372.10" y="153.60" width="2.97" height="5.53" fill="#f09048"/>
<rect x="375.07" y="153.60" width="2.97" height="5.53" fill="#80a0f0"/>
<rect x="378.04" y="153.60" width="2.97" height="5.53" fill="#f09048"/>
<rect x="381.01" y="153.60" width="2.97" height="5.53" fill="#00ff00"/>
<rect x="383.98" y="153.60" width="2.97" height="5.53" fill="#80a0f0"/>
<rect x="386.95" y="153.60" width="8.91" height="5.53" fill="#f09048"/>
<rect x="395.86" y="153.60" width="5.94" height="5.53" fill="#80a0f0"/>
<rect x="401.80" y="153.60" width="2.97" height="5.53" fill="#00ff00"/>
<rect x="404.77" y="153.60" width="5.94" height="5.53" fill="#f09048"/>
<rect x="410.71" y="153.60" width="14.85" height="5.53" fill="#80a0f0"/>
<rect x="425.56" y="153.60" width="2.97" height="5.53" fill="#f09048"/>
<rect x="428.53" y="153.60" width="8.91" height="5.53" fill="#80a0f0"/>
<rect x="437.44" y="153.60" width="2.97" height="5.53" fill="#f09048"/>
<rect x="440.41" y="153.60" width="2.97" height="5.53" fill="#00ff00"/>
<rect x="443.38" y="153.60" width="2.97" height="5.53" fill="#80a0f0"/>
<rect x="446.35" y="153.60" width="2.97" height="5.53" fill="#00ff00"/>
<rect x="449.32" y="153.60" width="2.97" height="5.53" fill="#80a0f0"/>
<rect x="452.29" y="153.60" width="2.97" height="5.53" fill="#ffff00"/>
<rect x="455.26" y="153.60" width="5.94" height="5.53" fill="#80a0f0"/>
<rect x="461.20" y="153.60" width="2.97" height="5.53" fill="#f09048"/>
<rect x="464.17" y="153.60" width="2.97" height="5.53" fill="#00ff00"/>
<rect x="467.14" y="153.60" width="2.97" height="5.53" fill="#80a0f0"/>
<rect x="470.11" y="153.60" width="2.97" height="5.53" fill="#00ff00"/>
<rect x="473.08" y="153.60" width="2.97" height="5.53" fill="#f09048"/>
<rect x="476.05" y="153.60" width="2.97" height="5.53" fill="#00ff00"/>
<rect x="479.02" y="153.60" width="5.94" height="5.53" fill="#80a0f0"/>
<rect x="484.96" y="153.60" width="2.97" height="5.53" fill="#f09048"/>
<rect x="487.93" y="153.60" width="5.94" height="5.53" fill="#80a0f0"/>
<rect x="493.87" y="153.60" width="5.94" height="5.53" fill="#f09048"/>
<rect x="499.81" y="153.60" width="5.94" height="5.53" fill="#80a0f0"/>
<rect x="505.75" y="153.60" width="2.97" height="5.53" fill="#00ff00"/>
<rect x="508.72" y="153.60" width="2.97" height="5.53" fill="#f09048"/>
<rect x="511.69" y="153.60" width="5.94" height="5.53" fill="#80a0f0"/>
<rect x="517.63" y="153.60" width="2.97" height="5.53" fill="#00ff00"/>
<rect x="520.60" y="153.60" width="2.97" height="5.53" fill="#80a0f0"/>
<rect x="523.57" y="153.60" width="23.76" height="5.53" fill="#f08080"/>
<rect x="283.00" y="159.08" width="2.97" height="5.53" fill="#80a0f0"/>
<rect x="285.97" y="159.08" width="8.91" height="5.53" fill="#00ff00"/>
<rect x="294.88" y="159.08" width="5.94" height="5.53" fill="#80a0f0"/>
<rect x="300.82" y="159.08" width="2.97" height="5.53" fill="#c048c0"/>
<rect x="303.79" y="159.08" width="2.97" height="5.53" fill="#f01505"/>
<rect x="306.76" y="159.08" width="2.97" height="5.53" fill="#80a0f0"/>
<rect x="309.73" y="159.08" width="2.97" height="5.53" fill="#c048c0"/>
<rect x="312.70" y="159.08" width="5.94" height="5.53" fill="#80a0f0"/>
<rect x="318.64" y="159.08" width="2.97" height="5.53" fill="#c048c0"/>
<rect x="321.61" y="159.08" width="2.97" height="5.53" fill="#f01505"/>
<rect x="324.58" y="159.08" width="2.97" height="5.53" fill="#c048c0"/>
<rect x="327.55" y="159.08" width="2.97" height="5.53" fill="#00ff00"/>
<rect x="330.52" y="159.08" width="5.94" height="5.53" fill="#80a0f0"/>
<rect x="336.46" y="159.08" width="2.97" height="5.53" fill="#f01505"/>
<rect x="339.43" y="159.08" width="2.97" height="5.53" fill="#80a0f0"/>
<rect x="342.40" y="159.08" width="2.97" height="5.53" fill="#c048c0"/>
<rect x="345.37" y="159.08" width="11.88" height="5.53" fill="#f09048"/>
<rect x="357.25" y="159.08" width="2.97" height="5.53" fill="#80a0f0"/>
<rect x="360.22" y="159.08" width="2.97" height="5.53" fill="#f01505"/>
<rect x="363.19" y="159.08" width="8.91" height="5.53" fill="#f08080"/>
<rect x="372.10" y="159.08" width="2.97" height="5.53" fill="#f09048"/>
<rect x="375.07" y="159.08" width="2.97" height="5.53" fill="#80a0f0"/>
<rect x="378.04" y="159.08" width="2.97" height="5.53" fill="#f09048"/>
<rect x="381.01" y="159.08" width="2.97" height="5.53" fill="#00ff00"/>
<rect x="383.98" y="159.08" width="2.97" height="5.53" fill="#80a0f0"/>
<rect x="386.95" y="159.08" width="8.91" height="5.53" fill="#f09048"/>
<rect x="395.86" y="159.08" width="5.94" height="5.53" fill="#80a0f0"/>
<rect x="401.80" y="159.08" width="2.97" height="5.53" fill="#00ff00"/>
<rect x="404.77" y="159.08" width="5.94" height="5.53" fill="#f09048"/>
<rect x="410.71" y="159.08" width="14.85" height="5.53" fill="#80a0f0"/>
<rect x="425.56" y="159.08" width="2.97" height="5.53" fill="#f09048"/>
<rect x="428.53" y="159.08" width="8.91" height="5.53" fill="#80a0f0"/>
<rect x="437.44" y="159.08" width="2.97" height="5.53" fill="#f09048"/>
<rect x="440.41" y="159.08" width="2.97" height="5.53" fill="#00ff00"/>
<rect x="443.38" y="159.08" width="2.97" height="5.53" fill="#80a0f0"/>
<rect x="446.35" y="159.08" width="2.97" height="5.53" fill="#00ff00"/>
<rect x="449.32" y="159.08" width="2.97" height="5.53" fill="#80a0f0"/>
<rect x="452.29" y="159.08" width="2.97" height="5.53" fill="#ffff00"/>
<rect x="455.26" y="159.08" width="5.94" height="5.53" fill="#80a0f0"/>
<rect x="461.20" y="159.08" width="2.97" height="5.53" fill="#f09048"/>
<rect x="464.17" y="159.08" width="2.97" height="5.53" fill="#00ff00"/>
<rect x="467.14" y="159.08" width="2.97" height="5.53" fill="#80a0f0"/>
<rect x="470.11" y="159.08" width="2.97" height="5.53" fill="#00ff00"/>
<rect x="473.08" y="159.08" width="2.97" height="5.53" fill="#f09048"/>
<rect x="476.05" y="159.08" width="2.97" height="5.53" fill="#00ff00"/>
<rect x="479.02" y="159.08" width="5.94" height="5.53" fill="#80a0f0"/>
<rect x="484.96" y="159.08" width="2.97" height="5.53" fill="#f09048"/>
<rect x="487.93" y="159.08" width="5.94" height="5.53" fill="#80a0f0"/>
<rect x="493.87" y="159.08" width="5.94" height="5.53" fill="#f09048"/>
<rect x="499.81" y="159.08" width="5.94" height="5.53" fill="#80a0f0"/>
<rect x="505.75" y="159.08" width="2.97" height="5.53" fill="#00ff00"/>
<rect x="508.72" y="159.08" width="2.97" height="5.53" fill="#f09048"/>
<rect x="511.69" y="159.08" width="5.94" height="5.53" fill="#80a0f0"/>
<rect x="517.63" y="159.08" width="2.97" height="5.53" fill="#00ff00"/>
<rect x="520.60" y="159.08" width="2.97" height="5.53" fill="#80a0f0"/>
<rect x="523.57" y="159.08" width="23.76" height="5.53" fill="#f08080"/>
<rect x="283.00" y="164.56" width="2.97" height="5.53" fill="#80a0f0"/>
<rect x="285.97" y="164.56" width="5.94" height="5.53" fill="#00ff00"/>
<rect x="291.91" y="164.56" width="2.97" height="5.53" fill="#f01505"/>
<rect x="294.88" y="164.56" width="2.97" height="5.53" fill="#00ff00"/>
<rect x="297.85" y="164.56" width="2.97" height="5.53" fill="#80a0f0"/>
<rect x="300.82" y="164.56" width="2.97" height="5.53" fill="#c048c0"/>
<rect x="303.79" y="164.56" width="2.97" height="5.53" fill="#00ff00"/>
<rect x="306.76" y="164.56" width="2.97" height="5.53" fill="#80a0f0"/>
<rect x="309.73" y="164.56" width="2.97" height="5.53" fill="#c048c0"/>
<rect x="312.70" y="164.56" width="5.94" height="5.53" fill="#80a0f0"/>
<rect x="318.64" y="164.56" width="2.97" height="5.53" fill="#00ff00"/>
<rect x="321.61" y="164.56" width="2.97" height="5.53" fill="#c048c0"/>
<rect x="324.58" y="164.56" width="2.97" height="5.53" fill="#80a0f0"/>
<rect x="327.55" y="164.56" width="2.97" height="5.53" fill="#c048c0"/>
<rect x="330.52" y="164.56" width="2.97" height="5.53" fill="#80a0f0"/>
<rect x="333.49" y="164.56" width="2.97" height="5.53" fill="#00ff00"/>
<rect x="336.46" y="164.56" width="5.94" height="5.53" fill="#80a0f0"/>
<rect x="342.40" y="164.56" width="2.97" height="5.53" fill="#c048c0"/>
<rect x="345.37" y="164.56" width="8.91" height="5.53" fill="#f09048"/>
<rect x="354.28" y="164.56" width="5.94" height="5.53" fill="#80a0f0"/>
<rect x="360.22" y="164.56" width="2.97" height="5.53" fill="#f01505"/>
<rect x="363.19" y="164.56" width="8.91" height="5.53" fill="#f08080"/>
<rect x="372.10" y="164.56" width="2.97" height="5.53" fill="#f09048"/>
<rect x="375.07" y="164.56" width="2.97" height="5.53" fill="#80a0f0"/>
<rect x="378.04" y="164.56" width="2.97" height="5.53" fill="#f09048"/>
<rect x="381.01" y="164.56" width="2.97" height="5.53" fill="#00ff00"/>
<rect x="383.98" y="164.56" width="2.97" height="5.53" fill="#80a0f0"/>
<rect x="386.95" y="164.56" width="8.91" height="5.53" fill="#f09048"/>
<rect x="395.86" y="164.56" width="5.94" height="5.53" fill="#80a0f0"/>
<rect x="401.80" y="164.56" width="2.97" height="5.53" fill="#00ff00"/>
<rect x="404.77" y="164.56" width="5.94" height="5.53" fill="#f09048"/>
<rect x="410.71" y="164.56" width="14.85" height="5.53" fill="#80a0f0"/>
<rect x="425.56" y="164.56" width="2.97" height="5.53" fill="#f09048"/>
<rect x="428.53" y="164.56" width="8.91" height="5.53" fill="#80a0f0"/>
<rect x="437.44" y="164.56" width="2.97" height="5.53" fill="#f09048"/>
<rect x="440.41" y="164.56" width="2.97" height="5.53" fill="#00ff00"/>
<rect x="443.38" y="164.56" width="2.97" height="5.53" fill="#80a0f0"/>
<rect x="446.35" y="164.56" width="2.97" height="5.53" fill="#00ff00"/>
<rect x="449.32" y="164.56" width="2.97" height="5.53" fill="#80a0f0"/>
<rect x="452.29" y="164.56" width="2.97" height="5.53" fill="#ffff00"/>
<rect x="455.26" y="164.56" width="5.94" height="5.53" fill="#80a0f0"/>
<rect x="461.20" y="164.56" width="2.97" height="5.53" fill="#f09048"/>
<rect x="464.17" y="164.56" width="2.97" height="5.53" fill="#00ff00"/>
<rect x="467.14" y="164.56" width="2.97" height="5.53" fill="#80a0f0"/>
<rect x="470.11" y="164.56" width="2.97" height="5.53" fill="#00ff00"/>
<rect x="473.08" y="164.56" width="2.97" height="5.53" fill="#f09048"/>
<rect x="476.05" y="164.56" width="2.97" height="5.53" fill="#00ff00"/>
<rect x="479.02" y="164.56" width="5.94" height="5.53" fill="#80a0f0"/>
<rect x="484.96" y="164.56" width="2.97" height="5.53" fill="#f09048"/>
<rect x="487.93" y="164.56" width="5.94" height="5.53" fill="#80a0f0"/>
<rect x="493.87" y="164.56" width="5.94" height="5.53" fill="#f09048"/>
<rect x="499.81" y="164.56" width="5.94" height="5.53" fill="#80a0f0"/>
<rect x="505.75" y="164.56" width="2.97" height="5.53" fill="#00ff00"/>
<rect x="508.72" y="164.56" width="2.97" height="5.53" fill="#f09048"/>
<rect x="511.69" y="164.56" width="5.94" height="5.53" fill="#80a0f0"/>
<rect x="517.63" y="164.56" width="2.97" height="5.53" fill="#00ff00"/>
<rect x="520.60" y="164.56" width="2.97" height="5.53" fill="#80a0f0"/>
<rect x="523.57" y="164.56" width="23.76" height="5.53" fill="#f08080"/>
<rect x="283.00" y="170.04" width="2.97" height="5.53" fill="#80a0f0"/>
<rect x="285.97" y="170.04" width="5.94" height="5.53" fill="#00ff00"/>
<rect x="291.91" y="170.04" width="2.97" height="5.53" fill="#f01505"/>
<rect x="294.88" y="170.04" width="2.97" height="5.53" fill="#00ff00"/>
<rect x="297.85" y="170.04" width="2.97" height="5.53" fill="#80a0f0"/>
<rect x="300.82" y="170.04" width="2.97" height="5.53" fill="#c048c0"/>
<rect x="303.79" y="170.04" width="2.97" height="5.53" fill="#00ff00"/>
<rect x="306.76" y="170.04" width="2.97" height="5.53" fill="#80a0f0"/>
<rect x="309.73" y="170.04" width="2.97" height="5.53" fill="#c048c0"/>
<rect x="312.70" y="170.04" width="5.94" height="5.53" fill="#80a0f0"/>
<rect x="318.64" y="170.04" width="2.97" height="5.53" fill="#00ff00"/>
<rect x="321.61" y="170.04" width="2.97" height="5.53" fill="#c048c0"/>
<rect x="324.58" y="170.04" width="2.97" height="5.53" fill="#80a0f0"/>
<rect x="327.55" y="170.04" width="2.97" height="5.53" fill="#c048c0"/>
<rect x="330.52" y="170.04" width="2.97" height="5.53" fill="#80a0f0"/>
<rect x="333.49" y="170.04" width="2.97" height="5.53" fill="#00ff00"/>
<rect x="336.46" y="170.04" width="5.94" height="5.53" fill="#80a0f0"/>
<rect x="342.40" y="170.04" width="2.97" height="5.53" fill="#c048c0"/>
<rect x="345.37" y="170.04" width="8.91" height="5.53" fill="#f09048"/>
<rect x="354.28" y="170.04" width="5.94" height="5.53" fill="#80a0f0"/>
<rect x="360.22" y="170.04" width="2.97" height="5.53" fill="#f01505"/>
<rect x="363.19" y="170.04" width="8.91" height="5.53" fill="#f08080"/>
<rect x="372.10" y="170.04" width="2.97" height="5.53" fill="#f09048"/>
<rect x="375.07" y="170.04" width="2.97" height="5.53" fill="#80a0f0"/>
<rect x="378.04" y="170.04" width="2.97" height="5.53" fill="#f09048"/>
<rect x="381.01" y="170.04" width="2.97" height="5.53" fill="#00ff00"/>
<rect x="383.98" y="170.04" width="2.97" height="5.53" fill="#80a0f0"/>
<rect x="386.95" y="170.04" width="8.91" height="5.53" fill="#f09048"/>
<rect x="395.86" y="170.04" width="5.94" height="5.53" fill="#80a0f0"/>
<rect x="401.80" y="170.04" width="2.97" height="5.53" fill="#00ff00"/>
<rect x="404.77" y="170.04" width="5.94" height="5.53" fill="#f09048"/>
<rect x="410.71" y="170.04" width="14.85" height="5.53" fill="#80a0f0"/>
<rect x="425.56" y="170.04" width="2.97" height="5.53" fill="#f09048"/>
<rect x="428.53" y="170.04" width="8.91" height="5.53" fill="#80a0f0"/>
<rect x="437.44" y="170.04" width="2.97" height="5.53" fill="#f09048"/>
<rect x="440.41" y="170.04" width="2.97" height="5.53" fill="#00ff00"/>
<rect x="443.38" y="170.04" width="2.97" height="5.53" fill="#80a0f0"/>
<rect x="446.35" y="170.04" width="2.97" height="5.53" fill="#00ff00"/>
<rect x="449.32" y="170.04" width="2.97" height="5.53" fill="#80a0f0"/>
<rect x="452.29" y="170.04" width="2.97" height="5.53" fill="#ffff00"/>
<rect x="455.26" y="170.04" width="5.94" height="5.53" fill="#80a0f0"/>
<rect x="461.20" y="170.04" width="2.97" height="5.53" fill="#f09048"/>
<rect x="464.17" y="170.04" width="2.97" height="5.53" fill="#00ff00"/>
<rect x="467.14" y="170.04" width="2.97" height="5.53" fill="#80a0f0"/>
<rect x="470.11" y="170.04" width="2.97" height="5.53" fill="#00ff00"/>
<rect x="473.08" y="170.04" width="2.97" height="5.53" fill="#f09048"/>
<rect x="476.05" y="170.04" width="2.97" height="5.53" fill="#00ff00"/>
<rect x="479.02" y="170.04" width="5.94" height="5.53" fill="#80a0f0"/>
<rect x="484.96" y="170.04" width="2.97" height="5.53" fill="#f09048"/>
<rect x="487.93" y="170.04" width="5.94" height="5.53" fill="#80a0f0"/>
<rect x="493.87" y="170.04" width="5.94" height="5.53" fill="#f09048"/>
<rect x="499.81" y="170.04" width="5.94" height="5.53" fill="#80a0f0"/>
<rect x="505.75" y="170.04" width="2.97" height="5.53" fill="#00ff00"/>
<rect x="508.72" y="170.04" width="2.97" height="5.53" fill="#f09048"/>
<rect x="511.69" y="170.04" width="5.94" height="5.53" fill="#80a0f0"/>
<rect x="517.63" y="170.04" width="2.97" height="5.53" fill="#00ff00"/>
<rect x="520.60" y="170.04" width="2.97" height="5.53" fill="#80a0f0"/>
<rect x="523.57" y="170.04" width="23.76" height="5.53" fill="#f08080"/>
<rect x="283.00" y="175.52" width="5.94" height="5.53" fill="#f08080"/>
<rect x="288.94" y="175.52" width="2.97" height="5.53" fill="#80a0f0"/>
<rect x="291.91" y="175.52" width="2.97" height="5.53" fill="#f01505"/>
<rect x="294.88" y="175.52" width="2.97" height="5.53" fill="#00ff00"/>
<rect x="297.85" y="175.52" width="2.97" height="5.53" fill="#80a0f0"/>
<rect x="300.82" y="175.52" width="2.97" height="5.53" fill="#c048c0"/>
<rect x="303.79" y="175.52" width="2.97" height="5.53" fill="#00ff00"/>
<rect x="306.76" y="175.52" width="11.88" height="5.53" fill="#80a0f0"/>
<rect x="318.64" y="175.52" width="2.97" height="5.53" fill="#00ff00"/>
<rect x="321.61" y="175.52" width="2.97" height="5.53" fill="#c048c0"/>
<rect x="324.58" y="175.52" width="2.97" height="5.53" fill="#80a0f0"/>
<rect x="327.55" y="175.52" width="2.97" height="5.53" fill="#c048c0"/>
<rect x="330.52" y="175.52" width="2.97" height="5.53" fill="#80a0f0"/>
<rect x="333.49" y="175.52" width="5.94" height="5.53" fill="#00ff00"/>
<rect x="339.43" y="175.52" width="2.97" height="5.53" fill="#80a0f0"/>
<rect x="342.40" y="175.52" width="2.97" height="5.53" fill="#c048c0"/>
<rect x="345.37" y="175.52" width="5.94" height="5.53" fill="#f09048"/>
<rect x="351.31" y="175.52" width="11.88" height="5.53" fill="#f01505"/>
<rect x="363.19" y="175.52" width="2.97" height="5.53" fill="#f08080"/>
<rect x="366.16" y="175.52" width="5.94" height="5.53" fill="#00ff00"/>
<rect x="372.10" y="175.52" width="2.97" height="5.53" fill="#15a4a4"/>
<rect x="375.07" y="175.52" width="5.94" height="5.53" fill="#00ff00"/>
<rect x="381.01" y="175.52" width="8.91" height="5.53" fill="#80a0f0"/>
<rect x="389.92" y="175.52" width="5.94" height="5.53" fill="#c048c0"/>
<rect x="395.86" y="175.52" width="2.97" height="5.53" fill="#f09048"/>
<rect x="398.83" y="175.52" width="5.94" height="5.53" fill="#80a0f0"/>
<rect x="404.77" y="175.52" width="2.97" height="5.53" fill="#f09048"/>
<rect x="407.74" y="175.52" width="5.94" height="5.53" fill="#80a0f0"/>
<rect x="413.68" y="175.52" width="2.97" height="5.53" fill="#f09048"/>
<rect x="416.65" y="175.52" width="2.97" height="5.53" fill="#00ff00"/>
<rect x="419.62" y="175.52" width="2.97" height="5.53" fill="#80a0f0"/>
<rect x="422.59" y="175.52" width="2.97" height="5.53" fill="#ffff00"/>
<rect x="425.56" y="175.52" width="2.97" height="5.53" fill="#f09048"/>
<rect x="428.53" y="175.52" width="8.91" height="5.53" fill="#80a0f0"/>
<rect x="437.44" y="175.52" width="5.94" height="5.53" fill="#f09048"/>
<rect x="443.38" y="175.52" width="2.97" height="5.53" fill="#80a0f0"/>
<rect x="446.35" y="175.52" width="8.91" height="5.53" fill="#f09048"/>
<rect x="455.26" y="175.52" width="8.91" height="5.53" fill="#80a0f0"/>
<rect x="464.17" y="175.52" width="2.97" height="5.53" fill="#00ff00"/>
<rect x="467.14" y="175.52" width="2.97" height="5.53" fill="#15a4a4"/>
<rect x="470.11" y="175.52" width="5.94" height="5.53" fill="#f09048"/>
<rect x="476.05" y="175.52" width="2.97" height="5.53" fill="#15a4a4"/>
<rect x="479.02" y="175.52" width="2.97" height="5.53" fill="#f08080"/>
<rect x="481.99" y="175.52" width="65.34" height="5.53" fill="#80a0f0"/>
<rect x="283.00" y="181.00" width="2.97" height="5.53" fill="#80a0f0"/>
<rect x="285.97" y="181.00" width="5.94" height="5.53" fill="#00ff00"/>
<rect x="291.91" y="181.00" width="2.97" height="5.53" fill="#f01505"/>
<rect x="294.88" y="181.00" width="2.97" height="5.53" fill="#00ff00"/>
<rect x="297.85" y="181.00" width="2.97" height="5.53" fill="#80a0f0"/>
<rect x="300.82" y="181.00" width="2.97" height="5.53" fill="#c048c0"/>
<rect x="303.79" y="181.00" width="2.97" height="5.53" fill="#00ff00"/>
<rect x="306.76" y="181.00" width="2.97" height="5.53" fill="#80a0f0"/>
<rect x="309.73" y="181.00" width="2.97" height="5.53" fill="#c048c0"/>
<rect x="312.70" y="181.00" width="5.94" height="5.53" fill="#80a0f0"/>
<rect x="318.64" y="181.00" width="2.97" height="5.53" fill="#00ff00"/>
<rect x="321.61" y="181.00" width="5.94" height="5.53" fill="#c048c0"/>
<rect x="327.55" y="181.00" width="5.94" height="5.53" fill="#80a0f0"/>
<rect x="333.49" y="181.00" width="5.94" height="5.53" fill="#00ff00"/>
<rect x="339.43" y="181.00" width="2.97" height="5.53" fill="#80a0f0"/>
<rect x="342.40" y="181.00" width="2.97" height="5.53" fill="#c048c0"/>
<rect x="345.37" y="181.00" width="5.94" height="5.53" fill="#f09048"/>
<rect x="351.31" y="181.00" width="11.88" height="5.53" fill="#f01505"/>
<rect x="363.19" y="181.00" width="2.97" height="5.53" fill="#f08080"/>
<rect x="366.16" y="181.00" width="5.94" height="5.53" fill="#00ff00"/>
<rect x="372.10" y="181.00" width="2.97" height="5.53" fill="#15a4a4"/>
<rect x="375.07" y="181.00" width="5.94" height="5.53" fill="#00ff00"/>
<rect x="381.01" y="181.00" width="8.91" height="5.53" fill="#80a0f0"/>
<rect x="389.92" y="181.00" width="5.94" height="5.53" fill="#c048c0"/>
<rect x="395.86" y="181.00" width="2.97" height="5.53" fill="#f09048"/>
<rect x="398.83" y="181.00" width="5.94" height="5.53" fill="#80a0f0"/>
<rect x="404.77" y="181.00" width="2.97" height="5.53" fill="#f09048"/>
<rect x="407.74" y="181.00" width="17.82" height="5.53" fill="#80a0f0"/>
<rect x="425.56" y="181.00" width="2.97" height="5.53" fill="#f09048"/>
<rect x="428.53" y="181.00" width="5.94" height="5.53" fill="#80a0f0"/>
<rect x="434.47" y="181.00" width="2.97" height="5.53" fill="#f09048"/>
<rect x="437.44" y="181.00" width="2.97" height="5.53" fill="#00ff00"/>
<rect x="440.41" y="181.00" width="2.97" height="5.53" fill="#80a0f0"/>
<rect x="443.38" y="181.00" width="8.91" height="5.53" fill="#ffff00"/>
<rect x="452.29" y="181.00" width="2.97" height="5.53" fill="#f09048"/>
<rect x="455.26" y="181.00" width="8.91" height="5.53" fill="#80a0f0"/>
<rect x="464.17" y="181.00" width="2.97" height="5.53" fill="#f09048"/>
<rect x="467.14" y="181.00" width="2.97" height="5.53" fill="#80a0f0"/>
<rect x="470.11" y="181.00" width="5.94" height="5.53" fill="#f09048"/>
<rect x="476.05" y="181.00" width="11.88" height="5.53" fill="#80a0f0"/>
<rect x="487.93" y="181.00" width="2.97" height="5.53" fill="#00ff00"/>
<rect x="490.90" y="181.00" width="2.97" height="5.53" fill="#15a4a4"/>
<rect x="493.87" y="181.00" width="5.94" height="5.53" fill="#f09048"/>
<rect x="499.81" y="181.00" width="2.97" height="5.53" fill="#15a4a4"/>
<rect x="502.78" y="181.00" width="2.97" height="5.53" fill="#f08080"/>
<rect x="505.75" y="181.00" width="41.58" height="5.53" fill="#80a0f0"/>
<rect x="283.00" y="186.48" width="2.97" height="5.53" fill="#80a0f0"/>
<rect x="285.97" y="186.48" width="5.94" height="5.53" fill="#00ff00"/>
<rect x="291.91" y="186.48" width="2.97" height="5.53" fill="#f01505"/>
<rect x="294.88" y="186.48" width="2.97" height="5.53" fill="#00ff00"/>
<rect x="297.85" y="186.48" width="2.97" height="5.53" fill="#80a0f0"/>
<rect x="300.82" y="186.48" width="2.97" height="5.53" fill="#c048c0"/>
<rect x="303.79" y="186.48" width="2.97" height="5.53" fill="#00ff00"/>
<rect x="306.76" y="186.48" width="2.97" height="5.53" fill="#80a0f0"/>
<rect x="309.73" y="186.48" width="2.97" height="5.53" fill="#c048c0"/>
<rect x="312.70" y="186.48" width="5.94" height="5.53" fill="#80a0f0"/>
<rect x="318.64" y="186.48" width="2.97" height="5.53" fill="#00ff00"/>
<rect x="321.61" y="186.48" width="5.94" height="5.53" fill="#c048c0"/>
<rect x="327.55" y="186.48" width="5.94" height="5.53" fill="#80a0f0"/>
<rect x="333.49" y="186.48" width="5.94" height="5.53" fill="#00ff00"/>
<rect x="339.43" y="186.48" width="2.97" height="5.53" fill="#80a0f0"/>
<rect x="342.40" y="186.48" width="2.97" height="5.53" fill="#c048c0"/>
<rect x="345.37" y="186.48" width="5.94" height="5.53" fill="#f09048"/>
<rect x="351.31" y="186.48" width="11.88" height="5.53" fill="#f01505"/>
<rect x="363.19" y="186.48" width="2.97" height="5.53" fill="#f08080"/>
<rect x="366.16" y="186.48" width="5.94" height="5.53" fill="#00ff00"/>
<rect x="372.10" y="186.48" width="2.97" height="5.53" fill="#15a4a4"/>
<rect x="375.07" y="186.48" width="5.94" height="5.53" fill="#00ff00"/>
<rect x="381.01" y="186.48" width="8.91" height="5.53" fill="#80a0f0"/>
<rect x="389.92" y="186.48" width="5.94" height="5.53" fill="#c048c0"/>
<rect x="395.86" y="186.48" width="2.97" height="5.53" fill="#f09048"/>
<rect x="398.83" y="186.48" width="5.94" height="5.53" fill="#80a0f0"/>
<rect x="404.77" y="186.48" width="2.97" height="5.53" fill="#f09048"/>
<rect x="407.74" y="186.48" width="17.82" height="5.53" fill="#80a0f0"/>
<rect x="425.56" y="186.48" width="2.97" height="5.53" fill="#f09048"/>
<rect x="428.53" y="186.48" width="5.94" height="5.53" fill="#80a0f0"/>
<rect x="434.47" y="186.48" width="2.97" height="5.53" fill="#f09048"/>
<rect x="437.44" y="186.48" width="2.97" height="5.53" fill="#00ff00"/>
<rect x="440.41" y="186.48" width="2.97" height="5.53" fill="#80a0f0"/>
<rect x="443.38" y="186.48" width="8.91" height="5.53" fill="#ffff00"/>
<rect x="452.29" y="186.48" width="2.97" height="5.53" fill="#f09048"/>
<rect x="455.26" y="186.48" width="8.91" height="5.53" fill="#80a0f0"/>
<rect x="464.17" y="186.48" width="2.97" height="5.53" fill="#f09048"/>
<rect x="467.14" y="186.48" width="2.97" height="5.53" fill="#80a0f0"/>
<rect x="470.11" y="186.48" width="5.94" height="5.53" fill="#f09048"/>
<rect x="476.05" y="186.48" width="11.88" height="5.53" fill="#80a0f0"/>
<rect x="487.93" y="186.48" width="2.97" height="5.53" fill="#00ff00"/>
<rect x="490.90" y="186.48" width="2.97" height="5.53" fill="#15a4a4"/>
<rect x="493.87" y="186.48" width="5.94" height="5.53" fill="#f09048"/>
<rect x="499.81" y="186.48" width="2.97" height="5.53" fill="#15a4a4"/>
<rect x="502.78" y="186.48" width="2.97" height="5.53" fill="#f08080"/>
<rect x="505.75" y="186.48" width="41.58" height="5.53" fill="#80a0f0"/>
<rect x="283.00" y="191.96" width="8.91" height="5.53" fill="#80a0f0"/>
<rect x="291.91" y="191.96" width="2.97" height="5.53" fill="#f01505"/>
<rect x="294.88" y="191.96" width="2.97" height="5.53" fill="#00ff00"/>
<rect x="297.85" y="191.96" width="2.97" height="5.53" fill="#80a0f0"/>
<rect x="300.82" y="191.96" width="2.97" height="5.53" fill="#c048c0"/>
<rect x="303.79" y="191.96" width="2.97" height="5.53" fill="#00ff00"/>
<rect x="306.76" y="191.96" width="2.97" height="5.53" fill="#80a0f0"/>
<rect x="309.73" y="191.96" width="2.97" height="5.53" fill="#c048c0"/>
<rect x="312.70" y="191.96" width="5.94" height="5.53" fill="#80a0f0"/>
<rect x="318.64" y="191.96" width="2.97" height="5.53" fill="#00ff00"/>
<rect x="321.61" y="191.96" width="2.97" height="5.53" fill="#c048c0"/>
<rect x="324.58" y="191.96" width="2.97" height="5.53" fill="#80a0f0"/>
<rect x="327.55" y="191.96" width="2.97" height="5.53" fill="#c048c0"/>
<rect x="330.52" y="191.96" width="2.97" height="5.53" fill="#80a0f0"/>
<rect x="333.49" y="191.96" width="5.94" height="5.53" fill="#00ff00"/>
<rect x="339.43" y="191.96" width="2.97" height="5.53" fill="#80a0f0"/>
<rect x="342.40" y="191.96" width="2.97" height="5.53" fill="#c048c0"/>
<rect x="345.37" y="191.96" width="5.94" height="5.53" fill="#f09048"/>
<rect x="351.31" y="191.96" width="8.91" height="5.53" fill="#80a0f0"/>
<rect x="360.22" y="191.96" width="2.97" height="5.53" fill="#00ff00"/>
<rect x="363.19" y="191.96" width="8.91" height="5.53" fill="#f08080"/>
<rect x="372.10" y="191.96" width="2.97" height="5.53" fill="#80a0f0"/>
<rect x="375.07" y="191.96" width="2.97" height="5.53" fill="#c048c0"/>
<rect x="378.04" y="191.96" width="2.97" height="5.53" fill="#00ff00"/>
<rect x="381.01" y="191.96" width="5.94" height="5.53" fill="#80a0f0"/>
<rect x="386.95" y="191.96" width="2.97" height="5.53" fill="#f09048"/>
<rect x="389.92" y="191.96" width="5.94" height="5.53" fill="#80a0f0"/>
<rect x="395.86" y="191.96" width="5.94" height="5.53" fill="#f09048"/>
<rect x="401.80" y="191.96" width="2.97" height="5.53" fill="#80a0f0"/>
<rect x="404.77" y="191.96" width="2.97" height="5.53" fill="#f09048"/>
<rect x="407.74" y="191.96" width="5.94" height="5.53" fill="#00ff00"/>
<rect x="413.68" y="191.96" width="11.88" height="5.53" fill="#80a0f0"/>
<rect x="425.56" y="191.96" width="2.97" height="5.53" fill="#f09048"/>
<rect x="428.53" y="191.96" width="2.97" height="5.53" fill="#ffff00"/>
<rect x="431.50" y="191.96" width="2.97" height="5.53" fill="#80a0f0"/>
<rect x="434.47" y="191.96" width="2.97" height="5.53" fill="#f09048"/>
<rect x="437.44" y="191.96" width="5.94" height="5.53" fill="#80a0f0"/>
<rect x="443.38" y="191.96" width="11.88" height="5.53" fill="#f09048"/>
<rect x="455.26" y="191.96" width="23.76" height="5.53" fill="#80a0f0"/>
<rect x="479.02" y="191.96" width="2.97" height="5.53" fill="#f08080"/>
<rect x="481.99" y="191.96" width="2.97" height="5.53" fill="#80a0f0"/>
<rect x="484.96" y="191.96" width="62.37" height="5.53" fill="#f01505"/>
<rect x="283.00" y="197.44" width="2.97" height="5.53" fill="#80a0f0"/>
<rect x="285.97" y="197.44" width="5.94" height="5.53" fill="#00ff00"/>
<rect x="291.91" y="197.44" width="2.97" height="5.53" fill="#f01505"/>
<rect x="294.88" y="197.44" width="2.97" height="5.53" fill="#00ff00"/>
<rect x="297.85" y="197.44" width="2.97" height="5.53" fill="#80a0f0"/>
<rect x="300.82" y="197.44" width="2.97" height="5.53" fill="#c048c0"/>
<rect x="303.79" y="197.44" width="2.97" height="5.53" fill="#00ff00"/>
<rect x="306.76" y="197.44" width="2.97" height="5.53" fill="#80a0f0"/>
<rect x="309.73" y="197.44" width="2.97" height="5.53" fill="#c048c0"/>
<rect x="312.70" y="197.44" width="5.94" height="5.53" fill="#80a0f0"/>
<rect x="318.64" y="197.44" width="2.97" height="5.53" fill="#00ff00"/>
<rect x="321.61" y="197.44" width="2.97" height="5.53" fill="#c048c0"/>
<rect x="324.58" y="197.44" width="2.97" height="5.53" fill="#80a0f0"/>
<rect x="327.55" y="197.44" width="2.97" height="5.53" fill="#c048c0"/>
<rect x="330.52" y="197.44" width="2.97" height="5.53" fill="#80a0f0"/>
<rect x="333.49" y="197.44" width="5.94" height="5.53" fill="#00ff00"/>
<rect x="339.43" y="197.44" width="2.97" height="5.53" fill="#80a0f0"/>
<rect x="342.40" y="197.44" width="2.97" height="5.53" fill="#c048c0"/>
<rect x="345.37" y="197.44" width="5.94" height="5.53" fill="#f09048"/>
<rect x="351.31" y="197.44" width="8.91" height="5.53" fill="#80a0f0"/>
<rect x="360.22" y="197.44" width="2.97" height="5.53" fill="#00ff00"/>
<rect x="363.19" y="197.44" width="8.91" height="5.53" fill="#f08080"/>
<rect x="372.10" y="197.44" width="2.97" height="5.53" fill="#80a0f0"/>
<rect x="375.07" y="197.44" width="2.97" height="5.53" fill="#c048c0"/>
<rect x="378.04" y="197.44" width="2.97" height="5.53" fill="#00ff00"/>
<rect x="381.01" y="197.44" width="5.94" height="5.53" fill="#80a0f0"/>
<rect x="386.95" y="197.44" width="2.97" height="5.53" fill="#f09048"/>
<rect x="389.92" y="197.44" width="5.94" height="5.53" fill="#80a0f0"/>
<rect x="395.86" y="197.44" width="5.94" height="5.53" fill="#f09048"/>
<rect x="401.80" y="197.44" width="2.97" height="5.53" fill="#80a0f0"/>
<rect x="404.77" y="197.44" width="2.97" height="5.53" fill="#f09048"/>
<rect x="407.74" y="197.44" width="5.94" height="5.53" fill="#00ff00"/>
<rect x="413.68" y="197.44" width="11.88" height="5.53" fill="#80a0f0"/>
<rect x="425.56" y="197.44" width="2.97" height="5.53" fill="#f09048"/>
<rect x="428.53" y="197.44" width="2.97" height="5.53" fill="#ffff00"/>
<rect x="431.50" y="197.44" width="2.97" height="5.53" fill="#80a0f0"/>
<rect x="434.47" y="197.44" width="2.97" height="5.53" fill="#f09048"/>
<rect x="437.44" y="197.44" width="5.94" height="5.53" fill="#80a0f0"/>
<rect x="443.38" y="197.44" width="11.88" height="5.53" fill="#f09048"/>
<rect x="455.26" y="197.44" width="23.76" height="5.53" fill="#80a0f0"/>
<rect x="479.02" y="197.44" width="2.97" height="5.53" fill="#f08080"/>
<rect x="481.99" y="197.44" width="2.97" height="5.53" fill="#80a0f0"/>
<rect x="484.96" y="197.44" width="62.37" height="5.53" fill="#f01505"/>
<rect x="283.00" y="202.92" width="2.97" height="5.53" fill="#80a0f0"/>
<rect x="285.97" y="202.92" width="5.94" height="5.53" fill="#00ff00"/>
<rect x="291.91" y="202.92" width="2.97" height="5.53" fill="#f01505"/>
<rect x="294.88" y="202.92" width="2.97" height="5.53" fill="#00ff00"/>
<rect x="297.85" y="202.92" width="2.97" height="5.53" fill="#80a0f0"/>
<rect x="300.82" y="202.92" width="2.97" height="5.53" fill="#c048c0"/>
<rect x="303.79" y="202.92" width="2.97" height="5.53" fill="#00ff00"/>
<rect x="306.76" y="202.92" width="2.97" height="5.53" fill="#80a0f0"/>
<rect x="309.73" y="202.92" width="2.97" height="5.53" fill="#c048c0"/>
<rect x="312.70" y="202.92" width="5.94" height="5.53" fill="#80a0f0"/>
<rect x="318.64" y="202.92" width="2.97" height="5.53" fill="#00ff00"/>
<rect x="321.61" y="202.92" width="2.97" height="5.53" fill="#c048c0"/>
<rect x="324.58" y="202.92" width="2.97" height="5.53" fill="#80a0f0"/>
<rect x="327.55" y="202.92" width="2.97" height="5.53" fill="#c048c0"/>
<rect x="330.52" y="202.92" width="2.97" height="5.53" fill="#80a0f0"/>
<rect x="333.49" y="202.92" width="5.94" height="5.53" fill="#00ff00"/>
<rect x="339.43" y="202.92" width="2.97" height="5.53" fill="#80a0f0"/>
<rect x="342.40" y="202.92" width="2.97" height="5.53" fill="#c048c0"/>
<rect x="345.37" y="202.92" width="5.94" height="5.53" fill="#f09048"/>
<rect x="351.31" y="202.92" width="8.91" height="5.53" fill="#80a0f0"/>
<rect x="360.22" y="202.92" width="2.97" height="5.53" fill="#00ff00"/>
<rect x="363.19" y="202.92" width="8.91" height="5.53" fill="#f08080"/>
<rect x="372.10" y="202.92" width="2.97" height="5.53" fill="#80a0f0"/>
<rect x="375.07" y="202.92" width="2.97" height="5.53" fill="#c048c0"/>
<rect x="378.04" y="202.92" width="2.97" height="5.53" fill="#00ff00"/>
<rect x="381.01" y="202.92" width="5.94" height="5.53" fill="#80a0f0"/>
<rect x="386.95" y="202.92" width="2.97" height="5.53" fill="#f09048"/>
<rect x="389.92" y="202.92" width="5.94" height="5.53" fill="#80a0f0"/>
<rect x="395.86" y="202.92" width="5.94" height="5.53" fill="#f09048"/>
<rect x="401.80" y="202.92" width="2.97" height="5.53" fill="#80a0f0"/>
<rect x="404.77" y="202.92" width="2.97" height="5.53" fill="#f09048"/>
<rect x="407.74" y="202.92" width="5.94" height="5.53" fill="#00ff00"/>
<rect x="413.68" y="202.92" width="11.88" height="5.53" fill="#80a0f0"/>
<rect x="425.56" y="202.92" width="2.97" height="5.53" fill="#f09048"/>
<rect x="428.53" y="202.92" width="2.97" height="5.53" fill="#ffff00"/>
<rect x="431.50" y="202.92" width="2.97" height="5.53" fill="#80a0f0"/>
<rect x="434.47" y="202.92" width="2.97" height="5.53" fill="#f09048"/>
<rect x="437.44" y="202.92" width="5.94" height="5.53" fill="#80a0f0"/>
<rect x="443.38" y="202.92" width="11.88" height="5.53" fill="#f09048"/>
<rect x="455.26" y="202.92" width="23.76" height="5.53" fill="#80a0f0"/>
<rect x="479.02" y="202.92" width="2.97" height="5.53" fill="#f08080"/>
<rect x="481.99" y="202.92" width="2.97" height="5.53" fill="#80a0f0"/>
<rect x="484.96" y="202.92" width="62.37" height="5.53" fill="#f01505"/>
<rect x="283.00" y="208.40" width="2.97" height="5.53" fill="#80a0f0"/>
<rect x="285.97" y="208.40" width="5.94" height="5.53" fill="#00ff00"/>
<rect x="291.91" y="208.40" width="8.91" height="5.53" fill="#80a0f0"/>
<rect x="300.82" y="208.40" width="2.97" height="5.53" fill="#c048c0"/>
<rect x="303.79" y="208.40" width="2.97" height="5.53" fill="#00ff00"/>
<rect x="306.76" y="208.40" width="2.97" height="5.53" fill="#80a0f0"/>
<rect x="309.73" y="208.40" width="2.97" height="5.53" fill="#c048c0"/>
<rect x="312.70" y="208.40" width="5.94" height="5.53" fill="#80a0f0"/>
<rect x="318.64" y="208.40" width="2.97" height="5.53" fill="#c048c0"/>
<rect x="321.61" y="208.40" width="2.97" height="5.53" fill="#00ff00"/>
<rect x="324.58" y="208.40" width="2.97" height="5.53" fill="#f01505"/>
<rect x="327.55" y="208.40" width="2.97" height="5.53" fill="#00ff00"/>
<rect x="330.52" y="208.40" width="2.97" height="5.53" fill="#80a0f0"/>
<rect x="333.49" y="208.40" width="5.94" height="5.53" fill="#00ff00"/>
<rect x="339.43" y="208.40" width="2.97" height="5.53" fill="#80a0f0"/>
<rect x="342.40" y="208.40" width="2.97" height="5.53" fill="#c048c0"/>
<rect x="345.37" y="208.40" width="8.91" height="5.53" fill="#f09048"/>
<rect x="354.28" y="208.40" width="2.97" height="5.53" fill="#15a4a4"/>
<rect x="357.25" y="208.40" width="2.97" height="5.53" fill="#f09048"/>
<rect x="360.22" y="208.40" width="2.97" height="5.53" fill="#80a0f0"/>
<rect x="363.19" y="208.40" width="2.97" height="5.53" fill="#00ff00"/>
<rect x="366.16" y="208.40" width="5.94" height="5.53" fill="#f08080"/>
<rect x="372.10" y="208.40" width="5.94" height="5.53" fill="#80a0f0"/>
<rect x="378.04" y="208.40" width="2.97" height="5.53" fill="#f09048"/>
<rect x="381.01" y="208.40" width="2.97" height="5.53" fill="#00ff00"/>
<rect x="383.98" y="208.40" width="2.97" height="5.53" fill="#80a0f0"/>
<rect x="386.95" y="208.40" width="2.97" height="5.53" fill="#f09048"/>
<rect x="389.92" y="208.40" width="5.94" height="5.53" fill="#00ff00"/>
<rect x="395.86" y="208.40" width="8.91" height="5.53" fill="#80a0f0"/>
<rect x="404.77" y="208.40" width="5.94" height="5.53" fill="#f09048"/>
<rect x="410.71" y="208.40" width="14.85" height="5.53" fill="#80a0f0"/>
<rect x="425.56" y="208.40" width="2.97" height="5.53" fill="#f09048"/>
<rect x="428.53" y="208.40" width="2.97" height="5.53" fill="#ffff00"/>
<rect x="431.50" y="208.40" width="2.97" height="5.53" fill="#80a0f0"/>
<rect x="434.47" y="208.40" width="2.97" height="5.53" fill="#f09048"/>
<rect x="437.44" y="208.40" width="2.97" height="5.53" fill="#80a0f0"/>
<rect x="440.41" y="208.40" width="2.97" height="5.53" fill="#f09048"/>
<rect x="443.38" y="208.40" width="8.91" height="5.53" fill="#80a0f0"/>
<rect x="452.29" y="208.40" width="2.97" height="5.53" fill="#f09048"/>
<rect x="455.26" y="208.40" width="5.94" height="5.53" fill="#80a0f0"/>
<rect x="461.20" y="208.40" width="5.94" height="5.53" fill="#f09048"/>
<rect x="467.14" y="208.40" width="5.94" height="5.53" fill="#00ff00"/>
<rect x="473.08" y="208.40" width="5.94" height="5.53" fill="#80a0f0"/>
<rect x="479.02" y="208.40" width="2.97" height="5.53" fill="#f08080"/>
<rect x="481.99" y="208.40" width="2.97" height="5.53" fill="#15a4a4"/>
<rect x="484.96" y="208.40" width="2.97" height="5.53" fill="#00ff00"/>
<rect x="487.93" y="208.40" width="2.97" height="5.53" fill="#f01505"/>
<rect x="490.90" y="208.40" width="2.97" height="5.53" fill="#80a0f0"/>
<rect x="493.87" y="208.40" width="53.46" height="5.53" fill="#15a4a4"/>
<rect x="283.00" y="213.88" width="2.97" height="5.53" fill="#80a0f0"/>
<rect x="285.97" y="213.88" width="5.94" height="5.53" fill="#00ff00"/>
<rect x="291.91" y="213.88" width="8.91" height="5.53" fill="#80a0f0"/>
<rect x="300.82" y="213.88" width="2.97" height="5.53" fill="#c048c0"/>
<rect x="303.79" y="213.88" width="2.97" height="5.53" fill="#00ff00"/>
<rect x="306.76" y="213.88" width="2.97" height="5.53" fill="#80a0f0"/>
<rect x="309.73" y="213.88" width="2.97" height="5.53" fill="#c048c0"/>
<rect x="312.70" y="213.88" width="5.94" height="5.53" fill="#80a0f0"/>
<rect x="318.64" y="213.88" width="2.97" height="5.53" fill="#c048c0"/>
<rect x="321.61" y="213.88" width="2.97" height="5.53" fill="#00ff00"/>
<rect x="324.58" y="213.88" width="2.97" height="5.53" fill="#f01505"/>
<rect x="327.55" y="213.88" width="2.97" height="5.53" fill="#00ff00"/>
<rect x="330.52" y="213.88" width="2.97" height="5.53" fill="#80a0f0"/>
<rect x="333.49" y="213.88" width="5.94" height="5.53" fill="#00ff00"/>
<rect x="339.43" y="213.88" width="2.97" height="5.53" fill="#80a0f0"/>
<rect x="342.40" y="213.88" width="2.97" height="5.53" fill="#c048c0"/>
<rect x="345.37" y="213.88" width="8.91" height="5.53" fill="#f09048"/>
<rect x="354.28" y="213.88" width="2.97" height="5.53" fill="#15a4a4"/>
<rect x="357.25" y="213.88" width="2.97" height="5.53" fill="#f09048"/>
<rect x="360.22" y="213.88" width="2.97" height="5.53" fill="#80a0f0"/>
<rect x="363.19" y="213.88" width="2.97" height="5.53" fill="#00ff00"/>
<rect x="366.16" y="213.88" width="5.94" height="5.53" fill="#f08080"/>
<rect x="372.10" y="213.88" width="5.94" height="5.53" fill="#80a0f0"/>
<rect x="378.04" y="213.88" width="2.97" height="5.53" fill="#f09048"/>
<rect x="381.01" y="213.88" width="2.97" height="5.53" fill="#00ff00"/>
<rect x="383.98" y="213.88" width="2.97" height="5.53" fill="#80a0f0"/>
<rect x="386.95" y="213.88" width="2.97" height="5.53" fill="#f09048"/>
<rect x="389.92" y="213.88" width="5.94" height="5.53" fill="#00ff00"/>
<rect x="395.86" y="213.88" width="8.91" height="5.53" fill="#80a0f0"/>
<rect x="404.77" y="213.88" width="5.94" height="5.53" fill="#f09048"/>
<rect x="410.71" y="213.88" width="14.85" height="5.53" fill="#80a0f0"/>
<rect x="425.56" y="213.88" width="2.97" height="5.53" fill="#f09048"/>
<rect x="428.53" y="213.88" width="2.97" height="5.53" fill="#ffff00"/>
<rect x="431.50" y="213.88" width="2.97" height="5.53" fill="#80a0f0"/>
<rect x="434.47" y="213.88" width="2.97" height="5.53" fill="#f09048"/>
<rect x="437.44" y="213.88" width="2.97" height="5.53" fill="#80a0f0"/>
<rect x="440.41" y="213.88" width="2.97" height="5.53" fill="#f09048"/>
<rect x="443.38" y="213.88" width="8.91" height="5.53" fill="#80a0f0"/>
<rect x="452.29" y="213.88" width="2.97" height="5.53" fill="#f09048"/>
<rect x="455.26" y="213.88" width="5.94" height="5.53" fill="#80a0f0"/>
<rect x="461.20" y="213.88" width="5.94" height="5.53" fill="#f09048"/>
<rect x="467.14" y="213.88" width="5.94" height="5.53" fill="#00ff00"/>
<rect x="473.08" y="213.88" width="5.94" height="5.53" fill="#80a0f0"/>
<rect x="479.02" y="213.88" width="2.97" height="5.53" fill="#f08080"/>
<rect x="481.99" y="213.88" width="2.97" height="5.53" fill="#15a4a4"/>
<rect x="484.96" y="213.88" width="2.97" height="5.53" fill="#00ff00"/>
<rect x="487.93" y="213.88" width="2.97" height="5.53" fill="#f01505"/>
<rect x="490.90" y="213.88" width="2.97" height="5.53" fill="#80a0f0"/>
<rect x="493.87" y="213.88" width="53.46" height="5.53" fill="#15a4a4"/>
<rect x="283.00" y="219.36" width="2.97" height="5.53" fill="#80a0f0"/>
<rect x="285.97" y="219.36" width="5.94" height="5.53" fill="#00ff00"/>
<rect x="291.91" y="219.36" width="8.91" height="5.53" fill="#80a0f0"/>
<rect x="300.82" y="219.36" width="2.97" height="5.53" fill="#c048c0"/>
<rect x="303.79" y="219.36" width="2.97" height="5.53" fill="#00ff00"/>
<rect x="306.76" y="219.36" width="2.97" height="5.53" fill="#80a0f0"/>
<rect x="309.73" y="219.36" width="2.97" height="5.53" fill="#c048c0"/>
<rect x="312.70" y="219.36" width="5.94" height="5.53" fill="#80a0f0"/>
<rect x="318.64" y="219.36" width="2.97" height="5.53" fill="#c048c0"/>
<rect x="321.61" y="219.36" width="2.97" height="5.53" fill="#00ff00"/>
<rect x="324.58" y="219.36" width="2.97" height="5.53" fill="#f01505"/>
<rect x="327.55" y="219.36" width="2.97" height="5.53" fill="#00ff00"/>
<rect x="330.52" y="219.36" width="2.97" height="5.53" fill="#80a0f0"/>
<rect x="333.49" y="219.36" width="5.94" height="5.53" fill="#00ff00"/>
<rect x="339.43" y="219.36" width="2.97" height="5.53" fill="#80a0f0"/>
<rect x="342.40" y="219.36" width="2.97" height="5.53" fill="#c048c0"/>
<rect x="345.37" y="219.36" width="8.91" height="5.53" fill="#f09048"/>
<rect x="354.28" y="219.36" width="2.97" height="5.53" fill="#15a4a4"/>
<rect x="357.25" y="219.36" width="2.97" height="5.53" fill="#f09048"/>
<rect x="360.22" y="219.36" width="2.97" height="5.53" fill="#80a0f0"/>
<rect x="363.19" y="219.36" width="2.97" height="5.53" fill="#00ff00"/>
<rect x="366.16" y="219.36" width="5.94" height="5.53" fill="#f08080"/>
<rect x="372.10" y="219.36" width="5.94" height="5.53" fill="#80a0f0"/>
<rect x="378.04" y="219.36" width="2.97" height="5.53" fill="#f09048"/>
<rect x="381.01" y="219.36" width="2.97" height="5.53" fill="#00ff00"/>
<rect x="383.98" y="219.36" width="2.97" height="5.53" fill="#80a0f0"/>
<rect x="386.95" y="219.36" width="2.97" height="5.53" fill="#f09048"/>
<rect x="389.92" y="219.36" width="5.94" height="5.53" fill="#00ff00"/>
<rect x="395.86" y="219.36" width="8.91" height="5.53" fill="#80a0f0"/>
<rect x="404.77" y="219.36" width="5.94" height="5.53" fill="#f09048"/>
<rect x="410.71" y="219.36" width="14.85" height="5.53" fill="#80a0f0"/>
<rect x="425.56" y="219.36" width="2.97" height="5.53" fill="#f09048"/>
<rect x="428.53" y="219.36" width="2.97" height="5.53" fill="#ffff00"/>
<rect x="431.50" y="219.36" width="2.97" height="5.53" fill="#80a0f0"/>
<rect x="434.47" y="219.36" width="2.97" height="5.53" fill="#f09048"/>
<rect x="437.44" y="219.36" width="2.97" height="5.53" fill="#80a0f0"/>
<rect x="440.41" y="219.36" width="2.97" height="5.53" fill="#f09048"/>
<rect x="443.38" y="219.36" width="8.91" height="5.53" fill="#80a0f0"/>
<rect x="452.29" y="219.36" width="2.97" height="5.53" fill="#f09048"/>
<rect x="455.26" y="219.36" width="5.94" height="5.53" fill="#80a0f0"/>
<rect x="461.20" y="219.36" width="5.94" height="5.53" fill="#f09048"/>
<rect x="467.14" y="219.36" width="5.94" height="5.53" fill="#00ff00"/>
<rect x="473.08" y="219.36" width="5.94" height="5.53" fill="#80a0f0"/>
<rect x="479.02" y="219.36" width="2.97" height="5.53" fill="#f08080"/>
<rect x="481.99" y="219.36" width="2.97" height="5.53" fill="#15a4a4"/>
<rect x="484.96" y="219.36" width="2.97" height="5.53" fill="#00ff00"/>
<rect x="487.93" y="219.36" width="2.97" height="5.53" fill="#f01505"/>
<rect x="490.90" y="219.36" width="2.97" height="5.53" fill="#80a0f0"/>
<rect x="493.87" y="219.36" width="53.46" height="5.53" fill="#15a4a4"/>
<rect x="283.00" y="224.84" width="5.94" height="5.53" fill="#15a4a4"/>
<rect x="288.94" y="224.84" width="2.97" height="5.53" fill="#80a0f0"/>
<rect x="291.91" y="224.84" width="2.97" height="5.53" fill="#f01505"/>
<rect x="294.88" y="224.84" width="2.97" height="5.53" fill="#00ff00"/>
<rect x="297.85" y="224.84" width="2.97" height="5.53" fill="#80a0f0"/>
<rect x="300.82" y="224.84" width="2.97" height="5.53" fill="#c048c0"/>
<rect x="303.79" y="224.84" width="2.97" height="5.53" fill="#00ff00"/>
<rect x="306.76" y="224.84" width="2.97" height="5.53" fill="#80a0f0"/>
<rect x="309.73" y="224.84" width="2.97" height="5.53" fill="#c048c0"/>
<rect x="312.70" y="224.84" width="5.94" height="5.53" fill="#80a0f0"/>
<rect x="318.64" y="224.84" width="2.97" height="5.53" fill="#00ff00"/>
<rect x="321.61" y="224.84" width="5.94" height="5.53" fill="#c048c0"/>
<rect x="327.55" y="224.84" width="5.94" height="5.53" fill="#80a0f0"/>
<rect x="333.49" y="224.84" width="5.94" height="5.53" fill="#00ff00"/>
<rect x="339.43" y="224.84" width="2.97" height="5.53" fill="#80a0f0"/>
<rect x="342.40" y="224.84" width="2.97" height="5.53" fill="#c048c0"/>
<rect x="345.37" y="224.84" width="5.94" height="5.53" fill="#f09048"/>
<rect x="351.31" y="224.84" width="2.97" height="5.53" fill="#00ff00"/>
<rect x="354.28" y="224.84" width="8.91" height="5.53" fill="#80a0f0"/>
<rect x="363.19" y="224.84" width="8.91" height="5.53" fill="#00ff00"/>
<rect x="372.10" y="224.84" width="2.97" height="5.53" fill="#80a0f0"/>
<rect x="375.07" y="224.84" width="2.97" height="5.53" fill="#f09048"/>
<rect x="378.04" y="224.84" width="11.88" height="5.53" fill="#80a0f0"/>
<rect x="389.92" y="224.84" width="8.91" height="5.53" fill="#f09048"/>
<rect x="398.83" y="224.84" width="5.94" height="5.53" fill="#80a0f0"/>
<rect x="404.77" y="224.84" width="2.97" height="5.53" fill="#f09048"/>
<rect x="407.74" y="224.84" width="17.82" height="5.53" fill="#80a0f0"/>
<rect x="425.56" y="224.84" width="2.97" height="5.53" fill="#f09048"/>
<rect x="428.53" y="224.84" width="2.97" height="5.53" fill="#80a0f0"/>
<rect x="431.50" y="224.84" width="2.97" height="5.53" fill="#f08080"/>
<rect x="434.47" y="224.84" width="2.97" height="5.53" fill="#00ff00"/>
<rect x="437.44" y="224.84" width="2.97" height="5.53" fill="#80a0f0"/>
<rect x="440.41" y="224.84" width="2.97" height="5.53" fill="#00ff00"/>
<rect x="443.38" y="224.84" width="11.88" height="5.53" fill="#80a0f0"/>
<rect x="455.26" y="224.84" width="2.97" height="5.53" fill="#ffff00"/>
<rect x="458.23" y="224.84" width="2.97" height="5.53" fill="#80a0f0"/>
<rect x="461.20" y="224.84" width="2.97" height="5.53" fill="#00ff00"/>
<rect x="464.17" y="224.84" width="2.97" height="5.53" fill="#f09048"/>
<rect x="467.14" y="224.84" width="2.97" height="5.53" fill="#80a0f0"/>
<rect x="470.11" y="224.84" width="2.97" height="5.53" fill="#f08080"/>
<rect x="473.08" y="224.84" width="2.97" height="5.53" fill="#80a0f0"/>
<rect x="476.05" y="224.84" width="2.97" height="5.53" fill="#15a4a4"/>
<rect x="479.02" y="224.84" width="2.97" height="5.53" fill="#80a0f0"/>
<rect x="481.99" y="224.84" width="2.97" height="5.53" fill="#f09048"/>
<rect x="484.96" y="224.84" width="2.97" height="5.53" fill="#80a0f0"/>
<rect x="487.93" y="224.84" width="2.97" height="5.53" fill="#f01505"/>
<rect x="490.90" y="224.84" width="8.91" height="5.53" fill="#80a0f0"/>
<rect x="499.81" y="224.84" width="2.97" height="5.53" fill="#00ff00"/>
<rect x="502.78" y="224.84" width="2.97" height="5.53" fill="#f09048"/>
<rect x="505.75" y="224.84" width="2.97" height="5.53" fill="#15a4a4"/>
<rect x="508.72" y="224.84" width="8.91" height="5.53" fill="#80a0f0"/>
<rect x="517.63" y="224.84" width="5.94" height="5.53" fill="#15a4a4"/>
<rect x="523.57" y="224.84" width="23.76" height="5.53" fill="#00ff00"/>
<rect x="283.00" y="230.32" width="5.94" height="5.53" fill="#00ff00"/>
<rect x="288.94" y="230.32" width="2.97" height="5.53" fill="#80a0f0"/>
<rect x="291.91" y="230.32" width="2.97" height="5.53" fill="#f01505"/>
<rect x="294.88" y="230.32" width="2.97" height="5.53" fill="#00ff00"/>
<rect x="297.85" y="230.32" width="2.97" height="5.53" fill="#80a0f0"/>
<rect x="300.82" y="230.32" width="2.97" height="5.53" fill="#c048c0"/>
<rect x="303.79" y="230.32" width="2.97" height="5.53" fill="#00ff00"/>
<rect x="306.76" y="230.32" width="2.97" height="5.53" fill="#80a0f0"/>
<rect x="309.73" y="230.32" width="2.97" height="5.53" fill="#c048c0"/>
<rect x="312.70" y="230.32" width="5.94" height="5.53" fill="#80a0f0"/>
<rect x="318.64" y="230.32" width="2.97" height="5.53" fill="#00ff00"/>
<rect x="321.61" y="230.32" width="5.94" height="5.53" fill="#c048c0"/>
<rect x="327.55" y="230.32" width="5.94" height="5.53" fill="#80a0f0"/>
<rect x="333.49" y="230.32" width="5.94" height="5.53" fill="#00ff00"/>
<rect x="339.43" y="230.32" width="2.97" height="5.53" fill="#80a0f0"/>
<rect x="342.40" y="230.32" width="2.97" height="5.53" fill="#c048c0"/>
<rect x="345.37" y="230.32" width="5.94" height="5.53" fill="#f09048"/>
<rect x="351.31" y="230.32" width="2.97" height="5.53" fill="#00ff00"/>
<rect x="354.28" y="230.32" width="8.91" height="5.53" fill="#80a0f0"/>
<rect x="363.19" y="230.32" width="8.91" height="5.53" fill="#00ff00"/>
<rect x="372.10" y="230.32" width="2.97" height="5.53" fill="#80a0f0"/>
<rect x="375.07" y="230.32" width="2.97" height="5.53" fill="#f09048"/>
<rect x="378.04" y="230.32" width="11.88" height="5.53" fill="#80a0f0"/>
<rect x="389.92" y="230.32" width="8.91" height="5.53" fill="#f09048"/>
<rect x="398.83" y="230.32" width="5.94" height="5.53" fill="#80a0f0"/>
<rect x="404.77" y="230.32" width="2.97" height="5.53" fill="#f09048"/>
<rect x="407.74" y="230.32" width="17.82" height="5.53" fill="#80a0f0"/>
<rect x="425.56" y="230.32" width="2.97" height="5.53" fill="#f09048"/>
<rect x="428.53" y="230.32" width="2.97" height="5.53" fill="#80a0f0"/>
<rect x="431.50" y="230.32" width="2.97" height="5.53" fill="#f08080"/>
<rect x="434.47" y="230.32" width="2.97" height="5.53" fill="#00ff00"/>
<rect x="437.44" y="230.32" width="2.97" height="5.53" fill="#80a0f0"/>
<rect x="440.41" y="230.32" width="2.97" height="5.53" fill="#00ff00"/>
<rect x="443.38" y="230.32" width="11.88" height="5.53" fill="#80a0f0"/>
<rect x="455.26" y="230.32" width="2.97" height="5.53" fill="#ffff00"/>
<rect x="458.23" y="230.32" width="5.94" height="5.53" fill="#80a0f0"/>
<rect x="464.17" y="230.32" width="2.97" height="5.53" fill="#f09048"/>
<rect x="467.14" y="230.32" width="2.97" height="5.53" fill="#80a0f0"/>
<rect x="470.11" y="230.32" width="2.97" height="5.53" fill="#f08080"/>
<rect x="473.08" y="230.32" width="2.97" height="5.53" fill="#80a0f0"/>
<rect x="476.05" y="230.32" width="2.97" height="5.53" fill="#15a4a4"/>
<rect x="479.02" y="230.32" width="2.97" height="5.53" fill="#80a0f0"/>
<rect x="481.99" y="230.32" width="2.97" height="5.53" fill="#f09048"/>
<rect x="484.96" y="230.32" width="2.97" height="5.53" fill="#80a0f0"/>
<rect x="487.93" y="230.32" width="2.97" height="5.53" fill="#f01505"/>
<rect x="490.90" y="230.32" width="8.91" height="5.53" fill="#80a0f0"/>
<rect x="499.81" y="230.32" width="2.97" height="5.53" fill="#00ff00"/>
<rect x="502.78" y="230.32" width="2.97" height="5.53" fill="#f09048"/>
<rect x="505.75" y="230.32" width="2.97" height="5.53" fill="#15a4a4"/>
<rect x="508.72" y="230.32" width="8.91" height="5.53" fill="#80a0f0"/>
<rect x="517.63" y="230.32" width="5.94" height="5.53" fill="#15a4a4"/>
<rect x="523.57" y="230.32" width="23.76" height="5.53" fill="#00ff00"/>
<rect x="283.00" y="235.80" width="5.94" height="5.53" fill="#00ff00"/>
<rect x="288.94" y="235.80" width="2.97" height="5.53" fill="#80a0f0"/>
<rect x="291.91" y="235.80" width="2.97" height="5.53" fill="#f01505"/>
<rect x="294.88" y="235.80" width="2.97" height="5.53" fill="#00ff00"/>
<rect x="297.85" y="235.80" width="2.97" height="5.53" fill="#80a0f0"/>
<rect x="300.82" y="235.80" width="2.97" height="5.53" fill="#c048c0"/>
<rect x="303.79" y="235.80" width="2.97" height="5.53" fill="#00ff00"/>
<rect x="306.76" y="235.80" width="2.97" height="5.53" fill="#80a0f0"/>
<rect x="309.73" y="235.80" width="2.97" height="5.53" fill="#c048c0"/>
<rect x="312.70" y="235.80" width="5.94" height="5.53" fill="#80a0f0"/>
<rect x="318.64" y="235.80" width="2.97" height="5.53" fill="#00ff00"/>
<rect x="321.61" y="235.80" width="5.94" height="5.53" fill="#c048c0"/>
<rect x="327.55" y="235.80" width="5.94" height="5.53" fill="#80a0f0"/>
<rect x="333.49" y="235.80" width="5.94" height="5.53" fill="#00ff00"/>
<rect x="339.43" y="235.80" width="2.97" height="5.53" fill="#80a0f0"/>
<rect x="342.40" y="235.80" width="2.97" height="5.53" fill="#c048c0"/>
<rect x="345.37" y="235.80" width="5.94" height="5.53" fill="#f09048"/>
<rect x="351.31" y="235.80" width="2.97" height="5.53" fill="#00ff00"/>
<rect x="354.28" y="235.80" width="8.91" height="5.53" fill="#80a0f0"/>
<rect x="363.19" y="235.80" width="8.91" height="5.53" fill="#00ff00"/>
<rect x="372.10" y="235.80" width="2.97" height="5.53" fill="#80a0f0"/>
<rect x="375.07" y="235.80" width="2.97" height="5.53" fill="#f09048"/>
<rect x="378.04" y="235.80" width="11.88" height="5.53" fill="#80a0f0"/>
<rect x="389.92" y="235.80" width="8.91" height="5.53" fill="#f09048"/>
<rect x="398.83" y="235.80" width="5.94" height="5.53" fill="#80a0f0"/>
<rect x="404.77" y="235.80" width="2.97" height="5.53" fill="#f09048"/>
<rect x="407.74" y="235.80" width="17.82" height="5.53" fill="#80a0f0"/>
<rect x="425.56" y="235.80" width="2.97" height="5.53" fill="#f09048"/>
<rect x="428.53" y="235.80" width="2.97" height="5.53" fill="#80a0f0"/>
<rect x="431.50" y="235.80" width="2.97" height="5.53" fill="#f08080"/>
<rect x="434.47" y="235.80" width="2.97" height="5.53" fill="#00ff00"/>
<rect x="437.44" y="235.80" width="2.97" height="5.53" fill="#80a0f0"/>
<rect x="440.41" y="235.80" width="2.97" height="5.53" fill="#00ff00"/>
<rect x="443.38" y="235.80" width="11.88" height="5.53" fill="#80a0f0"/>
<rect x="455.26" y="235.80" width="2.97" height="5.53" fill="#ffff00"/>
<rect x="458.23" y="235.80" width="5.94" height="5.53" fill="#80a0f0"/>
<rect x="464.17" y="235.80" width="2.97" height="5.53" fill="#f09048"/>
<rect x="467.14" y="235.80" width="2.97" height="5.53" fill="#80a0f0"/>
<rect x="470.11" y="235.80" width="2.97" height="5.53" fill="#f08080"/>
<rect x="473.08" y="235.80" width="2.97" height="5.53" fill="#80a0f0"/>
<rect x="476.05" y="235.80" width="2.97" height="5.53" fill="#15a4a4"/>
<rect x="479.02" y="235.80" width="2.97" height="5.53" fill="#80a0f0"/>
<rect x="481.99" y="235.80" width="2.97" height="5.53" fill="#f09048"/>
<rect x="484.96" y="235.80" width="2.97" height="5.53" fill="#80a0f0"/>
<rect x="487.93" y="235.80" width="2.97" height="5.53" fill="#f01505"/>
<rect x="490.90" y="235.80" width="8.91" height="5.53" fill="#80a0f0"/>
<rect x="499.81" y="235.80" width="2.97" height="5.53" fill="#00ff00"/>
<rect x="502.78" y="235.80" width="2.97" height="5.53" fill="#f09048"/>
<rect x="505.75" y="235.80" width="2.97" height="5.53" fill="#15a4a4"/>
<rect x="508.72" y="235.80" width="8.91" height="5.53" fill="#80a0f0"/>
<rect x="517.63" y="235.80" width="5.94" height="5.53" fill="#15a4a4"/>
<rect x="523.57" y="235.80" width="23.76" height="5.53" fill="#00ff00"/>
</g>
<g class="m" font-size="5.500" font-weight="bold" fill="#000" fill-opacity="0.8" xml:space="preserve">
<text x="283.00" y="48.55" textLength="264.33" lengthAdjust="spacingAndGlyphs">MNTKTFEQFDVMTEAELAKVEGGKTIYYGNGLYCNANKCWVNWSQTATTIANNSVMNGLTGGNAGWHSGGRA                 </text>
<text x="283.00" y="54.04" textLength="264.33" lengthAdjust="spacingAndGlyphs">MNTKTFEQFDVMTETELSTVEGGK      SFFYDFG YWYGSHA   SLSNLANNLGRMLKS                          </text>
<text x="283.00" y="59.52" textLength="264.33" lengthAdjust="spacingAndGlyphs">MNTKTFEQFDVMTEAELSTVEGGK      SFFYDFG YWYGSHA   SLSNLANNLGRMLKS                          </text>
<text x="283.00" y="65.00" textLength="264.33" lengthAdjust="spacingAndGlyphs">MNTKTFEQFDVMTEAELSTVEGGK      SFFYDFG YWYGSHA   SLSNLANNLGRMLKS                          </text>
<text x="283.00" y="70.47" textLength="264.33" lengthAdjust="spacingAndGlyphs">  MKNLEQFDVMTEAELSTVEGGK      SFFYDFG YWYGSHA   SLSNLANNLGRMLKS                          </text>
<text x="283.00" y="75.95" textLength="264.33" lengthAdjust="spacingAndGlyphs">  MKNLEQFDVMTEAELSHVEGGK      SFFYDFG YWYGSHA   SLSNLANNLGRMLKS                          </text>
<text x="283.00" y="81.43" textLength="264.33" lengthAdjust="spacingAndGlyphs">  MKNLEQFDVMTEAELSMVEGGK      SFFYDFG YWYGSHA   SLSNLANNLGRMLKS                          </text>
<text x="283.00" y="86.91" textLength="264.33" lengthAdjust="spacingAndGlyphs">  MKNLEQFDVMTEAELSMVEGGK      SFFYDFG YWYGSHA   SLSNLANNLGRMLKS                          </text>
<text x="283.00" y="92.39" textLength="264.33" lengthAdjust="spacingAndGlyphs">MNTKTFEQFDVMTEAEPSTVEG                          GWAVGLNYVWRH                             </text>
<text x="283.00" y="97.88" textLength="264.33" lengthAdjust="spacingAndGlyphs">MNTKTFEQFDVMTEAESSTVEG                          GWAVGLNYVWRH                             </text>
<text x="283.00" y="103.36" textLength="264.33" lengthAdjust="spacingAndGlyphs">MNTKTFEQFDVMTEAELSTVEGGGKGYYKPVYYAANG YSCRYST   GDWGYWVTKGAFQATTDVIATGAVSSLGGAVGVATSAGRRP</text>
<text x="283.00" y="108.83" textLength="264.33" lengthAdjust="spacingAndGlyphs">MNTKTFEQFDVMTEAELSTVEGGGKGYYKPVYYAANG YSCR                                               </text>
<text x="283.00" y="114.31" textLength="264.33" lengthAdjust="spacingAndGlyphs">MNTKTFEQFDVMTEAELSTVEGGGKGYYKPVYYAANG YSCRYST   GDWGYWVTKGAFQATTDVIANGAVSSLGGGYFGRP      </text>
<text x="283.00" y="119.80" textLength="264.33" lengthAdjust="spacingAndGlyphs">MNTKTFEQFDVMTEAELSTVEGGGKGYYKPVYYAANG YSCRYST   GDWGYWVTKGAFQATTDVIANGAVSSLGGGYFGRP      </text>
<text x="283.00" y="125.27" textLength="264.33" lengthAdjust="spacingAndGlyphs">MNTKTFEQFDVMTSAELSMVEGGS  VEV VGIVLGA AWAIYSF   GEAAGKTAYYVTMSK                          </text>
<text x="283.00" y="130.75" textLength="264.33" lengthAdjust="spacingAndGlyphs">  MKNLEQFEALTEAELSTVEGGS  AEV VGIVLGA AWAIYSF   GEAAGKTAYYVTMSK                          </text>
<text x="283.00" y="136.24" textLength="264.33" lengthAdjust="spacingAndGlyphs">  MKNLEQFDVMTEAELSTVEGGS  VEA VGIVLGA AWAIYSF   GEAAGKTAYYVTMSK                          </text>
<text x="283.00" y="141.72" textLength="264.33" lengthAdjust="spacingAndGlyphs">MNTKTFEQFDVMTEAELSMVEGGN  KC  VNAIFGG ALTGAGS   GFVGGFATLGVTSIPGAFVGAHFSAIAGGLYCVGASL    </text>
<text x="283.00" y="147.20" textLength="264.33" lengthAdjust="spacingAndGlyphs">  MKNLEQFDVMTEAELSMVEGGGG KC  AAGVGGG AFSGLAAAGAGLAAASNPVGWVAGGIIVGSAVAGGGLTGAATFC       </text>
<text x="283.00" y="152.68" textLength="264.33" lengthAdjust="spacingAndGlyphs">  MKNLEQFDVMTEAELSMVEGGGG KC  AAGVGGG AFSGLAAAGAGLAAASNPVGWVAGGIIVGSAVAGGGLTGAATFC       </text>
<text x="283.00" y="158.16" textLength="264.33" lengthAdjust="spacingAndGlyphs">MNTQVIDKFEVLDKETLLRVEGGGGLKC  GLGTVGG ALTGGVA   GAAVGTVTLPIIGTVSGSAAGFWGGAATGAATFC       </text>
<text x="283.00" y="163.64" textLength="264.33" lengthAdjust="spacingAndGlyphs">MNTQVIDKFEVLDKETLLRVEGGGGLKC  GLGTVGG ALTGGVA   GAAVGTVTLPIIGTVSGSAAGFWGGAATGAATFC       </text>
<text x="283.00" y="169.12" textLength="264.33" lengthAdjust="spacingAndGlyphs">MNTKTFEQFDVMTEAELSMVEGGGLVKC  GLGTVGG ALTGGVA   GAAVGTVTLPIIGTVSGTAAGFWGGAATGAATFC       </text>
<text x="283.00" y="174.60" textLength="264.33" lengthAdjust="spacingAndGlyphs">MNTKTFEQFDVMTEAELSMVEGGGLVKC  GLGTVGG ALTGGVA   GAAVGTVTLPIIGTVSGTAAGFWGGAATGAATFC       </text>
<text x="283.00" y="180.08" textLength="264.33" lengthAdjust="spacingAndGlyphs">  MKNLEQFAAMTEAELSTVEGGK  KCN YSQVIFD GFMGAAGNVPGIVIGGIG GAVLNYGGYCL                     </text>
<text x="283.00" y="185.56" textLength="264.33" lengthAdjust="spacingAndGlyphs">MNTKTFEQFDVMTDEALSTVEGGK  KCN YSQVIFD GFMGAAA   GAAGNVP  GIVIGIGGAVLLSYGGYCL             </text>
<text x="283.00" y="191.04" textLength="264.33" lengthAdjust="spacingAndGlyphs">MNTKTFEQFDVMTDEALSTVEGGK  KCN YSQVIFD GFMGAAA   GAAGNVP  GIVIGIGGAVLLSYGGYCL             </text>
<text x="283.00" y="196.52" textLength="264.33" lengthAdjust="spacingAndGlyphs">  MKNLEQFDVMTEAELSTVEGGV  SC  FEQVIGV GGLGSSA   GPWGLVG  GVLVLAAAFCMK                    </text>
<text x="283.00" y="202.00" textLength="264.33" lengthAdjust="spacingAndGlyphs">MNTKTFEQFDVMTEAELSTVEGGV  SC  FEQVIGV GGLGSSA   GPWGLVG  GVLVLAAAFCMK                    </text>
<text x="283.00" y="207.48" textLength="264.33" lengthAdjust="spacingAndGlyphs">MNTKTFEQFDVMTEAELSTVEGGV  SC  FEQVIGV GGLGSSA   GPWGLVG  GVLVLAAAFCMK                    </text>
<text x="283.00" y="212.96" textLength="264.33" lengthAdjust="spacingAndGlyphs">MNSAIFEQLEVLETKTLSTIEGGGYGAQC VVGTVGS VILGGAL  FGPFGAGA  GVVGGSTAFCYSKVH                 </text>
<text x="283.00" y="218.44" textLength="264.33" lengthAdjust="spacingAndGlyphs">MNSAIFEQLEVLETKTLSTIEGGGYGAQC VVGTVGS VILGGAL  FGPFGAGA  GVVGGSTAFCYSKVH                 </text>
<text x="283.00" y="223.92" textLength="264.33" lengthAdjust="spacingAndGlyphs">MNSAIFEQLEVLETKTLSTIEGGGYGAQC VVGTVGS VILGGAL  FGPFGAGA  GVVGGSTAFCYSKVH                 </text>
<text x="283.00" y="229.40" textLength="264.33" lengthAdjust="spacingAndGlyphs">  MKNLEQFDVMTDEALSTVEGGNVVINT AGVAIAG GVVGA     GVCSASVALAPFTGACAYVGAKAFASGYLIAHYS       </text>
<text x="283.00" y="234.88" textLength="264.33" lengthAdjust="spacingAndGlyphs">  MKNLEQFDVMTDEALSTVEGGNVVINT AGVAIAG GVVGA     GVCSASVALAPFAGACAYVGAKALASGYLIAHYS       </text>
<text x="283.00" y="240.36" textLength="264.33" lengthAdjust="spacingAndGlyphs">  MKNLEQFDVMTDEALSTVEGGNVVINT AGVAIAG GVVGA     GVCSASVALAPFAGACAYVGAKALASGYLIAHYS       </text>
</g>
<g class="m" font-size="5.500" fill="#000" fill-opacity="0.7" xml:space="preserve">
<text x="283.00" y="48.26" textLength="264.33" lengthAdjust="spacingAndGlyphs">                                                                        -----------------</text>
<text x="283.00" y="53.74" textLength="264.33" lengthAdjust="spacingAndGlyphs">                        ------       -       ---               --------------------------</text>
<text x="283.00" y="59.22" textLength="264.33" lengthAdjust="spacingAndGlyphs">                        ------       -       ---               --------------------------</text>
<text x="283.00" y="64.70" textLength="264.33" lengthAdjust="spacingAndGlyphs">                        ------       -       ---               --------------------------</text>
<text x="283.00" y="70.17" textLength="264.33" lengthAdjust="spacingAndGlyphs">--                      ------       -       ---               --------------------------</text>
<text x="283.00" y="75.66" textLength="264.33" lengthAdjust="spacingAndGlyphs">--                      ------       -       ---               --------------------------</text>
<text x="283.00" y="81.13" textLength="264.33" lengthAdjust="spacingAndGlyphs">--                      ------       -       ---               --------------------------</text>
<text x="283.00" y="86.61" textLength="264.33" lengthAdjust="spacingAndGlyphs">--                      ------       -       ---               --------------------------</text>
<text x="283.00" y="92.09" textLength="264.33" lengthAdjust="spacingAndGlyphs">                      --------------------------            -----------------------------</text>
<text x="283.00" y="97.58" textLength="264.33" lengthAdjust="spacingAndGlyphs">                      --------------------------            -----------------------------</text>
<text x="283.00" y="103.06" textLength="264.33" lengthAdjust="spacingAndGlyphs">                                     -       ---                                         </text>
<text x="283.00" y="108.53" textLength="264.33" lengthAdjust="spacingAndGlyphs">                                     -    -----------------------------------------------</text>
<text x="283.00" y="114.02" textLength="264.33" lengthAdjust="spacingAndGlyphs">                                     -       ---                                   ------</text>
<text x="283.00" y="119.50" textLength="264.33" lengthAdjust="spacingAndGlyphs">                                     -       ---                                   ------</text>
<text x="283.00" y="124.97" textLength="264.33" lengthAdjust="spacingAndGlyphs">                        --   -       -       ---               --------------------------</text>
<text x="283.00" y="130.45" textLength="264.33" lengthAdjust="spacingAndGlyphs">--                      --   -       -       ---               --------------------------</text>
<text x="283.00" y="135.94" textLength="264.33" lengthAdjust="spacingAndGlyphs">--                      --   -       -       ---               --------------------------</text>
<text x="283.00" y="141.42" textLength="264.33" lengthAdjust="spacingAndGlyphs">                        --  --       -       ---                                     ----</text>
<text x="283.00" y="146.90" textLength="264.33" lengthAdjust="spacingAndGlyphs">--                       -  --       -                                            -------</text>
<text x="283.00" y="152.38" textLength="264.33" lengthAdjust="spacingAndGlyphs">--                       -  --       -                                            -------</text>
<text x="283.00" y="157.86" textLength="264.33" lengthAdjust="spacingAndGlyphs">                            --       -       ---                                  -------</text>
<text x="283.00" y="163.34" textLength="264.33" lengthAdjust="spacingAndGlyphs">                            --       -       ---                                  -------</text>
<text x="283.00" y="168.81" textLength="264.33" lengthAdjust="spacingAndGlyphs">                            --       -       ---                                  -------</text>
<text x="283.00" y="174.30" textLength="264.33" lengthAdjust="spacingAndGlyphs">                            --       -       ---                                  -------</text>
<text x="283.00" y="179.78" textLength="264.33" lengthAdjust="spacingAndGlyphs">--                      --   -       -                  -           ---------------------</text>
<text x="283.00" y="185.25" textLength="264.33" lengthAdjust="spacingAndGlyphs">                        --   -       -       ---       --                   -------------</text>
<text x="283.00" y="190.74" textLength="264.33" lengthAdjust="spacingAndGlyphs">                        --   -       -       ---       --                   -------------</text>
<text x="283.00" y="196.22" textLength="264.33" lengthAdjust="spacingAndGlyphs">--                      --  --       -       ---       --            --------------------</text>
<text x="283.00" y="201.69" textLength="264.33" lengthAdjust="spacingAndGlyphs">                        --  --       -       ---       --            --------------------</text>
<text x="283.00" y="207.18" textLength="264.33" lengthAdjust="spacingAndGlyphs">                        --  --       -       ---       --            --------------------</text>
<text x="283.00" y="212.66" textLength="264.33" lengthAdjust="spacingAndGlyphs">                             -       -       --        --               -----------------</text>
<text x="283.00" y="218.14" textLength="264.33" lengthAdjust="spacingAndGlyphs">                             -       -       --        --               -----------------</text>
<text x="283.00" y="223.62" textLength="264.33" lengthAdjust="spacingAndGlyphs">                             -       -       --        --               -----------------</text>
<text x="283.00" y="229.09" textLength="264.33" lengthAdjust="spacingAndGlyphs">--                           -       -     -----                                  -------</text>
<text x="283.00" y="234.58" textLength="264.33" lengthAdjust="spacingAndGlyphs">--                           -       -     -----                                  -------</text>
<text x="283.00" y="240.06" textLength="264.33" lengthAdjust="spacingAndGlyphs">--                           -       -     -----                                  -------</text>
</g>
<g shape-rendering="crispEdges">
<rect x="283.00" y="247.0" width="2.97" height="5.50" fill="#80a0f0"/>
<rect x="285.97" y="247.0" width="5.94" height="5.50" fill="#00ff00"/>
<rect x="291.91" y="247.0" width="2.97" height="5.50" fill="#f01505"/>
<rect x="294.88" y="247.0" width="2.97" height="5.50" fill="#00ff00"/>
<rect x="297.85" y="247.0" width="2.97" height="5.50" fill="#80a0f0"/>
<rect x="300.82" y="247.0" width="2.97" height="5.50" fill="#c048c0"/>
<rect x="303.79" y="247.0" width="2.97" height="5.50" fill="#00ff00"/>
<rect x="306.76" y="247.0" width="2.97" height="5.50" fill="#80a0f0"/>
<rect x="309.73" y="247.0" width="2.97" height="5.50" fill="#c048c0"/>
<rect x="312.70" y="247.0" width="5.94" height="5.50" fill="#80a0f0"/>
<rect x="318.64" y="247.0" width="2.97" height="5.50" fill="#00ff00"/>
<rect x="321.61" y="247.0" width="2.97" height="5.50" fill="#c048c0"/>
<rect x="324.58" y="247.0" width="2.97" height="5.50" fill="#80a0f0"/>
<rect x="327.55" y="247.0" width="2.97" height="5.50" fill="#c048c0"/>
<rect x="330.52" y="247.0" width="2.97" height="5.50" fill="#80a0f0"/>
<rect x="333.49" y="247.0" width="5.94" height="5.50" fill="#00ff00"/>
<rect x="339.43" y="247.0" width="2.97" height="5.50" fill="#80a0f0"/>
<rect x="342.40" y="247.0" width="2.97" height="5.50" fill="#c048c0"/>
<rect x="345.37" y="247.0" width="8.91" height="5.50" fill="#f09048"/>
<rect x="354.28" y="247.0" width="2.97" height="5.50" fill="#f01505"/>
<rect x="357.25" y="247.0" width="2.97" height="5.50" fill="#f09048"/>
<rect x="360.22" y="247.0" width="2.97" height="5.50" fill="#f01505"/>
<rect x="363.19" y="247.0" width="2.97" height="5.50" fill="#f08080"/>
<rect x="366.16" y="247.0" width="2.97" height="5.50" fill="#f01505"/>
<rect x="369.13" y="247.0" width="2.97" height="5.50" fill="#ffff00"/>
<rect x="372.10" y="247.0" width="5.94" height="5.50" fill="#80a0f0"/>
<rect x="378.04" y="247.0" width="2.97" height="5.50" fill="#f09048"/>
<rect x="381.01" y="247.0" width="5.94" height="5.50" fill="#80a0f0"/>
<rect x="386.95" y="247.0" width="5.94" height="5.50" fill="#f09048"/>
<rect x="392.89" y="247.0" width="2.97" height="5.50" fill="#f01505"/>
<rect x="395.86" y="247.0" width="2.97" height="5.50" fill="#15a4a4"/>
<rect x="398.83" y="247.0" width="2.97" height="5.50" fill="#80a0f0"/>
<rect x="401.80" y="247.0" width="2.97" height="5.50" fill="#15a4a4"/>
<rect x="404.77" y="247.0" width="2.97" height="5.50" fill="#f09048"/>
<rect x="407.74" y="247.0" width="2.97" height="5.50" fill="#00ff00"/>
<rect x="410.71" y="247.0" width="8.91" height="5.50" fill="#80a0f0"/>
<rect x="419.62" y="247.0" width="2.97" height="5.50" fill="#f09048"/>
<rect x="422.59" y="247.0" width="2.97" height="5.50" fill="#80a0f0"/>
<rect x="425.56" y="247.0" width="2.97" height="5.50" fill="#f09048"/>
<rect x="428.53" y="247.0" width="5.94" height="5.50" fill="#80a0f0"/>
<rect x="434.47" y="247.0" width="5.94" height="5.50" fill="#f09048"/>
<rect x="440.41" y="247.0" width="2.97" height="5.50" fill="#80a0f0"/>
<rect x="443.38" y="247.0" width="5.94" height="5.50" fill="#00ff00"/>
<rect x="449.32" y="247.0" width="2.97" height="5.50" fill="#80a0f0"/>
<rect x="452.29" y="247.0" width="2.97" height="5.50" fill="#f09048"/>
<rect x="455.26" y="247.0" width="5.94" height="5.50" fill="#80a0f0"/>
<rect x="461.20" y="247.0" width="5.94" height="5.50" fill="#f09048"/>
<rect x="467.14" y="247.0" width="5.94" height="5.50" fill="#00ff00"/>
<rect x="473.08" y="247.0" width="5.94" height="5.50" fill="#80a0f0"/>
<rect x="479.02" y="247.0" width="2.97" height="5.50" fill="#f08080"/>
<rect x="481.99" y="247.0" width="5.94" height="5.50" fill="#80a0f0"/>
<rect x="487.93" y="247.0" width="2.97" height="5.50" fill="#f01505"/>
<rect x="490.90" y="247.0" width="2.97" height="5.50" fill="#80a0f0"/>
<rect x="493.87" y="247.0" width="5.94" height="5.50" fill="#f09048"/>
<rect x="499.81" y="247.0" width="2.97" height="5.50" fill="#00ff00"/>
<rect x="502.78" y="247.0" width="2.97" height="5.50" fill="#80a0f0"/>
<rect x="505.75" y="247.0" width="2.97" height="5.50" fill="#00ff00"/>
<rect x="508.72" y="247.0" width="2.97" height="5.50" fill="#f09048"/>
<rect x="511.69" y="247.0" width="5.94" height="5.50" fill="#80a0f0"/>
<rect x="517.63" y="247.0" width="2.97" height="5.50" fill="#00ff00"/>
<rect x="520.60" y="247.0" width="2.97" height="5.50" fill="#80a0f0"/>
<rect x="523.57" y="247.0" width="2.97" height="5.50" fill="#f08080"/>
<rect x="526.54" y="247.0" width="2.97" height="5.50" fill="#ffff00"/>
<rect x="529.51" y="247.0" width="2.97" height="5.50" fill="#00ff00"/>
<rect x="532.48" y="247.0" width="2.97" height="5.50" fill="#80a0f0"/>
<rect x="535.45" y="247.0" width="2.97" height="5.50" fill="#f09048"/>
<rect x="538.42" y="247.0" width="5.94" height="5.50" fill="#f01505"/>
<rect x="544.36" y="247.0" width="2.97" height="5.50" fill="#ffff00"/>
</g>
<text class="m" font-size="6" font-weight="bold" fill="#000" fill-opacity="0.85" x="283.00" y="251.75" textLength="264.33" lengthAdjust="spacingAndGlyphs">MNTKTFEQFDVMTEAELSTVEGGgKgkckpvfgvigGRywygsaaagfGiaggvstlGvfggstafcaakwggsatgaatfcpsigRRp</text>
<text class="m" font-size="6.1" fill="#111" stroke="#111" stroke-width="0.15" x="235.8" y="252.1" textLength="43.9" lengthAdjust="spacingAndGlyphs" xml:space="preserve">Consensus (50%)</text>
<g fill="#c4c4c4" stroke="#707070" stroke-width="0.5">
<rect x="283.15" y="264.10" width="2.67" height="13.20"/>
<rect x="286.12" y="263.90" width="2.67" height="13.40"/>
<rect x="289.09" y="265.40" width="2.67" height="11.90"/>
<rect x="292.06" y="258.50" width="2.67" height="18.80"/>
<rect x="295.03" y="267.30" width="2.67" height="10.00"/>
<rect x="298.00" y="265.10" width="2.67" height="12.20"/>
<rect x="300.97" y="256.90" width="2.67" height="20.40"/>
<rect x="303.94" y="257.00" width="2.67" height="20.30"/>
<rect x="306.91" y="257.60" width="2.67" height="19.70"/>
<rect x="309.88" y="260.30" width="2.67" height="17.00"/>
<rect x="312.85" y="256.90" width="2.67" height="20.40"/>
<rect x="315.82" y="259.30" width="2.67" height="18.00"/>
<rect x="318.79" y="258.80" width="2.67" height="18.50"/>
<rect x="321.76" y="268.40" width="2.67" height="8.90"/>
<rect x="324.73" y="262.60" width="2.67" height="14.70"/>
<rect x="327.70" y="261.90" width="2.67" height="15.40"/>
<rect x="330.67" y="256.90" width="2.67" height="20.40"/>
<rect x="333.64" y="257.50" width="2.67" height="19.80"/>
<rect x="336.61" y="262.60" width="2.67" height="14.70"/>
<rect x="339.58" y="257.50" width="2.67" height="19.80"/>
<rect x="342.55" y="255.70" width="2.67" height="21.60"/>
<rect x="345.52" y="255.70" width="2.67" height="21.60"/>
<rect x="348.49" y="255.70" width="2.67" height="21.60"/>
<rect x="351.46" y="269.70" width="2.67" height="7.60"/>
<rect x="354.43" y="275.40" width="2.67" height="1.90"/>
<rect x="357.40" y="273.30" width="2.67" height="4.00"/>
<rect x="360.37" y="271.30" width="2.67" height="6.00"/>
<rect x="363.34" y="267.40" width="2.67" height="9.90"/>
<rect x="366.31" y="275.30" width="2.67" height="2.00"/>
<rect x="369.28" y="275.30" width="2.67" height="2.00"/>
<rect x="372.25" y="271.10" width="2.67" height="6.20"/>
<rect x="375.22" y="273.50" width="2.67" height="3.80"/>
<rect x="378.19" y="270.40" width="2.67" height="6.90"/>
<rect x="381.16" y="271.30" width="2.67" height="6.00"/>
<rect x="384.13" y="272.30" width="2.67" height="5.00"/>
<rect x="387.10" y="268.20" width="2.67" height="9.10"/>
<rect x="390.07" y="264.80" width="2.67" height="12.50"/>
<rect x="393.04" y="276.80" width="2.67" height="0.50"/>
<rect x="396.01" y="271.20" width="2.67" height="6.10"/>
<rect x="398.98" y="271.20" width="2.67" height="6.10"/>
<rect x="401.95" y="273.60" width="2.67" height="3.70"/>
<rect x="404.92" y="261.80" width="2.67" height="15.50"/>
<rect x="407.89" y="271.60" width="2.67" height="5.70"/>
<rect x="410.86" y="272.90" width="2.67" height="4.40"/>
<rect x="413.83" y="266.90" width="2.67" height="10.40"/>
<rect x="416.80" y="276.70" width="2.67" height="0.60"/>
<rect x="419.77" y="276.70" width="2.67" height="0.60"/>
<rect x="422.74" y="275.90" width="2.67" height="1.40"/>
<rect x="425.71" y="261.40" width="2.67" height="15.90"/>
<rect x="428.68" y="272.30" width="2.67" height="5.00"/>
<rect x="431.65" y="269.20" width="2.67" height="8.10"/>
<rect x="434.62" y="270.10" width="2.67" height="7.20"/>
<rect x="437.59" y="270.90" width="2.67" height="6.40"/>
<rect x="440.56" y="272.80" width="2.67" height="4.50"/>
<rect x="443.53" y="271.20" width="2.67" height="6.10"/>
<rect x="446.50" y="272.80" width="2.67" height="4.50"/>
<rect x="449.47" y="269.10" width="2.67" height="8.20"/>
<rect x="452.44" y="263.80" width="2.67" height="13.50"/>
<rect x="455.41" y="271.40" width="2.67" height="5.90"/>
<rect x="458.38" y="272.50" width="2.67" height="4.80"/>
<rect x="461.35" y="272.50" width="2.67" height="4.80"/>
<rect x="464.32" y="269.30" width="2.67" height="8.00"/>
<rect x="467.29" y="271.40" width="2.67" height="5.90"/>
<rect x="470.26" y="274.10" width="2.67" height="3.20"/>
<rect x="473.23" y="271.40" width="2.67" height="5.90"/>
<rect x="476.20" y="273.70" width="2.67" height="3.60"/>
<rect x="479.17" y="273.70" width="2.67" height="3.60"/>
<rect x="482.14" y="273.40" width="2.67" height="3.90"/>
<rect x="485.11" y="274.30" width="2.67" height="3.00"/>
<rect x="488.08" y="274.30" width="2.67" height="3.00"/>
<rect x="491.05" y="273.70" width="2.67" height="3.60"/>
<rect x="494.02" y="271.80" width="2.67" height="5.50"/>
<rect x="496.99" y="272.80" width="2.67" height="4.50"/>
<rect x="499.96" y="274.30" width="2.67" height="3.00"/>
<rect x="502.93" y="274.50" width="2.67" height="2.80"/>
<rect x="505.90" y="273.70" width="2.67" height="3.60"/>
<rect x="508.87" y="271.30" width="2.67" height="6.00"/>
<rect x="511.84" y="273.90" width="2.67" height="3.40"/>
<rect x="514.81" y="272.50" width="2.67" height="4.80"/>
<rect x="517.78" y="273.80" width="2.67" height="3.50"/>
<rect x="520.75" y="274.20" width="2.67" height="3.10"/>
<rect x="523.72" y="274.30" width="2.67" height="3.00"/>
<rect x="526.69" y="276.50" width="2.67" height="0.80"/>
<rect x="529.66" y="276.80" width="2.67" height="0.50"/>
<rect x="532.63" y="276.90" width="2.67" height="0.40"/>
<rect x="535.60" y="276.90" width="2.67" height="0.40"/>
<rect x="538.57" y="277.00" width="2.67" height="0.30"/>
<rect x="541.54" y="277.00" width="2.67" height="0.30"/>
<rect x="544.51" y="277.00" width="2.67" height="0.30"/>
</g>
<line x1="282.2" y1="255.5" x2="282.2" y2="278" stroke="#bbb" stroke-width="0.6"/>
<rect x="345.37" y="44.00" width="5.94" height="197.28" fill="#fff" fill-opacity="0.5"/>
<rect x="345.37" y="247.0" width="5.94" height="30.30" fill="#fff" fill-opacity="0.5"/>
<rect x="346.1" y="242.1" width="4.6" height="4.4" fill="#111"/>
<text class="s" font-size="4.4" font-weight="bold" fill="#eee" x="348.4" y="245.6" text-anchor="middle">x</text>
<line x1="283.0" y1="41.3" x2="547.33" y2="41.3" stroke="#555" stroke-width="0.8"/>
<line x1="311.22" y1="38.8" x2="311.22" y2="41.3" stroke="#444" stroke-width="0.6"/>
<text class="m" font-size="5" fill="#111" stroke="#111" stroke-width="0.1" x="311.22" y="33.4" text-anchor="middle">10</text>
<line x1="340.92" y1="38.8" x2="340.92" y2="41.3" stroke="#444" stroke-width="0.6"/>
<text class="m" font-size="5" fill="#111" stroke="#111" stroke-width="0.1" x="340.92" y="33.4" text-anchor="middle">20</text>
<line x1="370.62" y1="38.8" x2="370.62" y2="41.3" stroke="#444" stroke-width="0.6"/>
<text class="m" font-size="5" fill="#111" stroke="#111" stroke-width="0.1" x="370.62" y="33.4" text-anchor="middle">30</text>
<line x1="400.31" y1="38.8" x2="400.31" y2="41.3" stroke="#444" stroke-width="0.6"/>
<text class="m" font-size="5" fill="#111" stroke="#111" stroke-width="0.1" x="400.31" y="33.4" text-anchor="middle">40</text>
<line x1="430.01" y1="38.8" x2="430.01" y2="41.3" stroke="#444" stroke-width="0.6"/>
<text class="m" font-size="5" fill="#111" stroke="#111" stroke-width="0.1" x="430.01" y="33.4" text-anchor="middle">50</text>
<line x1="459.72" y1="38.8" x2="459.72" y2="41.3" stroke="#444" stroke-width="0.6"/>
<text class="m" font-size="5" fill="#111" stroke="#111" stroke-width="0.1" x="459.72" y="33.4" text-anchor="middle">60</text>
<line x1="489.42" y1="38.8" x2="489.42" y2="41.3" stroke="#444" stroke-width="0.6"/>
<text class="m" font-size="5" fill="#111" stroke="#111" stroke-width="0.1" x="489.42" y="33.4" text-anchor="middle">70</text>
<line x1="519.12" y1="38.8" x2="519.12" y2="41.3" stroke="#444" stroke-width="0.6"/>
<text class="m" font-size="5" fill="#111" stroke="#111" stroke-width="0.1" x="519.12" y="33.4" text-anchor="middle">80</text>
<path d="M283.8 279.4V282.6Q283.8 283.4 284.6 283.4H546.4000000000001Q547.2 283.4 547.2 282.6V278.4M350.9 279.4V283.4M317.5 283.4V288.8M450 283.4V288.8" fill="none" stroke="#000" stroke-width="0.95"/>
<text class="s" font-size="4.7" fill="#111" stroke="#111" stroke-width="0.08" x="315.1" y="298.5" text-anchor="middle">Leader</text>
<text class="s" font-size="4.7" fill="#111" stroke="#111" stroke-width="0.08" x="447.8" y="298.5" text-anchor="middle">Core</text>
<text class="s" font-size="9" font-weight="bold" fill="#000" x="16.3" y="9.75" textLength="5.6" lengthAdjust="spacingAndGlyphs">B</text>
<text class="s" font-size="9.6" font-weight="bold" fill="#111" x="455.1" y="20.7" textLength="86.6" lengthAdjust="spacingAndGlyphs">Bacteriocin class IIb</text>
<path d="M24.4 46.7V84.8M24.4 84.8H46.6M46.6 59.4V109.8M46.6 59.4H68.5M68.5 52.2V69.0M68.5 52.2H69.6M68.5 69.0H69.3M69.3 68.7V75.5M69.3 75.5H71.5M71.5 74.1V82.4M71.5 82.4H74.5M74.5 79.6V85.1M46.6 109.8H58.0M58.0 93.4V125.2M58.0 93.4H78.0M78.0 90.6V96.1M78.0 90.6H78.6M58.0 125.2H70.2M70.2 106.2V143.4M70.2 106.2H99.6M99.6 101.5V110.9M99.6 110.9H100.8M100.8 107.0V115.3M100.8 115.3H102.8M102.8 112.5V118.0M102.8 112.5H103.4M70.2 143.4H85.2M85.2 128.6V159.4M85.2 128.6H126.5M126.5 123.5V131.8M126.5 123.5H128.0M126.5 131.8H128.2M128.2 128.9V134.4M128.2 128.9H130.5M128.2 134.4H129.4M85.2 159.4H94.5M94.5 139.9V177.2M94.5 139.9H115.8M94.5 177.2H102.8M102.8 156.5V198.0M102.8 156.5H111.8M111.8 148.2V164.8M111.8 148.2H145.0M145.0 145.4V150.9M145.0 145.4H145.8M145.0 150.9H145.4M111.8 164.8H128.4M128.4 159.2V170.2M128.4 159.2H140.8M140.8 156.3V161.8M140.8 156.3H141.6M140.8 161.8H141.2M128.4 170.2H129.2M129.2 167.3V172.8M129.2 167.3H130.4M129.2 172.8H129.8M102.8 198.0H111.8M111.8 183.0V212.8M111.8 183.0H132.0M132.0 178.3V186.6M132.0 178.3H158.6M132.0 186.6H145.0M145.0 183.7V189.2M145.0 183.7H145.8M145.0 189.2H145.4M111.8 212.8H122.3M122.3 200.3V225.1M122.3 200.3H141.5M141.5 194.7V205.7M141.5 194.7H144.4M141.5 200.2H142.0M141.5 205.7H142.0M122.3 225.1H130.8M130.8 216.8V233.2M130.8 216.8H184.0M184.0 211.1V222.1M184.0 211.1H185.2M184.0 216.6H184.6M184.0 222.1H184.6M130.8 233.2H178.8M178.8 227.6V238.5M178.8 227.6H181.2M178.8 233.1H179.6M178.8 238.5H179.6" fill="none" stroke="#585858" stroke-width="0.43"/>
<line x1="24.4" y1="46.7" x2="46.8" y2="46.7" stroke="#555" stroke-width="0.9"/>
<line x1="2.5" y1="65.7" x2="24.4" y2="65.7" stroke="#d4d4d4" stroke-width="0.5"/>
<g stroke="#c4c4c4" stroke-width="0.5" stroke-dasharray="1.1 1.9">
<line x1="48.5" y1="46.7" x2="185.5" y2="46.7"/>
<line x1="71.1" y1="52.2" x2="185.5" y2="52.2"/>
<line x1="70.0" y1="57.7" x2="185.5" y2="57.7"/>
<line x1="70.0" y1="63.2" x2="185.5" y2="63.2"/>
<line x1="70.8" y1="68.7" x2="185.5" y2="68.7"/>
<line x1="73.0" y1="74.1" x2="185.5" y2="74.1"/>
<line x1="76.0" y1="79.6" x2="185.5" y2="79.6"/>
<line x1="76.0" y1="85.1" x2="185.5" y2="85.1"/>
<line x1="80.1" y1="90.6" x2="185.5" y2="90.6"/>
<line x1="79.5" y1="96.1" x2="185.5" y2="96.1"/>
<line x1="101.1" y1="101.5" x2="185.5" y2="101.5"/>
<line x1="102.3" y1="107.0" x2="185.5" y2="107.0"/>
<line x1="104.9" y1="112.5" x2="185.5" y2="112.5"/>
<line x1="104.3" y1="118.0" x2="185.5" y2="118.0"/>
<line x1="129.5" y1="123.5" x2="185.5" y2="123.5"/>
<line x1="132.0" y1="128.9" x2="185.5" y2="128.9"/>
<line x1="130.9" y1="134.4" x2="185.5" y2="134.4"/>
<line x1="117.3" y1="139.9" x2="185.5" y2="139.9"/>
<line x1="147.3" y1="145.4" x2="185.5" y2="145.4"/>
<line x1="146.9" y1="150.9" x2="185.5" y2="150.9"/>
<line x1="143.1" y1="156.3" x2="185.5" y2="156.3"/>
<line x1="142.7" y1="161.8" x2="185.5" y2="161.8"/>
<line x1="131.9" y1="167.3" x2="185.5" y2="167.3"/>
<line x1="131.3" y1="172.8" x2="185.5" y2="172.8"/>
<line x1="160.1" y1="178.3" x2="185.5" y2="178.3"/>
<line x1="147.3" y1="183.7" x2="185.5" y2="183.7"/>
<line x1="146.9" y1="189.2" x2="185.5" y2="189.2"/>
<line x1="145.9" y1="194.7" x2="185.5" y2="194.7"/>
<line x1="143.5" y1="200.2" x2="185.5" y2="200.2"/>
<line x1="143.5" y1="205.7" x2="185.5" y2="205.7"/>
<line x1="186.7" y1="211.1" x2="185.5" y2="211.1"/>
<line x1="186.1" y1="216.6" x2="185.5" y2="216.6"/>
<line x1="186.1" y1="222.1" x2="185.5" y2="222.1"/>
<line x1="182.7" y1="227.6" x2="185.5" y2="227.6"/>
<line x1="181.1" y1="233.1" x2="185.5" y2="233.1"/>
<line x1="181.1" y1="238.5" x2="185.5" y2="238.5"/>
</g>
<g class="s" font-size="2.3" fill="#444">
<text x="47.6" y="58.6">0.91</text>
<text x="66.0" y="68.4">0.788</text>
<text x="67.6" y="75.0">0.83</text>
<text x="70.0" y="81.9">0.786</text>
<text x="59.0" y="92.7">0.997</text>
<text x="47.4" y="109.2">0.81</text>
<text x="71.2" y="105.5">0.913</text>
<text x="97.0" y="110.4">0.75</text>
<text x="98.6" y="114.8">0.9</text>
<text x="59.0" y="124.6">0.79</text>
<text x="86.0" y="127.9">0.998</text>
<text x="124.5" y="131.3">0.86</text>
<text x="71.0" y="142.8">0.87</text>
<text x="86.0" y="158.8">0.768</text>
<text x="104.0" y="155.9">0.79</text>
<text x="113.0" y="164.2">0.798</text>
<text x="126.2" y="169.7">0.77</text>
<text x="95.4" y="176.6">0.754</text>
<text x="113.0" y="182.4">0.998</text>
<text x="103.8" y="197.4">0.87</text>
<text x="123.4" y="199.7">0.981</text>
<text x="112.6" y="212.2">0.8</text>
<text x="131.8" y="216.2">0.998</text>
<text x="123.0" y="224.5">0.997</text>
<text x="131.8" y="232.6">0.963</text>
</g>
<text class="s" font-size="3.56" fill="#444" x="2.6" y="38.9">Tree scale: 1</text>
<path d="M26.7 37.7H76.8M26.7 37V38.4M76.8 37V38.4" fill="none" stroke="#666" stroke-width="0.45"/>
<g class="s" font-size="3.63" fill="#000" stroke="#000" stroke-width="0.07">
<text x="187.0" y="48.04">Streptococcus gallolyticus VTM2R47 AEPPEFCF C2064</text>
<text x="187.0" y="53.52">Streptococcus equinus MPR4 MFJLGIDM 00917</text>
<text x="187.0" y="59.00">Streptococcus equinus H24 DCBJEFMH 01396</text>
<text x="187.0" y="64.48">Streptococcus bovis 2B AHIGAKGC 01244</text>
<text x="187.0" y="69.96">Streptococcus equinus HC5 DICLCPHN 01085</text>
<text x="187.0" y="75.44">Streptococcus sp 45 HOECJOOK 01395</text>
<text x="187.0" y="80.92">Streptococcus equinus Sb18 BDOOKLFG 01601</text>
<text x="187.0" y="86.40">Streptococcus equinus Sb13 MLJHMBNL 01222</text>
<text x="187.0" y="91.88">Streptococcus equinus pGA7 IOCPAEDI 00183</text>
<text x="187.0" y="97.36">Streptococcus equinus HC5 DICLCPHN 01084</text>
<text x="187.0" y="102.84">Streptococcus equinus GA1 PPCCGEJC 00856</text>
<text x="187.0" y="108.32">Streptococcus bovis C277 ECJKBIJL 01179</text>
<text x="187.0" y="113.80">Streptococcus bovis ES1 KHADCGDB 01247</text>
<text x="187.0" y="119.28">Streptococcus equinus pR5 CIONANAC 01260</text>
<text x="187.0" y="124.76">Streptococcus equinus Sb04 FEGIAOMP 01248</text>
<text x="187.0" y="130.24">Streptococcus equinus Sb05 PHGJLGIJ 01321</text>
<text x="187.0" y="135.72">Streptococcus bovis JB1 BHHDAHLG 00449</text>
<text x="187.0" y="141.20">Streptococcus equinus AT2 LHDKMBDC 00109</text>
<text x="187.0" y="146.68">Streptococcus equinus Sb17BFJHECHL 01206</text>
<text x="187.0" y="152.16" font-weight="bold" fill="#000">Streptococcus lutetiensis UFV59 ctg8 52</text>
<text x="187.0" y="157.64">Dorea sp AGR2135 PBGDCNKP 02334</text>
<text x="187.0" y="163.12">Dorea longicatena AGR2136 ASCJPOGN 00006</text>
<text x="187.0" y="168.60">Streptococcus equinus MPR2 LDAIOGJH 01797</text>
<text x="187.0" y="174.08">Streptococcus equinus MPR1 DPHPFFFD 01607</text>
<text x="187.0" y="179.56">Streptococcus equinus pGA7 IOCPAEDI 00187</text>
<text x="187.0" y="185.04">Streptococcus gallolyticus VTM1R29 GDPMNIAA 01121</text>
<text x="187.0" y="190.52">Streptococcus gallolyticus VTM1R27 ENCMOGHK 00674</text>
<text x="187.0" y="196.00" font-weight="bold" fill="#000">Streptococcus lutetiensis UFV80 ctg1 3287</text>
<text x="187.0" y="201.48">Streptococcus equinus MPR2 LDAIOGJH 01808</text>
<text x="187.0" y="206.96">Streptococcus equinus MPR1 DPHPFFFD 01604</text>
<text x="187.0" y="212.44" font-weight="bold" fill="#000">Streptococcus lutetiensis UFV80 ctg1 3286</text>
<text x="187.0" y="217.92">Streptococcus equinus MPR2 LDAIOGJH 01807</text>
<text x="187.0" y="223.40">Streptococcus equinus MPR1 DPHPFFFD 01605</text>
<text x="187.0" y="228.88">Streptococcus equinus Sb04 FEGIAOMP 01247</text>
<text x="187.0" y="234.36">Streptococcus equinus Sb20 CMPEMGKL 00884</text>
<text x="187.0" y="239.84">Streptococcus equinus Sb10 EIMIACGL 01209</text>
</g>
</svg></body></html>
